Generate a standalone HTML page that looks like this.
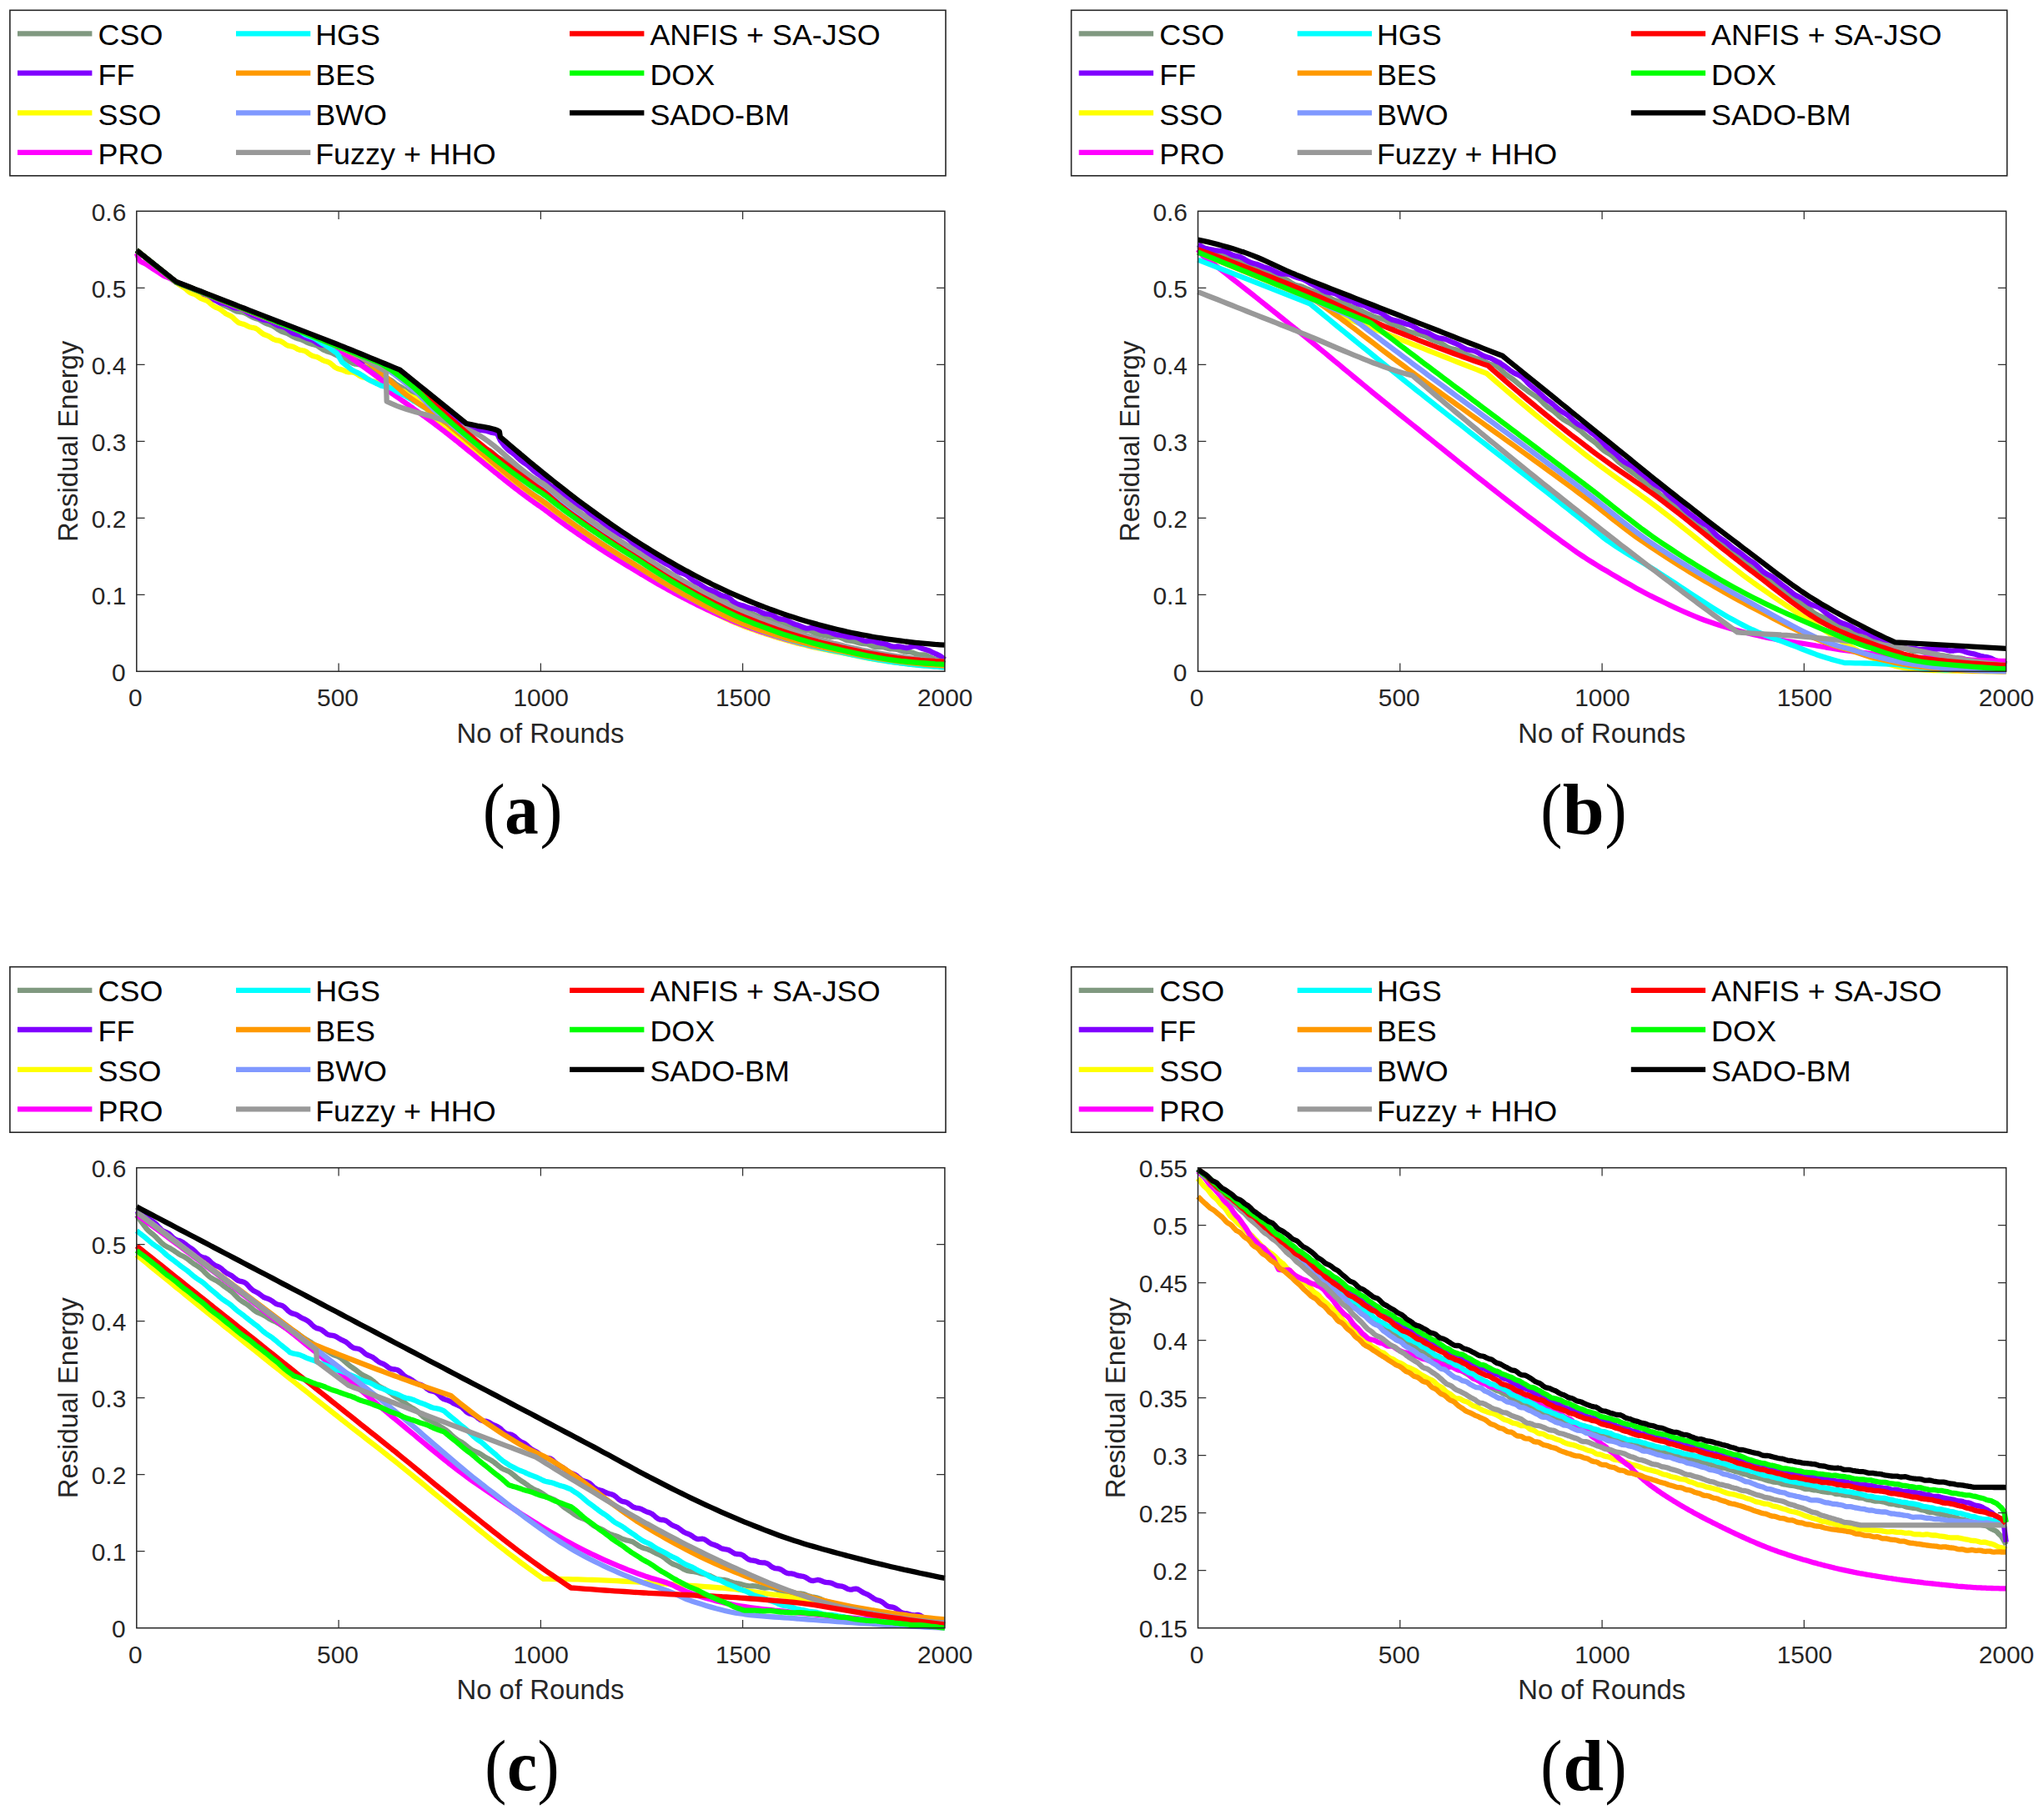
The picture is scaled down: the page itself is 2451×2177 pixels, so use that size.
<!DOCTYPE html><html><head><meta charset="utf-8"><title>Residual Energy</title><style>html,body{margin:0;padding:0;background:#fff;overflow:hidden}svg{display:block}text{font-family:"Liberation Sans",sans-serif}.cap{font-family:"Liberation Serif","DejaVu Serif",serif}</style></head><body>
<svg width="2451" height="2177" viewBox="0 0 2451 2177">
<rect width="2451" height="2177" fill="#fff"/>
<g transform="translate(0,0)">
<rect x="11.9" y="12.3" width="1122.1" height="198.5" fill="#fff" stroke="#262626" stroke-width="1.6"/>
<line x1="21" y1="40.4" x2="110.4" y2="40.4" stroke="#809980" stroke-width="6.3"/>
<text x="117.6" y="53.9" font-size="35.9" fill="#000">CSO</text>
<line x1="21" y1="87.6" x2="110.4" y2="87.6" stroke="#8000ff" stroke-width="6.3"/>
<text x="117.6" y="101.7" font-size="35.9" fill="#000">FF</text>
<line x1="21" y1="135.4" x2="110.4" y2="135.4" stroke="#ffff00" stroke-width="6.3"/>
<text x="117.6" y="149.6" font-size="35.9" fill="#000">SSO</text>
<line x1="21" y1="182.9" x2="110.4" y2="182.9" stroke="#ff00ff" stroke-width="6.3"/>
<text x="117.6" y="197.3" font-size="35.9" fill="#000">PRO</text>
<line x1="283" y1="40.4" x2="372.3" y2="40.4" stroke="#00ffff" stroke-width="6.3"/>
<text x="378.2" y="53.9" font-size="35.9" fill="#000">HGS</text>
<line x1="283" y1="87.6" x2="372.3" y2="87.6" stroke="#ff9900" stroke-width="6.3"/>
<text x="378.2" y="101.7" font-size="35.9" fill="#000">BES</text>
<line x1="283" y1="135.4" x2="372.3" y2="135.4" stroke="#8099ff" stroke-width="6.3"/>
<text x="378.2" y="149.6" font-size="35.9" fill="#000">BWO</text>
<line x1="283" y1="182.9" x2="372.3" y2="182.9" stroke="#999999" stroke-width="6.3"/>
<text x="378.2" y="197.3" font-size="35.9" fill="#000">Fuzzy + HHO</text>
<line x1="683.1" y1="40.4" x2="772.4" y2="40.4" stroke="#ff0000" stroke-width="6.3"/>
<text x="779.4" y="53.9" font-size="35.9" fill="#000">ANFIS + SA-JSO</text>
<line x1="683.1" y1="87.6" x2="772.4" y2="87.6" stroke="#00ff00" stroke-width="6.3"/>
<text x="779.4" y="101.7" font-size="35.9" fill="#000">DOX</text>
<line x1="683.1" y1="135.4" x2="772.4" y2="135.4" stroke="#000000" stroke-width="6.3"/>
<text x="779.4" y="149.6" font-size="35.9" fill="#000">SADO-BM</text>
<clipPath id="clipa"><rect x="159.8" y="253.3" width="977.1" height="556"/></clipPath>
<g clip-path="url(#clipa)" fill="none" stroke-width="6.3" stroke-linejoin="round" stroke-linecap="butt">
<polyline points="163.8,300.2 166.2,302.2 168.6,304.2 171.1,306.1 173.5,308.1 175.9,310.1 178.3,312 180.8,314 183.2,316 185.6,318 188,319.9 190.5,321.9 192.9,323.9 195.3,325.8 197.7,327.8 200.1,329.8 202.6,331.8 205,333.7 207.4,335.7 209.8,337.7 211.3,338.9 212.3,339.3 214.7,340.6 217.1,341.7 217.1,341.8 219.5,342.6 221.9,343.3 223,343.6 224.4,344.1 226.8,345 228.8,346.1 229.2,346.4 231.6,347.7 234.1,348.8 234.6,349.1 236.5,349.8 238.9,350.9 240.5,351.8 241.3,352.4 243.8,354.1 246.2,355.8 246.3,355.9 248.6,357.2 251,358.2 252.1,358.5 253.4,358.8 255.9,359.4 258,360.1 258.3,360.2 260.7,361.5 263.1,363.1 263.8,363.5 265.6,364.6 268,366 269.6,366.8 270.4,367.1 272.8,368.1 275.2,369.2 275.4,369.3 277.7,370.4 280.1,371.8 281.3,372.4 282.5,372.9 284.9,373.7 287.1,374 287.4,374.1 289.8,374.3 292.2,374.9 292.9,375.1 294.6,375.9 297.1,377.2 298.8,378.3 299.5,378.8 301.9,380.1 304.3,381.1 304.6,381.2 306.7,381.9 309.2,382.7 310.4,383.2 311.6,383.8 314,385.2 316.3,386.5 316.4,386.6 318.9,387.8 321.3,388.8 322.1,389 323.7,389.6 326.1,390.5 327.9,391.4 328.5,391.8 331,393.4 333.4,395.2 333.8,395.4 335.8,396.7 338.2,397.8 339.6,398.3 340.7,398.6 343.1,399.4 345.4,400.3 345.5,400.4 347.9,401.7 350.4,403.2 351.3,403.7 352.8,404.5 355.2,405.6 357.1,406.2 357.6,406.3 360,407 362.5,407.8 362.9,408.1 364.9,409 367.3,410.3 368.8,411 369.7,411.4 372.2,412.3 374.6,412.9 374.6,412.9 377,413.5 379.4,414.3 380.4,414.8 381.8,415.6 384.3,417.3 386.3,418.6 386.7,418.9 389.1,420.2 391.5,421.2 392.1,421.4 394,421.9 396.4,422.7 397.9,423.3 398.8,423.7 401.2,424.9 402.2,425.4 403.7,426.2 403.8,426.2 406.1,427.3 408.5,428.2 409.6,428.5 410.9,428.9 413.3,429.9 415.4,431 415.8,431.2 418.2,432.8 420.6,434.4 421.3,434.8 423,435.7 425.5,436.5 427.1,436.7 427.9,436.8 430.3,437.2 432.7,437.7 432.9,437.8 435.1,438.7 437.6,439.9 438.8,440.5 440,441.1 442.4,442.1 444.6,443 444.8,443.1 447.3,444.2 449.7,445.6 450.2,446 450.4,446.1 452.1,447.4 454.5,449.3 456.3,450.5 457,451 459.4,452.2 461.8,453 462.1,453.1 464.2,453.8 466.6,454.9 467.9,455.6 469.1,456.3 471.5,458.1 473.8,459.9 473.9,460 476.3,461.7 478.8,463.2 479.6,463.6 481.2,464.5 483.6,466 485.4,467.2 486,467.7 488.4,469.6 490.9,471.3 491.3,471.6 493.3,472.8 495.7,474 497.1,474.5 498.1,475 499.1,475.4 500.6,476.3 502.9,478.1 503,478.2 505.4,480.7 507.8,483.4 508.8,484.4 510.3,485.9 512.7,488.1 514.6,489.7 515.1,490 517.5,491.8 519.9,493.9 520.4,494.4 522.4,496.1 524.8,498.4 526.3,499.8 527.2,500.6 529.6,502.4 532.1,504 532.1,504.1 534.5,505.7 536.9,507.6 537.9,508.6 539.3,509.9 541.7,512.2 543.8,513.9 544.2,514.3 546.6,515.9 549,517.3 549.6,517.6 551.4,518.6 553.9,520.1 555.4,521.3 556.3,522 558.7,524.1 561.1,526.1 561.3,526.2 563.6,527.8 566,529.2 567.1,529.8 568.4,530.4 570.8,531.7 572.9,533 573.2,533.2 575.7,534.9 578.1,536.5 578.8,536.8 580.5,537.7 582.9,538.7 584.6,539.3 585.4,539.7 587.8,540.9 590.2,542.7 590.4,542.9 592.6,544.8 595,547 596.3,548 597.5,548.9 599.9,550.3 602.1,551.4 602.3,551.5 604.7,552.7 607.2,554.1 607.9,554.6 609.6,555.7 612,557.4 613.8,558.6 614.4,559 616.9,560.3 619.3,561.6 619.6,561.8 621.7,563 624.1,564.9 625.4,566.1 626.5,567.1 629,569.4 631.3,571.3 631.4,571.4 633.8,573 636.2,574.2 637.1,574.5 638.7,575.2 640.1,576 641.1,576.6 642.9,577.8 643.5,578.3 645.9,580.3 648.4,582.3 648.8,582.6 650.3,583.8 650.8,584.1 653.2,585.9 654.6,586.9 655.6,587.6 658,589.7 660.4,592.1 660.5,592.2 662.9,594.8 665.3,597.2 666.3,598 667.7,599.2 670.2,600.7 672.1,601.9 672.6,602.2 675,603.8 677.4,605.8 677.9,606.2 679.8,608.1 682.3,610.4 683.8,611.7 684.7,612.5 687.1,614.3 689.5,615.8 689.6,615.9 692,617.5 694.4,619.4 695.4,620.2 696.8,621.4 699.2,623.4 701.2,624.8 701.3,624.8 701.7,625.1 704.1,626.4 706.5,627.5 707.1,627.8 708.9,628.7 711.3,630.3 712.9,631.6 713.8,632.2 716.2,634.2 718.6,636 718.8,636.1 721,637.4 723.5,638.5 724.6,639 725.9,639.7 728.3,641.1 730.4,642.8 730.7,643 733.1,645 735.6,647 736.3,647.5 738,648.7 740.4,650.2 742.1,651.3 742.8,651.8 745.3,653.5 747.7,655.6 747.9,655.8 750.1,657.7 752.5,659.6 753.8,660.4 755,661.1 757.4,662.2 759.6,663.2 759.8,663.3 762.2,664.6 764.6,666.4 765.4,667 767.1,668.4 769.5,670.5 771.3,671.8 771.9,672.2 774.3,673.6 776.8,674.8 777.1,675 779.2,676 781.6,677.4 782.9,678.2 784,678.9 786.4,680.3 788.8,681.4 788.9,681.5 791.3,682.3 793.7,683.1 794.6,683.4 796.1,684.1 798.6,685.6 800.4,687.1 801,687.6 803.4,689.6 805.8,691.4 806.3,691.7 808.3,692.8 810.7,693.8 812.1,694.4 813.1,694.8 815.5,695.9 817.9,697.3 817.9,697.3 820.4,698.7 822.8,700 823.8,700.4 823.8,700.4 825.2,701 827.6,701.8 829.6,702.6 830.1,702.9 832.5,704.2 834.9,705.9 835.4,706.3 837.3,707.8 839.7,709.4 841.2,710.1 842.2,710.5 844.6,711.2 847,711.7 847.1,711.7 849.4,712.4 851.9,713.5 852.9,714 854.3,714.8 856.7,716 858.7,717 859.1,717.1 861.6,718 864,718.8 864.6,719.1 866.4,719.9 868.8,721.4 870.4,722.5 871.2,723 873.7,724.6 876.1,725.7 876.2,725.8 878.5,726.5 880.9,727.2 882.1,727.6 883.4,728 885.8,729.2 887.9,730.5 888.2,730.7 890.6,732.2 893,733.5 893.7,733.8 895.5,734.3 897.9,734.9 899.6,735.4 900.3,735.6 902.7,736.5 905.2,737.6 905.4,737.7 907.6,738.7 910,739.6 911.2,740 912.4,740.2 914.9,740.6 917.1,741 917.3,741 919.7,741.8 922.1,742.8 922.9,743.2 924.5,743.9 927,744.8 928.7,745.1 929.4,745.2 931.8,745.3 934.2,745.4 934.6,745.5 936.7,745.9 939.1,746.7 940.4,747.3 941.5,747.8 943.9,748.9 946.2,749.8 946.3,749.8 948.8,750.5 951.2,751.2 952.1,751.5 953.6,752 956,753.1 957.9,754.1 958.5,754.3 960.9,755.3 963.3,755.8 963.7,755.9 965.7,756 968.2,756.1 969.6,756.3 970.6,756.5 973,757.3 975.4,758.4 975.4,758.4 977.8,759.6 980.3,760.6 981.2,760.9 982.7,761.2 985.1,761.5 987.1,761.8 987.5,761.9 990,762.4 992.4,763 992.9,763.1 994.8,763.5 997.2,763.8 998.7,763.8 999.6,763.7 1002.1,763.6 1004.5,763.7 1004.6,763.7 1006.9,764.3 1009.3,765.3 1010.4,765.8 1011.8,766.5 1012.2,766.7 1014.2,767.6 1016.2,768.1 1016.6,768.2 1019,768.6 1021.5,768.8 1022.1,768.9 1023.9,769.3 1026.3,770 1027.9,770.5 1028.7,770.8 1031.1,771.4 1033.6,771.8 1033.7,771.8 1036,772 1038.4,772.3 1039.6,772.5 1040.8,772.8 1043.3,773.8 1045.4,774.7 1045.7,774.8 1048.1,775.7 1050.5,776.1 1051.2,776.1 1052.9,776.1 1055.4,776 1057.1,776.1 1057.8,776.1 1060.2,776.5 1062.6,777.2 1062.9,777.3 1065.1,777.9 1067.5,778.3 1068.7,778.4 1069.9,778.4 1072.3,778.5 1074.6,778.8 1074.8,778.8 1075.7,779 1077.2,779.4 1079.6,780.2 1080.4,780.5 1082,781 1084.4,781.6 1086.2,781.7 1086.9,781.8 1089.3,781.8 1091.7,782.1 1092.1,782.2 1094.1,782.7 1096.6,783.7 1097.9,784.2 1099,784.6 1101.4,785.3 1103.7,785.5 1103.8,785.5 1106.2,785.4 1107.7,785.4 1108.7,785.5 1109.6,785.6 1111.1,786.2 1113.5,787.3 1115.4,788.2 1115.9,788.5 1118.4,789.7 1120.3,790.3 1120.8,790.4 1121.2,790.5 1123.2,790.9 1125.6,791.6 1127.1,792.3 1128.1,792.9 1130.5,794.4 1132.9,795.8" stroke="#809980"/>
<polyline points="163.8,300.2 166.2,302.2 168.6,304.2 171.1,306.1 173.5,308.1 175.9,310.1 178.3,312 180.8,314 183.2,316 185.6,318 188,319.9 190.5,321.9 192.9,323.9 195.3,325.8 197.7,327.8 200.1,329.8 202.6,331.8 205,333.7 207.4,335.7 209.8,337.7 211.3,338.9 212.3,339.3 214.7,340.4 217.1,341.2 217.1,341.2 219.5,342.1 221.9,343.2 223,343.8 224.4,344.8 226.8,346.9 228.8,348.4 229.2,348.7 231.6,349.9 234.1,350.7 234.6,350.8 236.5,351.2 238.9,352 240.5,352.7 241.3,353.1 243.8,354.6 246.2,356 246.3,356 248.6,357 251,357.8 252.1,358.1 253.4,358.4 255.9,359.2 258,360.2 258.3,360.3 260.7,361.6 263.1,362.7 263.8,362.9 265.6,363.5 268,363.9 269.6,364.3 270.4,364.4 272.8,365.2 275.2,366.4 275.5,366.5 277.7,367.7 280.1,368.8 281.3,369.2 282.5,369.4 284.9,369.6 287.1,369.7 287.4,369.7 289.8,370.2 292.2,371.3 293,371.8 294.6,373 297.1,374.8 298.8,375.9 299.5,376.3 301.9,377.5 304.3,378.5 304.7,378.6 306.7,379.5 309.2,380.6 310.5,381.3 311.6,381.8 314,382.9 316.3,383.7 316.4,383.7 318.9,384.1 321.3,384.5 322.2,384.7 323.7,385.2 326.1,386.4 328,387.5 328.5,387.9 331,389.3 333.4,390.4 333.8,390.6 335.8,391.1 338.2,391.7 339.7,392.1 340.7,392.5 343.1,393.8 345.5,395.5 347.9,397.4 350.4,399 351.3,399.5 352.8,400 355.2,400.7 357.2,401.2 357.6,401.3 360,402.1 362.5,403.2 363,403.5 364.9,404.4 367.3,405.4 368.8,406 369.7,406.2 372.2,407 374.6,407.9 374.7,408 377,409.2 379.4,410.8 380.5,411.5 381.8,412.3 384.3,413.3 386.4,413.7 386.7,413.8 389.1,413.9 391.5,414 392.2,414.1 394,414.6 394.9,415 396.4,415.7 398,416.6 398.8,417.1 401.2,418.3 403.7,419.1 403.9,419.2 406.1,419.7 408.5,420.3 409.7,420.7 410,420.8 410.9,421.3 413.3,422.6 415.5,424 415.8,424.1 418.2,425.6 420.6,426.7 421.4,427 423,427.6 425.5,428.4 427.2,429.2 427.9,429.5 430.3,430.8 432.7,432 433,432.1 435.1,432.8 437.6,433.1 438.9,433 440,433 442.4,433.1 444.7,433.6 444.8,433.6 447.3,434.8 449.7,436.4 450.5,437 452.1,437.9 454.5,439.1 456.4,439.6 457,439.8 459.4,440.3 461.8,440.9 462.2,441.1 464.2,441.9 466.6,443 468.1,443.7 469.1,444.1 471.5,444.9 473.9,445.4 473.9,445.4 476.3,445.9 478.8,446.7 479.7,447.1 481.2,448.5 483.6,450.9 486,453.1 488.4,454.8 490.9,456.3 493.3,457.7 495.7,459.5 498.1,461.8 500.6,464.3 503,466.8 505.4,468.7 507.8,470.1 510.3,471.3 512.7,472.5 515.1,474.2 517.5,476.3 519.9,478.6 522.4,480.8 524.8,482.8 527.2,484.9 529.6,487.2 532.1,489.8 534.5,492.5 536.9,495.1 539.3,497.1 541.7,498.7 544.2,500 546.6,501.6 549,503.5 551.4,505.9 553.9,508.2 556.3,510.1 558.7,511.6 559.2,511.9 561.1,511.8 563.6,511.8 565,512 566,512.2 568.4,513.2 570.8,514.3 571.3,514.5 573.2,515.2 575.7,515.8 576.6,515.9 578.1,516 580.5,516.3 582.5,516.7 582.9,516.8 585.4,517.6 587.8,518.3 588.3,518.4 590.2,519 592.6,519.4 594.1,519.6 595,519.9 596,520.3 597.5,523 599.9,528.2 602.3,531.3 604.7,534.6 605.8,535.9 607.2,537.5 609.6,539.8 611.6,541.4 612,541.6 614.4,543.3 616.9,545.2 617.5,545.7 619.3,547.4 621.7,549.8 623.3,551.3 624.1,552 626.5,553.9 629,555.5 629.2,555.7 631.4,557.1 633.8,559 635,560.1 636.2,561.3 638.7,563.6 640.1,565 640.9,565.7 641.1,565.8 643.5,567.6 645.9,569.2 646.8,569.8 648.4,571 650.3,572.7 650.8,573.2 652.6,575.1 653.2,575.8 655.6,578.6 658,581 658.5,581.3 660.5,582.8 662.9,584 664.3,584.6 665.3,585 667.7,586.3 670.2,588 670.2,588.1 672.6,590.1 675,592.2 676,593.1 677.4,594.1 679.8,595.7 681.9,597 682.3,597.3 684.7,599 687.1,601 687.8,601.6 689.5,603.1 692,605.1 693.6,606.2 694.4,606.7 696.8,608 699.2,609.3 699.5,609.4 701.2,610.6 701.7,610.9 704.1,613 705.3,614.2 706.5,615.4 708.9,617.6 711.2,619.2 711.3,619.3 713.8,620.6 716.2,621.8 717,622.3 718.6,623.3 721,625.3 722.9,627.1 723.5,627.6 725.9,630.1 728.3,632.1 728.8,632.5 730.7,633.8 733.1,635 734.6,635.8 735.6,636.3 738,637.7 740.4,639.3 740.5,639.3 742.8,640.8 745.3,642.1 746.3,642.6 747.7,643.2 750.1,644.3 752.2,645.6 752.5,645.8 755,647.9 757.4,650.4 758,651 759.8,652.8 762.2,654.8 763.9,655.8 764.6,656.2 767.1,657.4 769.5,658.6 769.8,658.8 771.9,660.3 774.3,662.2 775.6,663.3 776.8,664.3 779.2,666 781.5,667.2 781.6,667.3 784,668.2 786.4,669.1 787.3,669.5 788.9,670.3 791.3,671.8 793.2,673.1 793.7,673.4 796.1,674.9 798.6,676.1 799,676.4 801,677.3 803.4,678.7 804.9,679.7 805.8,680.4 808.3,682.5 810.7,684.4 810.8,684.5 813.1,685.9 815.5,686.9 816.6,687.2 817.9,687.5 820.4,688.3 822.5,689.3 822.8,689.5 823.8,690.2 825.2,691.3 827.6,693.5 828.3,694.1 830.1,695.5 832.5,697.2 834.2,698.2 834.9,698.5 837.3,699.7 839.7,701.1 840,701.3 842.2,702.8 844.6,704.4 845.9,705.2 847,705.9 849.4,706.9 851.8,707.6 851.9,707.7 854.3,708.5 856.7,709.5 857.6,710 859.1,710.9 861.6,712.4 863.5,713.4 864,713.7 866.4,714.5 868.8,715.1 869.3,715.2 871.2,715.8 873.7,717 875.2,718 876.1,718.7 878.5,720.8 880.9,722.8 881,722.8 883.4,724.2 885.8,725.1 886.9,725.4 888.2,725.7 890.6,726.3 892.8,727 893,727.1 895.5,728.1 897.9,729 898.6,729.3 900.3,729.7 902.7,730.2 904.5,730.5 905.2,730.7 907.6,731.5 910,732.7 910.3,732.9 912.4,734.1 914.9,735.3 916.2,735.8 917.3,736.1 919.7,736.4 922,736.6 922.1,736.7 924.5,737.2 927,738.3 927.9,738.8 929.4,739.7 931.8,741.1 933.8,741.9 934.2,742.1 936.7,742.6 939.1,742.9 939.6,743 941.5,743.4 943.9,744.2 945.5,745 946.3,745.5 948.8,746.8 951.2,748 951.3,748 953.6,748.9 956,749.6 957.2,750 958.5,750.4 960.9,751.5 963,752.4 963.3,752.5 965.7,753.3 968.2,753.6 968.9,753.6 970.6,753.4 973,753 974.8,752.9 975.4,752.9 977.8,753.5 980.3,754.5 980.6,754.6 982.7,755.6 985.1,756.5 986.5,756.9 987.5,757 990,757.2 992.3,757.5 992.4,757.5 994.8,758.1 997.2,759.1 998.2,759.5 999.6,760.1 1002.1,761 1004,761.4 1004.5,761.5 1006.9,761.7 1009.3,762 1009.9,762 1011.8,762.4 1012.2,762.6 1014.2,763.1 1015.8,763.6 1016.6,763.8 1019,764.2 1021.5,764.2 1021.6,764.2 1023.9,764.1 1026.3,764.3 1027.5,764.6 1028.7,765.1 1031.1,766.3 1033.3,767.5 1033.6,767.6 1036,768.5 1038.4,768.9 1039.2,769 1040.8,768.9 1043.3,768.7 1045,768.7 1045.7,768.7 1048.1,769.2 1050.5,770 1050.9,770.1 1052.9,770.7 1055.4,771.3 1056.8,771.5 1057.8,771.6 1060.2,772 1062.6,772.7 1062.6,772.7 1065.1,773.7 1067.5,774.7 1068.5,775 1069.9,775.4 1072.3,775.6 1074.3,775.6 1074.8,775.5 1075.7,775.5 1077.2,775.4 1079.6,775.6 1080.2,775.7 1082,776.1 1084.4,776.7 1086,777 1086.9,777 1089.3,776.8 1091.7,776.1 1091.9,776 1094.1,775.4 1096.6,775.1 1097.8,775.1 1099,775.3 1101.4,776.1 1103.6,777 1103.8,777.1 1106.2,778 1108.7,778.7 1109.5,778.9 1111.1,779.4 1113.5,780.2 1115.3,781 1115.9,781.3 1118.4,782.6 1120.3,783.4 1120.8,783.6 1121.2,783.8 1123.2,784.7 1125.6,785.8 1127,786.5 1128.1,787.3 1130.5,789.2 1132.9,791.2" stroke="#8000ff"/>
<polyline points="163.8,300.2 166.2,302.2 168.6,304.2 171.1,306.1 173.5,308.1 175.9,310.1 178.3,312 180.8,314 183.2,316 185.6,318 188,319.9 190.5,321.9 192.9,323.9 195.3,325.8 197.7,327.8 200.1,329.8 202.6,331.8 205,333.7 207.4,335.7 209.8,337.7 211.3,338.9 212.3,339.5 214.7,341.3 217.1,342.7 217.1,342.8 219.5,344.2 221.9,346 223,346.8 224.4,348.1 226.8,350.2 228.8,351.4 229.2,351.6 231.6,352.4 233.6,353.2 234.1,353.4 234.6,353.7 236.5,354.9 238.9,356.6 240.5,357.7 241.3,358.1 243.8,359.1 246.2,359.9 246.3,359.9 248.6,361 251,362.9 252.1,363.9 253.4,365.1 255.9,367.1 258,368.3 258.3,368.5 260.7,369.4 263.1,370.5 263.8,370.9 265.6,372.1 268,374.1 269.6,375.3 270.4,375.9 272.8,377.2 275.2,378.3 275.4,378.4 277.7,379.6 280.1,381.7 281.3,382.9 282.5,384.1 284.9,386.2 287.1,387.5 287.4,387.6 289.8,388.3 292.2,388.9 292.9,389.2 294.6,389.9 297.1,391.2 298.8,392 299.5,392.2 301.9,392.8 304.3,393.2 304.6,393.3 306.7,393.9 309.2,395.4 310.4,396.5 311.6,397.5 314,399.5 316.3,401 316.4,401 318.9,402 321.3,402.9 322.1,403.3 323.7,404.2 326.1,405.8 327.9,406.9 328.5,407.1 331,408 333.4,408.3 333.8,408.4 335.8,408.9 338.2,410.1 339.6,411 340.7,411.8 343.1,413.5 345.4,414.6 345.5,414.6 347.9,415.1 350.4,415.6 351.3,415.9 352.8,416.5 355.2,417.8 357.1,418.9 357.6,419.1 360,419.9 362.5,420.2 362.9,420.3 364.9,420.7 367.3,421.9 368.8,423 369.7,423.7 372.2,425.5 374.6,426.8 374.6,426.8 377,427.5 379.4,428 380.4,428.4 381.8,429 384.3,430.4 386.3,431.7 386.7,431.9 389.1,432.9 391.5,433.6 392.1,433.7 394,434.4 394.9,434.9 396.4,435.9 397.9,437.2 398.8,437.9 401.2,440.1 403.7,441.7 403.8,441.7 406.1,442.5 408.5,443.1 409.6,443.4 410,443.5 410.9,443.8 413.3,444.9 415.4,445.7 415.8,445.9 418.2,446.3 420.6,446.3 421.3,446.3 423,446.4 425.5,447.1 427.1,448 427.9,448.5 430.3,450.2 432.7,451.6 432.9,451.7 435.1,452.4 437.6,453 438.1,453.2 438.8,453.4 440,454 442.4,455.3 444.6,456.6 444.8,456.7 447.3,457.5 449.7,457.8 450.4,457.9 452.1,458 454.5,458.7 456.3,459.6 457,460.1 459.4,461.7 461.8,462.9 462.1,463.1 464.2,463.6 466.6,464 467.9,464.2 469.1,464.6 471.5,465.7 473.8,466.8 473.9,466.9 476.3,467.7 478.8,468.1 479.6,468.1 481.2,468.4 483.6,469.2 485.4,470.4 486,470.8 488.4,472.8 490.9,474.5 491.3,474.8 493.3,475.8 495.7,476.7 497.1,477.2 498.1,477.8 499.1,478.5 500.6,479.8 502.9,482.1 503,482.1 505.4,484.8 507.8,486.9 508.8,487.7 510.3,489.1 512.7,491.9 514.6,494.7 515.1,495.4 517.5,499.1 519.9,502.5 520.4,503 522.4,504.9 524.8,506.9 526.3,508.1 527.2,508.9 529.6,511.2 532.1,513.6 532.1,513.6 534.5,515.4 536.9,516.6 537.9,517 539.3,517.5 541.7,518.8 543.8,520.4 544.2,520.8 546.6,523.3 549,525.7 549.6,526.2 551.4,527.6 553.9,529.2 555.4,530.3 556.3,530.9 558.7,533.2 561.1,535.7 561.3,535.9 563.6,538 566,539.7 567.1,540.3 568.4,541 570.8,542.6 572.9,544.6 573.2,544.9 575.7,547.6 578.1,550.2 578.8,550.8 580.5,552.1 582.9,553.5 584.6,554.5 585.4,555 587.8,556.9 590.2,559.1 590.4,559.3 592.6,561 595,562.3 596.3,562.8 597.5,563.3 599.9,564.6 602.1,566.4 602.3,566.7 604.7,569.2 607.2,571.8 607.9,572.5 609.6,573.8 612,575.2 613.8,576.3 614.4,576.7 616.9,578.6 619.3,580.7 619.6,581 621.7,582.6 624.1,584 625.4,584.5 626.5,585 629,586.2 631.3,588.1 631.4,588.2 633.8,590.9 636.2,593.5 637.1,594.3 638.7,595.6 640.1,596.6 641.1,597.2 642.9,598.5 643.5,598.9 645.9,600.7 648.4,602.3 648.8,602.6 650.3,603.8 650.8,604.2 653.2,606.1 654.6,607.1 655.6,607.9 658,609.8 660.4,611.7 660.5,611.7 662.9,613.6 665.3,615.4 666.3,616.2 667.7,617.3 670.2,619.1 672.1,620.6 672.6,620.9 675,622.7 677.4,624.5 677.9,624.9 679.8,626.3 682.3,628.1 683.8,629.2 684.7,629.9 687.1,631.6 689.5,633.4 689.6,633.4 692,635.1 694.4,636.9 695.4,637.6 696.8,638.6 699.2,640.3 701.2,641.7 701.3,641.7 701.7,642 704.1,643.7 706.5,645.4 707.1,645.8 708.9,647 711.3,648.7 712.9,649.8 713.8,650.4 716.2,652 718.6,653.6 718.8,653.7 721,655.3 723.5,656.9 724.6,657.6 725.9,658.5 728.3,660.1 730.4,661.5 730.7,661.7 733.1,663.3 735.6,664.8 736.3,665.3 738,666.4 740.4,667.9 742.1,669 742.8,669.5 745.3,671 747.7,672.5 747.9,672.7 750.1,674.1 752.5,675.6 753.8,676.4 755,677.1 757.4,678.6 759.6,680 759.8,680.1 762.2,681.7 764.6,683.2 765.4,683.7 767.1,684.7 769.5,686.2 771.3,687.3 771.9,687.7 774.3,689.3 776.8,690.8 777.1,691 779.2,692.3 781.6,693.8 782.9,694.6 784,695.3 786.4,696.8 788.8,698.2 788.9,698.2 791.3,699.7 793.7,701.2 794.6,701.7 796.1,702.6 798.6,704 800.4,705.1 801,705.4 803.4,706.8 805.8,708.2 806.3,708.5 808.3,709.6 810.7,711 812.1,711.8 813.1,712.4 815.5,713.7 817.9,715.1 817.9,715.1 820.4,716.4 822.8,717.7 823.8,718.3 823.8,718.3 825.2,719.1 827.6,720.4 829.6,721.4 830.1,721.7 832.5,722.9 834.9,724.2 835.4,724.5 837.3,725.5 839.7,726.8 841.2,727.5 842.2,728 844.6,729.2 847,730.5 847.1,730.5 849.4,731.7 851.9,732.9 852.9,733.4 854.3,734.1 856.7,735.3 858.7,736.3 859.1,736.5 861.6,737.6 864,738.8 864.6,739.1 866.4,740 868.8,741.1 870.4,741.9 871.2,742.3 873.7,743.4 876.1,744.5 876.2,744.6 878.5,745.5 880.9,746.6 882.1,747.1 883.4,747.6 885.8,748.6 887.9,749.5 888.2,749.6 890.6,750.5 893,751.5 893.7,751.7 895.5,752.4 897.9,753.2 899.6,753.9 900.3,754.1 902.7,755 905.2,755.8 905.4,755.9 907.6,756.7 910,757.5 911.2,757.9 912.4,758.3 914.9,759.1 917.1,759.8 917.3,759.9 919.7,760.7 922.1,761.5 922.9,761.7 924.5,762.2 927,763 928.7,763.6 929.4,763.8 931.8,764.5 934.2,765.3 934.6,765.4 936.7,766 939.1,766.7 940.4,767.1 941.5,767.4 943.9,768.1 946.2,768.7 946.3,768.8 948.8,769.4 951.2,770.1 952.1,770.3 953.6,770.7 956,771.4 957.9,771.9 958.5,772 960.9,772.6 963.3,773.2 963.7,773.3 965.7,773.8 968.2,774.4 969.6,774.8 970.6,775 973,775.6 975.4,776.1 975.4,776.1 977.8,776.7 980.3,777.2 981.2,777.4 982.7,777.7 985.1,778.2 987.1,778.7 987.5,778.8 990,779.2 992.4,779.7 992.9,779.8 994.8,780.2 997.2,780.7 998.7,781 999.6,781.1 1002.1,781.6 1004.5,782.1 1004.6,782.1 1006.9,782.5 1009.3,783 1010.4,783.2 1011.8,783.5 1012.2,783.6 1014.2,784 1016.2,784.4 1016.6,784.5 1019,785 1021.5,785.5 1022.1,785.6 1023.9,786 1026.3,786.5 1027.9,786.9 1028.7,787 1031.1,787.5 1033.6,788 1033.7,788 1036,788.5 1038.4,789 1039.6,789.2 1040.8,789.4 1043.3,789.8 1045.4,790.2 1045.7,790.3 1048.1,790.7 1050.5,791.1 1051.2,791.2 1052.9,791.5 1055.4,791.9 1057.1,792.1 1057.8,792.2 1060.2,792.6 1062.6,793 1062.9,793 1065.1,793.3 1067.5,793.7 1068.7,793.9 1069.9,794 1072.3,794.4 1074.6,794.7 1074.8,794.7 1075.7,794.8 1077.2,795 1079.6,795.3 1080.4,795.4 1082,795.6 1084.4,795.9 1086.2,796.1 1086.9,796.2 1089.3,796.4 1091.7,796.7 1092.1,796.7 1094.1,797 1096.6,797.2 1097.9,797.3 1099,797.5 1101.4,797.7 1103.7,797.9 1103.8,797.9 1106.2,798.1 1108.7,798.3 1109.6,798.4 1111.1,798.5 1113.5,798.7 1115.4,798.9 1115.9,798.9 1118.4,799.1 1120.3,799.2 1120.8,799.3 1121.2,799.3 1123.2,799.4 1125.6,799.6 1127.1,799.7 1128.1,799.7 1130.5,799.9 1132.9,800.1" stroke="#ffff00"/>
<polyline points="163.8,303.9 166.2,309.7 167.7,313.1 168.6,313.6 171.1,314.8 173.5,316 173.7,316.1 175.9,317.4 178.3,319 179.7,320 180.8,320.7 183.2,322.3 185.6,323.8 185.7,323.9 188,325.3 190.5,327 191.8,327.9 192.9,328.6 195.3,330.2 197.7,331.5 197.8,331.5 200.1,332.4 202.6,333.4 203.8,334 205,334.6 207.4,336.1 209.8,337.8 212.3,338.9 214.7,339.9 215.7,340.3 217.1,340.9 219.5,341.9 221.6,342.7 221.9,342.8 224.4,343.8 226.8,344.8 227.5,345.1 229.2,345.8 231.6,346.7 233.4,347.5 234.1,347.7 236.5,348.7 238.9,349.7 239.3,349.8 241.3,350.7 243.8,351.6 245.2,352.2 246.2,352.6 248.6,353.6 251,354.6 251.1,354.6 253.4,355.5 255.9,356.5 257,357 258.3,357.5 260.7,358.5 262.9,359.3 263.1,359.4 265.6,360.4 268,361.4 268.8,361.7 270.4,362.4 272.8,363.3 274.7,364.1 275.2,364.3 277.7,365.3 280.1,366.3 280.6,366.5 282.5,367.2 284.9,368.2 286.4,368.8 287.4,369.2 289.8,370.2 292.2,371.1 292.3,371.2 294.6,372.1 297.1,373.1 298.2,373.6 299.5,374.1 301.9,375 304.1,375.9 304.3,376 306.7,377 309.2,378 310,378.3 311.6,378.9 314,379.9 315.9,380.6 316.4,380.8 318.9,381.7 321.3,382.6 321.8,382.8 323.7,383.5 326.1,384.4 327.7,385 328.5,385.3 331,386.2 333.4,387.1 333.6,387.1 335.8,387.9 338.2,388.8 339.5,389.2 340.7,389.7 343.1,390.5 345.4,391.4 345.5,391.4 347.9,392.3 350.4,393.2 351.3,393.5 352.8,394.1 355.2,395 357.2,395.7 357.6,395.9 360,396.8 362.5,397.7 363.1,397.9 364.9,398.7 367.3,399.6 369,400.3 369.7,400.6 372.2,401.6 374.6,402.6 374.8,402.7 377,403.7 379.4,404.7 380.7,405.3 381.8,405.8 384.3,406.9 386.6,408 386.7,408.1 389.1,409.2 391.5,410.4 392.5,410.9 394,411.7 396.4,412.9 398.4,414.1 398.8,414.3 401.2,415.9 403.7,417.5 404.3,418 406.1,419.2 407.5,420.2 408.5,420.8 410.2,422 410.9,422.5 413.3,424.1 415.8,425.8 416.1,426 418.2,427.5 420.6,429.2 422,430.1 423,430.8 425.5,432.5 427.9,434.2 427.9,434.3 430.3,436 432.7,437.7 433.8,438.4 435.1,439.4 437.6,441.2 439.7,442.7 440,442.9 442.4,444.7 444.8,446.4 445.6,447 447.3,448.2 449.7,450 451.5,451.3 452.1,451.8 454.5,453.6 456.5,455.1 457,455.4 457.4,455.7 459.4,457.3 461.8,459.2 463.3,460.3 464.2,464.4 465.2,468.6 466.6,469.6 469.1,471.2 471,472.6 471.5,472.9 473.9,474.6 476.3,476.3 476.9,476.7 478.8,478 481.2,479.7 482.8,480.8 483.6,481.4 486,483.1 487,483.8 488.4,484.8 488.6,484.9 490.9,486.5 493.3,488.2 494.5,489.1 495.7,490 498.1,491.7 500.3,493.3 500.6,493.4 503,495.2 505.4,496.9 506.2,497.5 507.8,498.7 510.3,500.4 512,501.7 512.7,502.2 515.1,504 517.5,505.8 517.9,506.1 519.9,507.6 522.4,509.4 523.8,510.5 524.8,511.2 527.2,513.1 529.6,514.9 529.6,514.9 532.1,516.8 534.5,518.7 535.5,519.5 536.9,520.6 539.3,522.5 541.3,524.1 541.7,524.4 544.2,526.3 546.6,528.3 547.2,528.7 549,530.2 551.4,532.2 553,533.4 553.9,534.1 556.3,536.1 558.7,538 558.9,538.2 561.1,540 563.6,542 564.8,542.9 566,543.9 568.4,545.9 570.6,547.7 570.8,547.9 573.2,549.9 575.7,551.8 576.5,552.5 578.1,553.8 580.5,555.8 582.3,557.3 582.9,557.8 585.4,559.7 587.8,561.7 588.2,562 590.2,563.7 592.6,565.6 594,566.8 595,567.6 597.5,569.5 599.9,571.5 599.9,571.5 602.3,573.4 604.7,575.4 605.8,576.2 607.2,577.3 609.6,579.2 611.6,580.8 612,581.1 614.4,583 616.9,584.9 617.5,585.4 619.3,586.8 621.7,588.6 623.3,589.9 624.1,590.5 626.5,592.3 629,594.1 629.2,594.3 631.4,595.9 633.8,597.7 635,598.7 636.2,599.5 638.7,601.3 640.1,602.3 640.9,602.9 641.1,603 643.5,604.7 645.9,606.3 646.8,606.9 648.4,608 650.3,609.3 650.8,609.7 652.6,611 653.2,611.4 655.6,613.2 658,615 658.5,615.4 660.5,616.9 662.9,618.7 664.3,619.8 665.3,620.5 667.7,622.4 670.2,624.2 670.2,624.2 672.6,625.9 675,627.7 676,628.4 677.4,629.4 679.8,631.2 681.9,632.6 682.3,632.9 684.7,634.6 687.1,636.3 687.8,636.8 689.5,638 692,639.7 693.6,640.8 694.4,641.4 696.8,643 699.2,644.7 699.5,644.9 701.2,646 701.7,646.3 704.1,648 705.3,648.8 706.5,649.6 708.9,651.2 711.2,652.7 711.3,652.8 713.8,654.4 716.2,656 717,656.6 718.6,657.6 721,659.2 722.9,660.4 723.5,660.7 725.9,662.3 728.3,663.8 728.8,664.1 730.7,665.4 733.1,666.9 734.6,667.8 735.6,668.4 738,669.9 740.4,671.4 740.5,671.4 742.8,672.9 745.3,674.4 746.3,675 747.7,675.8 750.1,677.3 752.2,678.6 752.5,678.8 755,680.2 757.4,681.7 758,682.1 759.8,683.1 762.2,684.6 763.9,685.6 764.6,686 767.1,687.5 769.5,689 769.8,689.1 771.9,690.4 774.3,691.8 775.6,692.6 776.8,693.3 779.2,694.7 781.5,696.1 781.6,696.1 784,697.6 786.4,699 787.3,699.5 788.9,700.4 791.3,701.7 793.2,702.8 793.7,703.1 796.1,704.5 798.6,705.8 799,706.1 801,707.2 803.4,708.5 804.9,709.3 805.8,709.8 808.3,711.1 810.7,712.4 810.8,712.5 813.1,713.7 815.5,715 816.6,715.6 817.9,716.3 820.4,717.5 822.5,718.6 822.8,718.8 823.8,719.3 825.2,720 827.6,721.3 828.3,721.6 830.1,722.5 832.5,723.7 834.2,724.5 834.9,724.9 837.3,726.1 839.7,727.3 840,727.4 842.2,728.5 844.6,729.6 845.9,730.2 847,730.8 849.4,731.9 851.8,733 851.9,733 854.3,734.2 856.7,735.3 857.6,735.7 859.1,736.4 861.6,737.4 863.5,738.3 864,738.5 866.4,739.6 868.8,740.7 869.3,740.9 871.2,741.7 873.7,742.7 875.2,743.4 876.1,743.8 878.5,744.8 880.9,745.8 881,745.8 883.4,746.7 885.8,747.7 886.9,748.1 888.2,748.6 890.6,749.6 892.8,750.4 893,750.5 895.5,751.4 897.9,752.3 898.6,752.5 900.3,753.2 902.7,754 904.5,754.6 905.2,754.9 907.6,755.7 910,756.6 910.3,756.7 912.4,757.4 914.9,758.2 916.2,758.6 917.3,759 919.7,759.8 922,760.5 922.1,760.6 924.5,761.3 927,762.1 927.9,762.4 929.4,762.8 931.8,763.6 933.8,764.2 934.2,764.3 936.7,765.1 939.1,765.8 939.6,765.9 941.5,766.5 943.9,767.2 945.5,767.6 946.3,767.8 948.8,768.5 951.2,769.2 951.3,769.2 953.6,769.8 956,770.4 957.2,770.7 958.5,771.1 960.9,771.7 963,772.2 963.3,772.3 965.7,772.9 968.2,773.5 968.9,773.7 970.6,774.1 973,774.6 974.8,775.1 975.4,775.2 977.8,775.7 980.3,776.3 980.6,776.4 982.7,776.8 985.1,777.3 986.5,777.6 987.5,777.8 990,778.3 992.3,778.8 992.4,778.8 994.8,779.3 997.2,779.8 998.2,779.9 999.6,780.2 1002.1,780.7 1004,781.1 1004.5,781.2 1006.9,781.6 1009.3,782.1 1009.9,782.2 1011.8,782.6 1012.2,782.7 1014.2,783.1 1015.8,783.4 1016.6,783.5 1019,784 1021.5,784.5 1021.6,784.6 1023.9,785 1026.3,785.5 1027.5,785.7 1028.7,786 1031.1,786.5 1033.3,786.9 1033.6,786.9 1036,787.4 1038.4,787.8 1039.2,788 1040.8,788.3 1043.3,788.7 1045,789 1045.7,789.1 1048.1,789.5 1050.5,789.9 1050.9,789.9 1052.9,790.2 1055.4,790.6 1056.8,790.8 1057.8,791 1060.2,791.3 1062.6,791.7 1062.6,791.7 1065.1,792 1067.5,792.4 1068.5,792.5 1069.9,792.7 1072.3,793 1074.3,793.3 1074.8,793.3 1075.7,793.4 1077.2,793.6 1079.6,793.9 1080.2,794 1082,794.2 1084.4,794.5 1086,794.7 1086.9,794.8 1089.3,795 1091.7,795.3 1091.9,795.3 1094.1,795.5 1096.6,795.8 1097.8,795.9 1099,796 1101.4,796.3 1103.6,796.5 1103.8,796.5 1106.2,796.7 1108.7,796.9 1109.5,797 1111.1,797.1 1113.5,797.3 1115.3,797.4 1115.9,797.4 1118.4,797.6 1120.3,797.8 1120.8,797.8 1121.2,797.8 1123.2,798 1125.6,798.1 1127,798.2 1128.1,798.3 1130.5,798.4 1132.9,798.6" stroke="#ff00ff"/>
<polyline points="163.8,300.2 166.2,302.2 168.6,304.1 171.1,306.1 173.5,308 175.9,310 178.3,311.9 180.8,313.9 183.2,315.8 185.6,317.8 188,319.7 190.5,321.6 192.9,323.6 195.3,325.5 197.7,327.5 200.1,329.4 202.6,331.4 205,333.3 207.4,335.3 209.8,337.2 211.3,338.4 212.3,338.8 214.7,339.8 217.1,340.7 217.1,340.7 219.5,341.7 221.9,342.7 223,343.1 224.4,343.6 226.8,344.6 228.8,345.4 229.2,345.5 231.6,346.5 234.1,347.5 234.7,347.7 236.5,348.4 238.9,349.4 240.5,350 241.3,350.4 243.8,351.3 246.2,352.3 246.3,352.3 248.6,353.2 251,354.2 252.2,354.7 253.4,355.1 255.9,356.1 258,357 258.3,357.1 260.7,358 263.1,359 263.9,359.3 265.6,359.9 268,360.9 269.7,361.6 270.4,361.8 272.8,362.8 275.2,363.7 275.6,363.9 277.7,364.7 280.1,365.6 281.4,366.2 282.5,366.6 284.9,367.5 287.3,368.5 287.4,368.5 289.8,369.5 292.2,370.4 293.1,370.8 294.6,371.4 297.1,372.3 298.9,373 299.5,373.2 301.9,374.2 304.3,375.1 304.8,375.3 306.7,376.1 309.2,377 310.6,377.6 311.6,378 314,378.9 316.4,379.8 316.5,379.8 318.9,380.7 321.3,381.6 322.3,382 323.7,382.5 326.1,383.3 328.2,384.1 328.5,384.2 331,385.1 333.4,386 334,386.2 335.8,386.9 338.2,387.8 339.9,388.5 340.7,388.8 343.1,389.8 345.5,390.7 345.7,390.8 347.9,391.8 350.4,392.6 351.5,393 352.8,393.5 354.2,394.1 355.2,394.5 357.4,395.7 357.6,395.8 360,397.4 362.5,399.3 363.2,399.8 364.9,400.9 367.3,402.1 369.1,402.8 369.7,403.1 372.2,403.9 374.6,404.7 374.9,404.9 377,405.9 379.4,407.3 380.8,408.2 381.8,408.9 384.3,410.5 386.6,412 386.7,412 389.1,413.5 391.5,414.9 392.4,415.5 394,416.5 396.4,418.2 398.3,419.6 398.8,420 401.2,421.8 403.7,423.4 404.1,423.7 406.1,427.2 408.5,431.5 410,434.2 410.9,434.8 413.3,436.7 415.8,438.7 415.8,438.7 418.2,440.7 420.6,442.6 421.6,443.3 423,444.2 425.5,445.5 427.4,446.4 427.9,446.6 430.3,447.8 432.7,449.2 433.3,449.5 435.1,450.7 437.6,452.4 439.1,453.5 440,454.1 442.4,455.5 444.8,456.8 444.9,456.8 447.3,457.9 449.7,459.1 450.8,459.7 452.1,460.3 454.5,461.5 456.5,462.4 456.6,462.4 457,462.6 459.4,463.2 461.8,463.8 462.4,463.9 464.2,464.1 466.6,464.7 468.3,465.2 469.1,465.6 471.5,466.8 473.9,468.3 474.1,468.5 476.3,469.9 478.8,471.3 479.9,471.9 481.2,472.5 483.6,473.6 485.7,474.6 486,474.8 488.4,476.2 490.9,477.7 491.6,478.1 493.3,479.2 495.7,480.7 497.4,481.7 498.1,482.1 500.6,483.6 503,485.1 503.2,485.3 505.4,486.6 507.8,488.1 509.1,488.9 510.3,489.6 512.7,491.1 514.9,492.4 515.1,492.6 517.5,494.1 519.9,495.7 520.7,496.3 522.4,497.4 524.8,499.1 526.6,500.4 527.2,500.8 529.6,502.6 532.1,504.4 532.4,504.7 534.5,506.3 536.9,508.1 538.2,509.1 539.3,510 541.7,511.9 544,513.7 544.2,513.8 546.6,515.8 549,517.7 549.9,518.4 551.4,519.7 553.9,521.7 555.7,523.3 556.3,523.8 558.7,525.8 561.1,527.8 561.5,528.2 563.6,529.9 566,532 567.4,533.2 568.4,534.1 570.8,536.2 573.2,538.2 573.2,538.3 575.7,540.4 578.1,542.5 579,543.3 580.5,544.6 582.9,546.7 584.9,548.4 585.4,548.8 587.8,550.9 590.2,553 590.7,553.4 592.6,555.1 595,557.2 596.5,558.5 597.5,559.3 599.9,561.4 602.3,563.5 602.3,563.5 604.7,565.5 607.2,567.6 608.2,568.4 609.6,569.6 612,571.6 614,573.3 614.4,573.6 616.9,575.6 619.3,577.6 619.8,578 621.7,579.5 624.1,581.4 625.7,582.7 626.5,583.3 629,585.2 631.4,587.1 631.5,587.2 633.8,588.9 636.2,590.7 637.3,591.5 638.7,592.5 640.1,593.5 641.1,594.2 643.2,595.6 643.5,595.8 645.9,597.4 648.4,599 649,599.4 650.3,600.3 650.8,600.7 653.2,602.5 654.8,603.6 655.6,604.3 658,606.1 660.5,608 660.7,608.1 662.9,609.9 665.3,611.8 666.5,612.7 667.7,613.7 670.2,615.5 672.3,617.2 672.6,617.4 675,619.2 677.4,621 678.1,621.5 679.8,622.8 682.3,624.5 684,625.8 684.7,626.3 687.1,628 689.5,629.8 689.8,630 692,631.5 694.4,633.3 695.6,634.1 696.8,635 699.2,636.7 701.2,638 701.5,638.2 701.7,638.4 704.1,640.1 706.5,641.7 707.3,642.3 708.9,643.4 711.3,645.1 713.1,646.3 713.8,646.7 716.2,648.3 718.6,650 719,650.2 721,651.6 723.5,653.2 724.8,654.1 725.9,654.8 728.3,656.4 730.6,657.9 730.7,658 733.1,659.6 735.6,661.1 736.4,661.7 738,662.7 740.4,664.2 742.3,665.4 742.8,665.7 745.3,667.3 747.7,668.8 748.1,669.1 750.1,670.3 752.5,671.8 753.9,672.7 755,673.3 757.4,674.8 759.8,676.3 759.8,676.4 762.2,677.9 764.6,679.4 765.6,680 767.1,680.9 769.5,682.5 771.4,683.7 771.9,684 774.3,685.6 776.8,687.1 777.3,687.4 779.2,688.7 781.6,690.2 783.1,691.1 784,691.7 786.4,693.2 788.9,694.7 788.9,694.8 791.3,696.2 793.7,697.7 794.7,698.3 796.1,699.1 798.6,700.6 800.6,701.8 801,702 803.4,703.5 805.8,704.9 806.4,705.2 808.3,706.3 810.7,707.7 812.2,708.6 813.1,709.1 815.5,710.5 817.9,711.8 818.1,711.9 820.4,713.2 822.8,714.6 823.8,715.1 823.9,715.2 825.2,715.9 827.6,717.2 829.7,718.4 830.1,718.5 832.5,719.9 834.9,721.2 835.6,721.5 837.3,722.5 839.7,723.7 841.4,724.6 842.2,725 844.6,726.3 847,727.5 847.2,727.6 849.4,728.8 851.9,730 853,730.6 854.3,731.2 856.7,732.4 858.9,733.5 859.1,733.6 861.6,734.8 864,736 864.7,736.4 866.4,737.2 868.8,738.4 870.5,739.2 871.2,739.5 873.7,740.7 876.1,741.8 876.4,741.9 878.5,742.9 880.9,744 882.2,744.5 883.4,745 885.8,746.1 888,747 888.2,747.1 890.6,748 893,749 893.9,749.3 895.5,749.9 897.9,750.9 899.7,751.6 900.3,751.8 902.7,752.7 905.2,753.6 905.5,753.7 907.6,754.4 910,755.3 911.4,755.8 912.4,756.2 914.9,757 917.2,757.8 917.3,757.9 919.7,758.7 922.1,759.5 923,759.8 924.5,760.3 927,761.1 928.8,761.7 929.4,761.9 931.8,762.7 934.2,763.5 934.7,763.6 936.7,764.2 939.1,765 940.5,765.4 941.5,765.7 943.9,766.5 946.3,767.2 946.3,767.2 948.8,767.9 951.2,768.6 952.2,768.9 953.6,769.3 956,770 958,770.5 958.5,770.6 960.9,771.3 963.3,771.9 963.8,772.1 965.7,772.6 968.2,773.2 969.7,773.6 970.6,773.8 973,774.4 975.4,775 975.5,775.1 977.8,775.6 980.3,776.2 981.3,776.5 982.7,776.8 985.1,777.3 987.1,777.8 987.5,777.9 990,778.4 992.4,778.9 993,779.1 994.8,779.5 997.2,780 998.8,780.3 999.6,780.5 1002.1,781 1004.5,781.5 1004.6,781.5 1006.9,782 1009.3,782.5 1010.5,782.8 1011.8,783 1012.2,783.1 1014.2,783.5 1016.3,784 1016.6,784.1 1019,784.6 1021.5,785.1 1022.1,785.3 1023.9,785.6 1026.3,786.2 1028,786.5 1028.7,786.7 1031.1,787.2 1033.6,787.7 1033.8,787.8 1036,788.2 1038.4,788.7 1039.6,788.9 1040.8,789.2 1043.3,789.6 1045.4,790 1045.7,790 1048.1,790.5 1050.5,790.9 1051.3,791 1052.9,791.3 1055.4,791.7 1057.1,792 1057.8,792.1 1060.2,792.5 1062.6,792.9 1062.9,792.9 1065.1,793.3 1067.5,793.6 1068.8,793.8 1069.9,794 1072.3,794.3 1074.6,794.7 1074.8,794.7 1075.7,794.8 1077.2,795 1079.6,795.3 1080.4,795.4 1082,795.6 1084.4,795.9 1086.3,796.2 1086.9,796.2 1089.3,796.5 1091.7,796.8 1092.1,796.9 1094.1,797.1 1096.6,797.3 1097.9,797.5 1099,797.6 1101.4,797.8 1103.7,798.1 1103.8,798.1 1106.2,798.3 1108.7,798.5 1109.6,798.6 1111.1,798.7 1113.5,798.9 1115.4,799.1 1115.9,799.2 1118.4,799.3 1120.3,799.5 1120.8,799.5 1121.2,799.6 1123.2,799.7 1125.6,799.9 1127.1,800 1128.1,800.1 1130.5,800.3 1132.9,800.4" stroke="#00ffff"/>
<polyline points="163.8,300.2 211.3,338.4 217.2,340.7 223.1,343 229,345.3 234.9,347.6 240.7,349.9 246.6,352.2 252.5,354.5 258.4,356.9 264.3,359.2 270.2,361.5 276.1,363.9 282,366.2 287.9,368.5 293.8,370.9 299.7,373.2 305.5,375.6 309.2,377 311.4,377.9 317.3,380.3 323.2,382.6 329.1,384.9 335,387.3 340.9,389.6 346.8,391.9 352.7,394.2 358.6,396.6 364.5,398.9 370.3,401.3 376.2,403.7 382.1,406.1 388,408.5 393.9,411 399.8,413.5 405.7,416.1 410,418 411.6,418.7 417.5,421.4 423.4,424.2 429.3,427.1 435.1,429.9 441,434.3 446.8,438.7 452.6,443.3 456.5,446.5 458.4,448.1 464.2,453.2 470,458.6 475.9,463.9 481.7,469 487,473.4 487.5,473.7 493.3,478 499.1,482 504.9,485.8 510.7,489.6 516.6,493.6 519.9,496 522.4,497.8 528.2,502.2 534,506.7 539.8,511.3 545.6,516 551.4,520.8 557.3,525.7 563.1,530.6 568.9,535.6 574.7,540.6 580.5,545.6 586.3,550.6 592.1,555.5 598,560.5 603.8,565.4 609.6,570.2 615.4,574.9 621.2,579.5 627,584.1 632.8,588.5 638.7,592.7 640.1,593.8 644.5,596.7 650.3,600.6 656.1,604.9 661.9,609.4 667.7,613.9 672.6,617.6 673.5,618.3 679.4,622.6 685.2,626.8 691,631 696.8,635.1 701.2,638.2 702.6,639.2 708.4,643.2 714.2,647.2 720.1,651.1 725.9,654.9 730.7,658.1 731.7,658.7 737.5,662.4 743.3,666.1 749.1,669.7 755,673.3 760.8,677 762.2,677.9 766.6,680.6 772.4,684.3 778.2,688 784,691.7 789.8,695.3 793.7,697.7 795.7,698.9 801.5,702.3 807.3,705.7 813.1,709.1 818.9,712.4 823.8,715.1 824.7,715.6 830.5,718.8 836.4,721.9 842.2,725 848,728 853.8,731 854.3,731.2 859.6,733.9 865.4,736.7 871.2,739.6 877.1,742.3 882.9,744.8 885.8,746.1 888.7,747.2 894.5,749.5 900.3,751.6 906.1,753.7 911.9,755.7 917.3,757.5 917.8,757.7 923.6,759.6 929.4,761.5 935.2,763.3 941,765 946.8,766.7 948.8,767.2 952.6,768.3 958.5,769.8 964.3,771.3 970.1,772.8 975.9,774.2 980.3,775.2 981.7,775.5 987.5,776.8 993.3,778 999.2,779.1 1005,780.3 1010.8,781.5 1012.2,781.7 1016.6,782.6 1022.4,783.9 1028.2,785.1 1034.1,786.3 1039.9,787.4 1043.3,788 1045.7,788.4 1051.5,789.4 1057.3,790.3 1063.1,791.2 1068.9,792 1074.8,792.8 1075.7,793 1080.6,793.6 1086.4,794.3 1092.2,795 1098,795.7 1101.4,796 1103.8,796.2 1109.6,796.8 1115.5,797.3 1120.3,797.7 1121.3,797.7 1127.1,798.2 1132.9,798.6" stroke="#ff9900"/>
<polyline points="163.8,300.2 211.3,338.4 217.1,340.7 222.9,343 228.7,345.2 234.5,347.5 240.4,349.8 246.2,352.1 252,354.4 257.8,356.7 263.6,359 269.4,361.3 275.2,363.6 281.1,365.9 286.9,368.2 292.7,370.5 298.5,372.8 304.3,375.1 309.2,377 310.1,377.4 315.9,379.7 321.8,382.1 327.6,384.4 333.4,386.7 339.2,389 345,391.3 350.8,393.6 356.7,396 362.5,398.3 368.3,400.6 374.1,403 379.9,405.3 385.7,407.7 391.5,410 397.4,412.4 403.2,414.7 409,417.1 410,417.5 414.8,419.5 420.6,421.9 426.4,424.3 432.2,426.8 438.1,429.2 443.9,431.6 449.7,434.1 455.5,437.5 461.4,441.2 467.2,445.1 473,449.3 478.9,453.8 484.7,458.4 490.6,463.2 496.4,468.1 499.1,470.4 502.2,473.3 508.1,479.2 513.9,485.3 519.8,491 519.9,491.1 525.6,496 531.4,501 537.3,505.9 543.1,510.7 549,515.5 554.8,520.2 560.6,524.8 566.5,529.3 572.3,533.8 578.2,538.1 584,542.4 589.8,546.5 595.7,550.6 601.5,554.6 607.3,558.5 613.2,562.3 619,566 624.9,569.6 630.7,573.1 636.5,576.5 640.1,578.5 642.4,579.7 648.2,582.4 650.3,583.6 654.1,586.1 659.9,590.7 665.7,595.8 671.6,600.7 672.6,601.5 677.4,605.3 683.3,609.8 689.1,614.2 694.9,618.6 700.8,623 701.2,623.3 706.6,627.3 712.5,631.5 718.3,635.7 724.1,639.8 730,643.8 730.7,644.4 735.8,647.9 741.7,651.8 747.5,655.8 753.3,659.6 759.2,663.5 762.2,665.5 765,667.3 770.9,671 776.7,674.8 782.5,678.5 788.4,682.1 793.7,685.3 794.2,685.6 800.1,689.1 805.9,692.6 811.7,696 817.6,699.3 823.4,702.6 823.8,702.8 829.2,705.8 835.1,709 840.9,712.1 846.8,715.2 852.6,718.2 854.3,719 858.4,721.1 864.3,723.9 870.1,726.7 876,729.5 881.8,732.1 885.8,733.9 887.6,734.7 893.5,737.3 899.3,739.8 905.2,742.2 911,744.6 916.8,746.8 917.3,747 922.7,749.1 928.5,751.3 934.4,753.4 940.2,755.5 946,757.5 948.8,758.4 951.9,759.4 957.7,761.3 963.6,763.1 969.4,764.9 975.2,766.6 980.3,768 981.1,768.2 986.9,769.8 992.8,771.4 998.6,772.9 1004.4,774.3 1010.3,775.8 1012.2,776.2 1016.1,777.1 1022,778.5 1027.8,779.8 1033.6,781 1039.5,782.2 1043.3,782.9 1045.3,783.3 1051.1,784.4 1057,785.4 1062.8,786.4 1068.7,787.3 1074.5,788.2 1075.7,788.4 1080.3,789 1086.2,789.7 1092,790.4 1097.9,791 1101.4,791.4 1103.7,791.6 1109.5,792.2 1115.4,792.7 1120.3,793.1 1121.2,793.1 1127.1,793.6 1132.9,794" stroke="#8099ff"/>
<polyline points="163.8,300.2 211.3,338.4 217.1,340.7 223,343 228.8,345.3 234.7,347.6 240.5,349.9 246.4,352.2 252.2,354.5 258.1,356.8 263.9,359.2 269.8,361.5 275.6,363.8 281.5,366.1 287.3,368.4 293.2,370.7 299,373 304.9,375.3 309.2,377 310.7,377.6 316.6,379.9 322.4,382.2 328.3,384.4 334.1,386.6 340,388.8 345.8,391 351.6,393.2 357.5,395.4 363.3,397.6 369.2,399.9 375,402.2 380.9,404.5 386.7,406.9 392.6,409.4 398.4,411.9 404.3,414.5 410,417.1 410.1,417.1 416,419.9 421.8,422.8 427.7,425.9 433.5,429 439.4,432.2 445.2,435.4 451.1,438.8 456.9,442.2 462.8,445.6 463.7,481.5 469.6,484.2 475.4,486.7 475.9,486.9 481.2,488.8 487,490.7 492.8,492.5 498.6,494.2 504.5,495.8 510.3,497.4 516.1,499.1 519.9,500.3 521.9,500.9 527.7,502.8 533.6,504.7 534.5,505 539.4,506.8 545.2,508.9 551,511.1 556.8,513.5 562.7,516.1 568.5,518.8 571.3,520.3 574.3,521.9 580.1,525.6 585.9,529.7 591.8,534.2 597.6,539 603.4,544 609.2,549.1 615,554.2 620.8,559.2 626.7,563.9 632.5,568.4 638.3,572.5 640.1,573.6 644.1,575.9 649.9,579.2 650.3,579.4 655.8,583.4 661.6,588.1 667.4,593 672.6,597.3 673.2,597.7 679,602.2 684.9,606.7 690.7,611.1 696.5,615.4 701.2,618.9 702.3,619.7 708.1,623.9 713.9,628.1 719.8,632.2 725.6,636.3 730.7,639.8 731.4,640.3 737.2,644.2 743,648.1 748.9,652 754.7,655.8 760.5,659.6 762.2,660.8 766.3,663.5 772.1,667.3 778,671.1 783.8,674.9 789.6,678.7 793.7,681.3 795.4,682.3 801.2,685.9 807,689.5 812.9,692.9 818.7,696.4 823.8,699.3 824.5,699.7 830.3,703 836.1,706.3 842,709.5 847.8,712.7 853.6,715.7 854.3,716.1 859.4,718.7 865.2,721.7 871.1,724.6 876.9,727.4 882.7,730.2 885.8,731.6 888.5,732.8 894.3,735.4 900.1,737.9 906,740.4 911.8,742.7 917.3,744.9 917.6,745.1 923.4,747.3 929.2,749.5 935.1,751.7 940.9,753.8 946.7,755.8 948.8,756.5 952.5,757.7 958.3,759.6 964.2,761.5 970,763.3 975.8,765 980.3,766.3 981.6,766.7 987.4,768.3 993.2,769.9 999.1,771.5 1004.9,772.9 1010.7,774.4 1012.2,774.8 1016.5,775.8 1022.3,777.1 1028.2,778.4 1034,779.7 1039.8,780.9 1043.3,781.6 1045.6,782 1051.4,783.1 1057.3,784.2 1063.1,785.2 1068.9,786.1 1074.7,787 1075.7,787.2 1080.5,787.9 1086.3,788.7 1092.2,789.4 1098,790.1 1101.4,790.5 1103.8,790.8 1109.6,791.4 1115.4,792 1120.3,792.4 1121.3,792.5 1127.1,793 1132.9,793.5" stroke="#999999"/>
<polyline points="163.8,300.2 211.3,338.4 217.2,340.7 223.1,343.1 229,345.4 234.9,347.7 240.8,350.1 246.7,352.4 252.6,354.7 258.5,357.1 264.4,359.4 270.4,361.7 276.3,364.1 282.2,366.4 288.1,368.7 294,371.1 299.9,373.4 305.8,375.7 309.2,377 311.7,378 317.6,380.4 323.5,382.7 329.4,385 335.3,387.3 341.2,389.7 347.1,392 353.1,394.3 359,396.6 364.9,398.9 370.8,401.2 376.7,403.6 382.6,405.9 388.5,408.2 394.4,410.5 400.3,412.8 406.2,415.1 410,416.6 412.1,417.4 418,419.8 423.9,422.1 429.8,424.4 435.7,426.7 441.7,429 447.6,431.3 453.5,433.6 459.4,435.9 465.2,438.3 471.1,441.3 476.9,444.8 482.8,448.7 488.7,453 494.5,457.5 499.1,461.2 500.4,462.3 506.2,468.2 512.1,474.9 517.9,481.3 519.9,483.3 523.8,486.9 529.7,492.4 535.5,497.8 541.4,503 547.2,508.2 553.1,513.3 558.9,518.3 564.8,523.2 570.7,528.1 576.5,532.9 582.4,537.6 588.2,542.3 594.1,546.9 599.9,551.4 605.8,555.9 611.7,560.3 617.5,564.7 623.4,569.1 629.2,573.4 635.1,577.6 640.1,581.3 640.9,581.9 646.8,585.8 650.3,588.2 652.6,590 658.5,594.8 664.4,599.9 670.2,604.9 672.6,606.8 676.1,609.5 681.9,613.9 687.8,618.2 693.6,622.4 699.5,626.6 701.2,627.7 705.4,630.7 711.2,634.8 717.1,638.8 722.9,642.8 728.8,646.7 730.7,648 734.6,650.5 740.5,654.3 746.4,658.1 752.2,661.8 758.1,665.5 762.2,668.1 763.9,669.2 769.8,673 775.6,676.8 781.5,680.5 787.4,684.2 793.2,687.8 793.7,688.1 799.1,691.4 804.9,694.9 810.8,698.3 816.6,701.7 822.5,705 823.8,705.8 828.3,708.3 834.2,711.5 840.1,714.7 845.9,717.8 851.8,720.8 854.3,722.1 857.6,723.8 863.5,726.7 869.3,729.5 875.2,732.3 881.1,735 885.8,737.1 886.9,737.6 892.8,740.1 898.6,742.5 904.5,744.8 910.3,747.1 916.2,749.3 917.3,749.7 922.1,751.4 927.9,753.5 933.8,755.6 939.6,757.5 945.5,759.5 948.8,760.5 951.3,761.3 957.2,763.1 963.1,764.8 968.9,766.5 974.8,768.1 980.3,769.6 980.6,769.7 986.5,771.2 992.3,772.6 998.2,774 1004.1,775.4 1009.9,776.7 1012.2,777.2 1015.8,778 1021.6,779.3 1027.5,780.6 1033.3,781.9 1039.2,783 1043.3,783.8 1045,784.1 1050.9,785.2 1056.8,786.2 1062.6,787.2 1068.5,788.1 1074.3,788.9 1075.7,789.1 1080.2,789.6 1086,790.3 1091.9,790.9 1097.8,791.4 1101.4,791.7 1103.6,791.9 1109.5,792.3 1115.3,792.7 1120.3,793 1121.2,793.1 1127,793.4 1132.9,793.7" stroke="#ff0000"/>
<polyline points="163.8,300.2 211.3,338.4 217.2,340.7 223.2,343 229.1,345.4 235,347.7 240.9,350 246.9,352.4 252.8,354.7 258.7,357.1 264.7,359.4 270.6,361.7 276.5,364.1 282.5,366.4 288.4,368.8 294.3,371.1 300.3,373.5 306.2,375.9 309.2,377 312.1,378.2 318.1,380.6 324,383 329.9,385.4 335.9,387.7 341.8,390.1 347.7,392.5 353.7,394.9 359.6,397.3 365.5,399.7 371.5,402.1 377.4,404.5 383.3,406.9 389.3,409.3 395.2,411.6 401.1,414 407.1,416.4 410,417.5 413,418.7 418.9,421.1 424.9,423.4 430.8,425.7 436.7,428.1 442.7,430.4 448.6,432.7 454.5,435 460.4,438.3 466.2,442 472.1,446 477.9,450.2 483.8,454.7 489.6,459.3 495.5,464.2 499.1,467.3 501.3,469.3 507.2,475.1 513,481.2 518.9,487.1 519.9,488.1 524.7,492.4 530.6,497.7 536.4,502.9 542.3,508.1 548.1,513.2 553.9,518.2 559.8,523.2 565.6,528.1 571.5,532.9 577.3,537.7 583.2,542.4 589,547.1 594.9,551.7 600.7,556.3 606.6,560.7 612.4,565.2 618.3,569.5 624.1,573.8 630,578 635.8,582.2 640.1,585.2 641.7,586.3 647.5,590 650.3,591.9 653.4,594.1 659.2,598.5 665.1,603.2 670.9,607.8 672.6,609 676.8,612.1 682.6,616.5 688.5,620.7 694.3,625 700.1,629.1 701.2,629.8 706,633.2 711.8,637.2 717.7,641.2 723.5,645.2 729.4,649.1 730.7,649.9 735.2,652.9 741.1,656.6 746.9,660.3 752.8,664 758.6,667.7 762.2,670 764.5,671.4 770.3,675.2 776.2,679.1 782,682.9 787.9,686.7 793.7,690.3 799.6,693.9 805.4,697.5 811.3,701 817.1,704.4 823,707.8 823.8,708.3 828.8,711.1 834.7,714.4 840.5,717.6 846.3,720.8 852.2,723.9 854.3,724.9 858,726.9 863.9,729.9 869.7,732.8 875.6,735.7 881.4,738.4 885.8,740.3 887.3,741 893.1,743.5 899,745.9 904.8,748.2 910.7,750.4 916.5,752.6 917.3,752.9 922.4,754.8 928.2,756.9 934.1,758.9 939.9,760.9 945.8,762.8 948.8,763.7 951.6,764.6 957.5,766.4 963.3,768.1 969.2,769.8 975,771.4 980.3,772.8 980.9,772.9 986.7,774.4 992.5,775.9 998.4,777.3 1004.2,778.6 1010.1,780 1012.2,780.5 1015.9,781.3 1021.8,782.6 1027.6,783.9 1033.5,785.1 1039.3,786.3 1043.3,787 1045.2,787.4 1051,788.5 1056.9,789.5 1062.7,790.5 1068.6,791.4 1074.4,792.2 1075.7,792.3 1080.3,792.9 1086.1,793.5 1092,794.1 1097.8,794.6 1101.4,794.9 1103.7,795.1 1109.5,795.5 1115.4,795.9 1120.3,796.2 1121.2,796.3 1127.1,796.6 1132.9,796.9" stroke="#00ff00"/>
<polyline points="163.8,300.2 211.3,337.9 217.1,340.2 223,342.5 228.8,344.8 234.6,347.1 240.5,349.3 246.3,351.6 252.1,353.9 258,356.2 263.8,358.5 269.6,360.7 275.5,363 281.3,365.3 287.1,367.6 293,369.8 298.8,372.1 304.7,374.4 309.2,376.1 310.5,376.6 316.3,378.9 322.2,381.2 328,383.4 333.8,385.7 339.7,387.9 345.5,390.1 351.3,392.4 357.2,394.6 363,396.9 368.8,399.1 374.7,401.4 380.5,403.7 386.4,405.9 392.2,408.2 398,410.5 403.9,412.8 409.7,415.1 410,415.2 415.5,417.5 421.4,419.8 427.2,422.1 433,424.5 438.9,426.9 444.7,429.3 450.5,431.7 456.4,434.1 462.2,436.5 468.1,438.9 473.9,441.3 479.7,443.7 559.2,508 565.8,509.4 571.3,510.5 572.4,510.8 579.1,511.9 585.7,513.1 592.3,514.7 596,516 598.9,517.8 599.9,524.2 605.8,529.2 611.6,534.1 617.5,539.1 623.3,544 624.1,544.7 629.2,548.9 635,553.8 640.1,558 640.9,558.7 646.8,563.5 650.3,566.4 652.6,568.3 658.5,573 664.3,577.6 670.2,582.3 672.6,584.1 676,586.8 681.9,591.4 687.8,595.9 693.6,600.4 699.5,604.8 701.2,606 705.3,609.1 711.2,613.4 717,617.6 722.9,621.8 728.8,625.9 730.7,627.3 734.6,630 740.5,634 746.3,638 752.2,641.9 758,645.8 762.2,648.5 763.9,649.6 769.8,653.3 775.6,657 781.5,660.6 787.3,664.2 793.2,667.7 793.7,668 799,671.2 804.9,674.6 810.8,677.9 816.6,681.2 822.5,684.4 823.8,685.1 828.3,687.6 834.2,690.7 840,693.8 845.9,696.8 851.8,699.7 854.3,701 857.6,702.6 863.5,705.4 869.3,708.1 875.2,710.8 881,713.4 885.8,715.5 886.9,716 892.8,718.5 898.6,721 904.5,723.4 910.3,725.7 916.2,728 917.3,728.4 922,730.2 927.9,732.3 933.8,734.4 939.6,736.5 945.5,738.4 948.8,739.5 951.3,740.3 957.2,742.2 963,744 968.9,745.7 974.8,747.4 980.3,748.9 980.6,749 986.5,750.6 992.3,752.1 998.2,753.6 1004,755 1009.9,756.4 1012.2,756.9 1015.8,757.7 1021.6,759 1027.5,760.2 1033.3,761.3 1039.2,762.4 1043.3,763.2 1045,763.5 1050.9,764.5 1056.8,765.4 1062.6,766.3 1068.5,767.1 1074.3,767.9 1075.7,768.1 1080.2,768.7 1086,769.5 1091.9,770.1 1097.8,770.8 1101.4,771.2 1103.6,771.4 1109.5,771.9 1115.3,772.4 1120.3,772.8 1121.2,772.9 1127,773.3 1132.9,773.7" stroke="#000000"/>
</g>
<rect x="163.8" y="253.3" width="969.1" height="552" fill="none" stroke="#262626" stroke-width="1.5"/>
<text x="162.3" y="847.3" font-size="29.9" text-anchor="middle" fill="#262626">0</text>
<text x="405" y="847.3" font-size="29.9" text-anchor="middle" fill="#262626">500</text>
<text x="648.7" y="847.3" font-size="29.9" text-anchor="middle" fill="#262626">1000</text>
<text x="891.2" y="847.3" font-size="29.9" text-anchor="middle" fill="#262626">1500</text>
<text x="1133.2" y="847.3" font-size="29.9" text-anchor="middle" fill="#262626">2000</text>
<text x="150.6" y="816.9" font-size="29.9" text-anchor="end" fill="#262626">0</text>
<text x="151.3" y="724.9" font-size="29.9" text-anchor="end" fill="#262626">0.1</text>
<text x="151.3" y="632.9" font-size="29.9" text-anchor="end" fill="#262626">0.2</text>
<text x="151.3" y="540.9" font-size="29.9" text-anchor="end" fill="#262626">0.3</text>
<text x="151.3" y="448.9" font-size="29.9" text-anchor="end" fill="#262626">0.4</text>
<text x="151.3" y="356.9" font-size="29.9" text-anchor="end" fill="#262626">0.5</text>
<text x="151.3" y="264.9" font-size="29.9" text-anchor="end" fill="#262626">0.6</text>
<path d="M406.1,805.3v-9.8M406.1,253.3v9.8M648.4,805.3v-9.8M648.4,253.3v9.8M890.6,805.3v-9.8M890.6,253.3v9.8M163.8,713.3h9.8M1132.9,713.3h-9.8M163.8,621.3h9.8M1132.9,621.3h-9.8M163.8,529.3h9.8M1132.9,529.3h-9.8M163.8,437.3h9.8M1132.9,437.3h-9.8M163.8,345.3h9.8M1132.9,345.3h-9.8" stroke="#303030" stroke-width="1.25" fill="none"/>
 <text x="648" y="890.5" font-size="32.9" text-anchor="middle" fill="#262626">No of Rounds</text>
<text transform="translate(92.9,529.3) rotate(-90)" font-size="32.9" text-anchor="middle" fill="#262626">Residual Energy</text>
<text class="cap" transform="translate(578.64,999.6) scale(0.9417,1)" font-size="86" fill="#000">(</text>
<text class="cap" transform="translate(605.29,999.6) scale(0.9428,1)" font-size="86" font-weight="bold" fill="#000">a</text>
<text class="cap" transform="translate(647.59,999.6) scale(0.9417,1)" font-size="86" fill="#000">)</text>
</g>
<g transform="translate(1272.7,0)">
<rect x="11.9" y="12.3" width="1122.1" height="198.5" fill="#fff" stroke="#262626" stroke-width="1.6"/>
<line x1="21" y1="40.4" x2="110.4" y2="40.4" stroke="#809980" stroke-width="6.3"/>
<text x="117.6" y="53.9" font-size="35.9" fill="#000">CSO</text>
<line x1="21" y1="87.6" x2="110.4" y2="87.6" stroke="#8000ff" stroke-width="6.3"/>
<text x="117.6" y="101.7" font-size="35.9" fill="#000">FF</text>
<line x1="21" y1="135.4" x2="110.4" y2="135.4" stroke="#ffff00" stroke-width="6.3"/>
<text x="117.6" y="149.6" font-size="35.9" fill="#000">SSO</text>
<line x1="21" y1="182.9" x2="110.4" y2="182.9" stroke="#ff00ff" stroke-width="6.3"/>
<text x="117.6" y="197.3" font-size="35.9" fill="#000">PRO</text>
<line x1="283" y1="40.4" x2="372.3" y2="40.4" stroke="#00ffff" stroke-width="6.3"/>
<text x="378.2" y="53.9" font-size="35.9" fill="#000">HGS</text>
<line x1="283" y1="87.6" x2="372.3" y2="87.6" stroke="#ff9900" stroke-width="6.3"/>
<text x="378.2" y="101.7" font-size="35.9" fill="#000">BES</text>
<line x1="283" y1="135.4" x2="372.3" y2="135.4" stroke="#8099ff" stroke-width="6.3"/>
<text x="378.2" y="149.6" font-size="35.9" fill="#000">BWO</text>
<line x1="283" y1="182.9" x2="372.3" y2="182.9" stroke="#999999" stroke-width="6.3"/>
<text x="378.2" y="197.3" font-size="35.9" fill="#000">Fuzzy + HHO</text>
<line x1="683.1" y1="40.4" x2="772.4" y2="40.4" stroke="#ff0000" stroke-width="6.3"/>
<text x="779.4" y="53.9" font-size="35.9" fill="#000">ANFIS + SA-JSO</text>
<line x1="683.1" y1="87.6" x2="772.4" y2="87.6" stroke="#00ff00" stroke-width="6.3"/>
<text x="779.4" y="101.7" font-size="35.9" fill="#000">DOX</text>
<line x1="683.1" y1="135.4" x2="772.4" y2="135.4" stroke="#000000" stroke-width="6.3"/>
<text x="779.4" y="149.6" font-size="35.9" fill="#000">SADO-BM</text>
<clipPath id="clipb"><rect x="159.8" y="253.3" width="977.1" height="556"/></clipPath>
<g clip-path="url(#clipb)" fill="none" stroke-width="6.3" stroke-linejoin="round" stroke-linecap="butt">
<polyline points="163.8,295.1 166.2,295.9 168.6,296.6 169.6,296.9 171.1,297.4 173.5,298.4 175.5,299.4 175.9,299.6 178.3,300.7 180.8,301.8 181.3,302 183.2,302.9 185.6,304 187.1,304.7 188,305.1 190.5,306.1 192.9,306.8 193,306.9 195.3,307.3 197.7,307.7 198.8,308 200.1,308.3 202.6,309.2 204.6,310.3 205,310.5 207.4,311.8 209.8,313.1 210.5,313.3 212.3,314 214.7,314.6 216.3,315 217.1,315.2 219.5,316 221.9,317.1 222.2,317.2 224.4,318.5 226.8,319.9 228,320.5 229.2,321.1 231.6,322.1 233.8,322.7 234.1,322.8 236.5,323.5 238.9,324.1 239.7,324.3 241.3,324.8 243.8,325.5 245.5,325.9 246.2,326.1 248.6,326.7 251,327.6 251.3,327.7 253.4,328.6 255.9,329.8 257.2,330.5 258.3,331 260.7,332 263,332.8 263.1,332.8 265.6,333.5 268,334.4 268.8,334.8 270.4,335.6 272.8,337.2 274.7,338.5 275.2,338.9 277.7,340.4 280.1,341.5 280.5,341.7 282.5,342.3 284.9,342.8 286.3,343.2 287.4,343.4 289.8,344.3 292.2,345.3 292.2,345.4 294.6,346.5 297.1,347.5 298,347.9 298,347.9 299.5,348.4 301.9,349.3 303.8,350 304.3,350.2 306.7,351.2 309.2,352.1 309.7,352.3 311.6,353 314,353.8 315.5,354.3 316.4,354.6 318.9,355.6 321.3,356.9 321.4,356.9 323.7,358.2 326.1,359.5 327.2,359.9 328.5,360.4 331,361 333,361.4 333.4,361.4 335.8,361.9 338.2,362.7 338.9,363 340.7,363.9 343.1,365.4 344.7,366.3 345.5,366.8 347.9,368 350.4,368.9 350.5,369 352.8,369.7 355.2,370.6 356.4,371.1 357.6,371.7 360,372.9 362.2,374 362.5,374.2 364.9,375.4 367.3,376.5 368,376.8 369.7,377.5 372.2,378.6 373.9,379.3 374.6,379.6 377,380.5 379.4,381.3 379.7,381.3 381.8,381.8 384.3,382.4 385.5,382.8 386.7,383.3 389.1,384.5 391.4,385.9 391.5,386 394,387.5 396.4,388.8 397.2,389.2 397.4,389.2 398.8,389.7 401.2,390.5 403,391 403.7,391.2 406.1,392.2 408.5,393.5 408.9,393.7 410.9,394.9 413.3,396.3 414.7,396.9 415.8,397.4 418.2,398.1 420.6,398.7 420.6,398.7 423,399.3 425.5,399.9 426.4,400.2 427.9,400.6 430.3,401.3 432.2,401.9 432.7,402.1 435.1,402.9 437.6,403.9 438.1,404.1 440,405.1 442.4,406.4 443.9,407.1 444.8,407.6 447.3,408.6 449.7,409.4 449.7,409.4 452.1,410.2 454.5,411.2 455.6,411.7 457,412.5 459.4,414.1 461.4,415.5 461.8,415.7 464.2,417.1 466.6,417.9 467.2,418.1 469.1,418.5 471.5,419 473.1,419.4 473.9,419.7 476.3,420.7 478.8,421.9 478.9,422 481.2,423.2 483.6,424.3 484.7,424.8 486,425.3 488.4,426.3 490.6,427.1 490.9,427.2 493.3,428.2 495.7,429.2 496.4,429.5 498.1,430.1 500.6,430.9 502.2,431.5 503,431.8 505.4,432.8 507.8,434 508.1,434.1 510.3,435.2 512.7,436.3 513.9,436.7 515.1,437 517.5,437.5 519.8,437.8 519.9,437.9 522.4,439.4 524.8,441.2 525.6,442 527.2,443.5 529.6,445.9 531.4,447.6 532.1,448.2 534.5,450.1 536.9,451.8 537.3,452 539.3,453.4 541.7,455.1 543.1,456.2 544.2,457.1 546.6,459.2 548.9,461.2 549,461.2 551.4,463.2 553.9,465 554.8,465.7 556.3,466.8 558.7,468.5 560.6,470 561.1,470.3 563.6,472 566,473.6 566.5,473.9 568.4,475.2 570.8,476.8 572.3,478 573.2,478.8 575.7,481.1 578.1,483.6 578.1,483.7 580.5,486 582.9,488.1 584,488.9 585.4,489.9 587.8,491.5 589.8,492.8 590.2,493.1 592.6,495.1 595,497.3 595.7,497.9 597.5,499.6 599.9,501.6 601.5,502.8 602.3,503.4 604.7,504.8 607.2,506.2 607.3,506.3 609.6,507.6 612,509.1 613.2,509.9 614.4,510.8 616.9,512.6 619,514.2 619.3,514.4 621.7,516.2 624.1,518.2 624.9,518.9 626.5,520.3 629,522.5 630.7,524 631.4,524.5 633.8,526.3 636.2,528 636.5,528.2 638.7,529.7 641.1,531.6 642.4,532.8 643.5,533.9 645.9,536.3 648.2,538.5 648.4,538.6 650.8,540.6 653.2,542.2 654.1,542.7 655.6,543.6 658,545 659.9,546.4 660.5,546.8 662.9,548.9 665.3,551.2 665.7,551.6 667.7,553.5 670.2,555.6 671.6,556.7 672.6,557.5 675,559.3 677.4,561.2 677.4,561.2 679.8,563.1 682.3,564.9 683.3,565.7 684.7,566.7 687.1,568.5 689.1,569.9 689.5,570.3 692,572.2 694.4,574.2 694.9,574.7 696.8,576.3 699.2,578.1 700.8,579.1 701.7,579.7 704.1,581.1 706.5,582.5 706.6,582.6 708.9,584.2 711.3,586.4 712.5,587.5 713.8,588.9 716.2,591.3 717.4,592.5 718.3,593.3 718.6,593.6 721,595.4 723.5,597 724.1,597.5 725.9,598.6 728.3,600.4 730,601.7 730.7,602.4 733.1,604.5 735.6,606.5 735.8,606.7 738,608.4 740.4,610.2 741.7,611.1 742.8,612 745.3,613.8 747.5,615.5 747.7,615.6 750.1,617.4 752.5,619.2 753.3,619.8 755,621.1 757.4,623.1 759.2,624.8 759.8,625.4 762.2,627.9 764.6,630.6 765,631 767.1,633 769.5,635.1 770.8,636.1 771.9,636.8 774.3,638.4 776.7,640.1 776.8,640.2 779.2,642.2 781.6,644.5 782.5,645.4 784,646.8 786.4,648.8 788.4,650.1 788.9,650.4 791.3,651.8 793.7,653.2 794.2,653.5 796.1,654.7 798.6,656.4 800,657.6 801,658.4 803.4,660.3 805.8,662.2 805.9,662.3 808.3,664.2 810.7,666.2 811.7,667.1 813.1,668.3 815.5,670.3 817.6,671.9 817.9,672.2 820.4,673.8 822.8,675.4 823.4,675.8 825.2,677 827.6,678.9 829.2,680.3 830.1,681 832.5,683.3 834.9,685.4 835.1,685.6 837.3,687.2 839.7,688.6 840.9,689.3 842.2,690 844.6,691.6 846.8,693.3 847,693.5 849.4,695.8 851.9,698.2 852.6,698.9 854.3,700.5 856.7,702.5 858.4,703.8 859.1,704.3 861.6,705.9 864,707.7 864.3,707.9 866.4,709.5 868.8,711.2 870.1,712.1 871.2,712.9 873.7,714.6 876,716.1 876.1,716.2 878.5,718 880.9,719.9 881.8,720.6 883.4,721.7 885.8,723.3 887.6,724.4 888.2,724.7 890.6,726 893,727.3 893.5,727.6 895.5,729 897.9,731.1 899.3,732.4 900.3,733.3 902.7,735.3 905.2,736.9 905.2,736.9 907.6,738.1 910,739.1 911,739.5 912.4,740.1 914.9,741.2 916.8,742.3 917.3,742.6 919.7,744 922.1,745.3 922.7,745.6 924.5,746.4 927,747.4 928.5,748 929.4,748.4 931.8,749.4 934.2,750.6 934.4,750.7 936.7,751.7 939.1,752.9 940.2,753.4 941.5,754 943.9,755.3 946,756.7 946.3,756.9 948.8,758.6 951.2,760.2 951.9,760.6 953.6,761.5 956,762.4 957.7,762.9 958.5,763 960.9,763.6 963.3,764.4 963.6,764.5 965.7,765.5 967.7,766.5 968.2,766.7 969.4,767.3 970.6,767.9 973,768.7 975.2,769.2 975.4,769.2 977.8,769.5 980.3,769.9 981.1,770.1 982.7,770.5 985.1,771.4 986.9,772.1 987.5,772.3 990,773.3 992.4,774.1 992.8,774.2 994.8,774.8 997.2,775.6 998.6,776 999.6,776.3 1002.1,776.9 1004.4,777.3 1004.5,777.3 1006.9,777.5 1009.3,777.7 1010.3,777.8 1011.8,778 1014.2,778.6 1016.1,779.3 1016.6,779.4 1019,780.3 1021.5,780.9 1021.9,780.9 1023.9,781.1 1026.3,781.1 1027.8,781.1 1028.7,781.1 1031.1,781.5 1033.6,782.2 1033.6,782.2 1036,783.1 1038.4,784 1039.5,784.4 1040.8,784.7 1043.3,785.1 1045.3,785.2 1045.7,785.3 1048.1,785.4 1050.5,785.6 1051.1,785.6 1052.9,785.9 1055.4,786.2 1057,786.4 1057.8,786.5 1060.2,786.8 1062.6,787.2 1062.8,787.2 1065.1,787.6 1067.5,788.2 1068.7,788.5 1069.9,788.7 1072.3,789.1 1074.5,789.2 1074.8,789.2 1077.2,789.4 1079.6,789.7 1080.3,789.8 1082,790.3 1084.4,791.2 1086.2,791.9 1086.9,792.2 1089.3,792.9 1091.7,793.1 1092,793.1 1094.1,793 1096.6,792.7 1097.9,792.6 1099,792.6 1101.4,792.8 1103.7,793.1 1103.8,793.2 1106.2,793.6 1108.7,794 1109.5,794.1 1111.1,794.2 1113.5,794.3 1115.4,794.4 1115.9,794.4 1118.4,794.7 1120.8,795.2 1121.2,795.3 1123.2,795.6 1125.6,796.1 1127.1,796.4 1128.1,796.6 1130.5,797.3 1132.9,798.1" stroke="#809980"/>
<polyline points="163.8,293.2 166.2,294.4 168.6,295.9 169.6,296.5 171.1,297.4 173.5,298.1 175.5,298.4 175.9,298.5 178.3,299 180.8,299.5 181.3,299.6 183.2,300 185.6,300.4 187.2,300.6 188,300.7 190.5,300.8 192.9,300.9 193,301 195.3,301.4 197.7,302.2 198.8,302.7 200.1,303.3 202.6,304.6 204.7,305.6 205,305.7 207.4,306.5 209.8,307.1 210.5,307.2 212.3,307.6 214.7,308.3 216.3,309.1 217.1,309.4 219.5,310.8 221.9,312.4 222.2,312.5 224.4,313.7 226.8,314.8 228,315.2 229.2,315.6 231.6,316.2 233.9,316.8 234.1,316.8 236.5,317.7 238.9,318.7 239.7,319 241.3,319.7 243.8,320.6 245.5,321.1 246.2,321.3 248.6,322 251,322.9 251.4,323.1 253.4,324 255.9,325.4 257.2,326.1 258.3,326.7 260.7,327.7 263,328.3 263.1,328.3 265.6,328.5 268,328.5 268.9,328.5 270.4,328.6 272.8,329.1 274.7,329.7 275.2,329.9 277.7,331 279.6,331.8 280.1,332 280.6,332.2 282.5,332.9 284.9,333.6 286.4,334 287.4,334.3 289.8,335.1 292.2,336.2 292.2,336.3 294.6,337.6 297.1,339.1 298.1,339.7 299.5,340.5 301.9,341.7 303.9,342.7 304.3,342.9 306.7,344.1 309.2,345.4 309.8,345.8 311.6,347 314,348.5 315.6,349.3 316.4,349.7 318.9,350.5 321.3,351 321.4,351 323.7,351.2 326.1,351.6 327.3,351.9 328.5,352.4 331,353.5 333.1,354.8 333.4,355 335.8,356.4 338.2,357.7 338.9,358 340.7,358.6 343.1,359.4 344.8,359.9 345.5,360.2 347.9,361.1 350.4,362.1 350.6,362.3 352.8,363.3 355.2,364.2 356.5,364.7 357.6,365 360,365.7 362.3,366.4 362.5,366.4 364.9,367.4 367.3,368.6 368.1,369.1 369.7,370 372.2,371.3 374,372.1 374.6,372.4 377,373.2 379.4,373.8 379.8,373.9 381.8,374.6 384.3,375.8 385.6,376.7 386.7,377.4 389.1,379.2 391.5,380.9 391.5,380.9 394,382.3 396.4,383.4 397.3,383.7 397.4,383.7 398.8,384 401.2,384.6 403.2,385.1 403.7,385.2 406.1,386 408.5,386.9 409,387.1 410.9,387.7 413.3,388.5 414.8,388.9 415.8,389.1 418.2,389.8 420.6,390.8 420.7,390.9 423,392.1 425.5,393.6 426.5,394.3 427.9,395.1 430.3,396.3 432.4,397 432.7,397.2 435.1,397.8 437.6,398.5 438.2,398.7 440,399.4 442.4,400.6 444,401.6 444.8,402 447.3,403.4 449.7,404.6 449.9,404.6 452.1,405.3 454.5,405.7 455.7,405.9 457,406.1 459.4,406.6 461.5,407.3 461.8,407.4 464.2,408.5 466.6,409.5 467.4,409.9 469.1,410.6 471.5,411.5 473.2,412.2 473.9,412.5 476.3,413.6 478.8,415 479.1,415.2 481.2,416.5 483.6,417.8 484.9,418.5 486,418.9 488.4,419.6 490.7,420 490.9,420.1 493.3,420.5 495.7,421.1 496.6,421.4 498.1,422.2 500.6,423.6 502.4,424.7 503,425.1 505.4,426.4 507.8,427.4 508.2,427.6 510.3,428.2 512.7,428.9 514.1,429.4 515.1,429.8 517.5,431 519.9,432.3 519.9,432.3 522.4,433.6 524.8,434.7 525.8,435.1 527.2,436.2 529.6,437.9 531.6,439.3 532.1,439.6 534.5,441.4 536.9,443.3 537.4,443.7 539.3,445.1 541.7,446.7 543.3,447.6 544.2,448 546.6,449.1 549,450.2 549.1,450.3 551.4,451.7 553.9,453.6 554.9,454.7 556.3,456 558.7,458.7 560.8,460.8 561.1,461.2 563.6,463.4 566,465.4 566.6,465.9 568.4,467.2 570.8,469.1 572.5,470.5 573.2,471.2 575.7,473.5 578.1,475.8 578.3,476 580.5,478 582.9,479.9 584.1,480.8 585.4,481.7 587.8,483.5 590,485.3 590.2,485.5 592.6,487.6 595,489.8 595.8,490.4 597.5,491.8 599.9,493.5 601.7,494.6 602.3,495 604.7,496.4 607.2,498 607.5,498.3 609.6,500.1 612,502.4 613.3,503.7 614.4,504.8 616.9,507 619.2,508.7 619.3,508.7 621.7,510.1 624.1,511.3 625,511.7 626.5,512.4 629,513.9 630.8,515.2 631.4,515.6 633.8,517.5 636.2,519.5 636.7,519.8 638.7,521.4 641.1,523.3 642.5,524.4 643.5,525.3 645.9,527.6 648.4,530.1 648.4,530.1 650.8,532.7 653.2,535.2 654.2,536.2 655.6,537.4 658,539.3 660,540.8 660.5,541.1 662.9,543 665.3,545.1 665.9,545.6 667.7,547.5 670.2,549.9 671.7,551.4 672.6,552.1 675,554 677.4,555.4 677.5,555.4 679.8,556.6 682.3,557.8 683.4,558.4 684.7,559.3 687.1,561.1 689.2,562.9 689.5,563.2 692,565.3 694.4,567.2 695.1,567.8 696.8,569.1 699.2,570.9 700.9,572.3 701.7,572.9 704.1,575 706.5,577.1 706.7,577.3 708.9,579.2 711.3,580.9 712.6,581.7 713.8,582.4 716.2,583.7 717.4,584.4 718.4,585 718.6,585.2 721,587 723.5,589.3 724.2,590.1 725.9,591.8 728.3,594.3 730.1,596 730.7,596.6 733.1,598.6 735.6,600.3 735.9,600.6 738,602.1 740.4,604.2 741.8,605.4 742.8,606.5 745.3,609 747.6,611.3 747.7,611.4 750.1,613.6 752.5,615.6 753.4,616.3 755,617.4 757.4,619.1 759.3,620.6 759.8,621 762.2,622.9 764.6,624.8 765.1,625.1 767.1,626.4 769.5,627.8 771,628.6 771.9,629.2 774.3,630.7 776.8,632.6 776.8,632.7 779.2,635 781.6,637.7 782.6,638.8 784,640.3 786.4,642.7 788.5,644.4 788.9,644.7 791.3,646.3 793.7,647.9 794.3,648.3 796.1,649.6 798.6,651.6 800.1,652.9 801,653.7 803.4,655.8 805.8,657.7 806,657.8 808.3,659.4 810.7,660.9 811.8,661.7 813.1,662.5 815.5,664.3 817.7,666 817.9,666.3 820.4,668.2 822.8,670.1 823.5,670.6 825.2,671.8 827.6,673.3 829.3,674.4 830.1,674.9 832.5,676.9 834.9,679.1 835.2,679.4 837.3,681.6 839.7,684 841,685.2 842.2,686.1 844.6,687.8 846.8,689 847,689.1 849.4,690.2 851.9,691.6 852.7,692.1 854.3,693.3 856.7,695.2 858.5,696.8 859.1,697.3 861.6,699.3 864,701.2 864.4,701.5 866.4,703 868.8,704.7 870.2,705.8 871.2,706.7 873.7,708.7 876,710.7 876.1,710.7 878.5,712.6 880.9,714.1 881.9,714.6 883.4,715.3 885.8,716.5 887.7,717.6 888.2,717.9 890.6,719.4 893,721.2 893.5,721.6 895.5,723 897.9,724.5 899.4,725.2 900.3,725.6 902.7,726.4 905.2,727.2 905.2,727.3 907.6,728.2 910,729.7 911.1,730.5 912.4,731.5 914.9,733.6 916.9,735.3 917.3,735.6 919.7,737.3 922.1,738.9 922.7,739.3 924.5,740.4 927,742 928.6,743 929.4,743.6 931.8,745.1 934.2,746.5 934.4,746.6 936.7,747.5 939.1,748.3 940.2,748.7 941.5,749.1 943.9,750 946.1,751 946.3,751.1 948.8,752.6 951.2,754.1 951.9,754.6 953.6,755.4 956,756.4 957.8,756.9 958.5,757 960.9,757.5 963.3,758.1 963.6,758.2 965.7,759 967.7,759.9 968.2,760.2 969.4,760.9 970.6,761.5 973,762.8 975.3,763.7 975.4,763.7 977.8,764.5 980.3,765.1 981.1,765.3 982.7,765.8 985.1,766.6 987,767.3 987.5,767.6 990,768.5 992.4,769.3 992.8,769.4 994.8,769.9 997.2,770.5 998.6,771 999.6,771.3 1002.1,772.4 1004.5,773.8 1004.5,773.8 1006.9,775.2 1009.3,776.5 1010.3,776.9 1011.8,777.3 1014.2,777.6 1016.1,777.7 1016.6,777.6 1019,777.6 1021.5,777.8 1022,777.9 1023.9,778.2 1026.3,778.7 1027.8,779 1028.7,779.1 1030.2,779.2 1031.1,779.2 1033.6,779 1033.7,779 1036,778.6 1038.4,778.4 1039.5,778.3 1040.8,778.3 1043.3,778.4 1045.3,778.5 1045.7,778.5 1048.1,778.6 1050.5,778.5 1051.2,778.4 1052.9,778.4 1055.4,778.4 1057,778.6 1057.8,778.7 1060.2,779.3 1062.6,780 1062.8,780 1065.1,780.5 1067.5,780.7 1068.7,780.6 1069.9,780.5 1072.3,780.1 1074.5,779.8 1074.8,779.8 1075.1,779.7 1077.2,779.8 1079.6,780.3 1080.4,780.5 1082,781.1 1084.4,782 1086.2,782.6 1086.9,782.8 1089.3,783.4 1091.7,783.8 1092,783.9 1094.1,784.3 1096.6,785 1097.9,785.4 1099,785.8 1101.4,786.6 1103.3,787.1 1103.7,787.2 1103.8,787.2 1106.2,787.7 1108.7,788 1109.5,788.1 1111.1,788.4 1113.5,789.1 1115.4,789.8 1115.9,790.1 1118.4,791.3 1120.8,792.4 1121.2,792.5 1123.2,793.3 1125.6,793.9 1127.1,794.2 1128.1,794.5 1130.5,795.2 1132.9,796.3" stroke="#8000ff"/>
<polyline points="163.8,302.4 304.8,360.9 310.7,364.7 316.5,368.4 322.4,371.9 328.3,375.1 328.5,375.2 334.1,377.9 340,380.6 345.9,383.2 351.7,385.6 357.6,388 363.5,390.3 369.3,392.5 375.2,394.7 381.1,396.9 386.9,399.2 392.8,401.4 397.4,403.3 398.7,403.8 404.5,406.1 410.4,408.5 416.3,410.9 422.1,413.2 428,415.5 433.9,417.9 439.7,420.2 445.6,422.6 451.4,424.9 457.3,427.2 463.2,429.5 469,431.9 474.9,434.2 480.8,436.5 486.6,438.8 492.5,441.1 498.4,443.4 504.2,445.7 510.1,448 515.9,453 521.7,458.1 527.6,463.1 533.4,468.1 539.2,473 545,477.9 550.9,482.8 556.7,487.7 562.5,492.5 568.3,497.4 574.1,502.1 580,506.9 585.8,511.6 591.6,516.3 597.4,521 603.2,525.6 609.1,530.2 614.9,534.8 620.7,539.4 626.5,543.9 627.5,544.7 632.3,548.4 638.2,552.8 644,557.2 649.8,561.5 655.6,565.7 661.4,570 667.3,574.2 673.1,578.4 678.9,582.5 684.7,586.7 690.5,590.9 696.4,595.2 702.2,599.4 708,603.7 713.8,608.1 717.4,610.8 719.6,612.5 725.5,617 731.3,621.5 737.1,626.1 742.9,630.7 748.7,635.4 754.6,640 760.4,644.7 766.2,649.4 772,654.1 777.9,658.8 783.7,663.5 789.5,668.2 795.3,672.8 801.1,677.3 807,681.8 812.8,686.3 818.6,690.7 824.4,695 827.6,697.3 830.2,699.2 836.1,703.3 841.9,707.4 847.7,711.5 853.5,715.5 859.3,719.5 865.2,723.4 871,727.3 876.8,731.2 882.6,735 888.4,738.8 894.3,742.6 900.1,746.4 905.9,750.2 911.7,753.9 917.3,757.5 917.5,757.6 923.4,761.4 929.2,765.1 935,768.7 940.8,772.2 943.9,774 946.6,775.6 952.5,779 958.3,782.3 964.1,785.4 969.9,788.2 972,789 975.7,790.5 981.6,792.7 987.4,794.9 993.2,796.9 999,798.6 1004.8,800 1010.7,801.1 1012.7,801.3 1016.5,801.8 1022.3,802.4 1028.1,802.9 1034,803.3 1039.8,803.7 1045.6,804 1051.4,804.2 1052.5,804.2 1057.2,804.3 1063.1,804.4 1068.9,804.6 1074.7,804.7 1080.5,804.8 1086.3,804.9 1092.2,805 1098,805.1 1103.8,805.1 1109.6,805.2 1115.4,805.2 1121.3,805.3 1127.1,805.3 1132.9,805.3" stroke="#ffff00"/>
<polyline points="163.8,299.3 169.6,306.7 175.5,311.2 181.3,315.7 187.1,320.3 193,324.8 198.8,329.4 204.6,333.9 210.5,338.5 216.3,343.1 222.2,347.7 228,352.3 233.8,356.9 239.7,361.6 245.5,366.2 251.3,370.9 257.2,375.5 263,380.2 268.9,384.9 274.7,389.6 279.6,393.5 280.5,394.3 286.4,399 292.2,403.7 298.1,408.5 303.9,413.3 309.7,418.1 315.6,422.9 321.4,427.7 327.2,432.6 333.1,437.4 338.9,442.3 344.8,447.1 350.6,452 356.4,456.8 362.3,461.6 368.1,466.4 373.9,471.2 379.8,476 385.6,480.8 391.5,485.5 397.3,490.2 397.4,490.3 403.1,495 409,499.7 414.8,504.4 420.7,509.1 426.5,513.8 432.3,518.5 438.2,523.2 444,527.9 449.8,532.6 455.7,537.3 461.5,542 467.4,546.7 473.2,551.4 479,556.1 484.9,560.8 490.7,565.4 496.5,570.1 502.4,574.7 508.2,579.3 514.1,583.9 519.9,588.5 525.7,593.1 531.6,597.7 537.4,602.2 543.3,606.7 549.1,611.2 554.9,615.7 560.8,620.2 566.6,624.6 572.4,629 578.3,633.4 584.1,637.7 590,642.1 595.8,646.3 599.4,649 601.6,650.6 607.5,654.8 613.3,659 619.1,663.1 625,667 627.5,668.7 630.8,670.8 636.7,674.5 642.5,678.1 648.3,681.7 654.2,685.1 660,688.6 665.9,692 667.7,693.1 671.7,695.4 677.5,698.8 683.4,702.1 689.2,705.4 695,708.6 700.9,711.7 705.8,714.2 706.7,714.7 712.6,717.6 718.4,720.4 724.2,723.3 730.1,726.1 735.9,728.8 741.7,731.5 747.6,734.1 753.4,736.7 759.3,739.1 765.1,741.5 770.9,743.7 776.8,745.8 782.6,747.8 784,748.3 788.5,749.7 794.3,751.5 800.1,753.2 806,754.9 811.8,756.5 817.6,758 823.5,759.5 829.3,760.9 835.2,762.3 841,763.6 846.8,764.8 852.7,766 854.8,766.4 858.5,767.1 864.3,768.1 870.2,769 876,769.9 881.9,770.8 887.7,771.7 893.5,772.5 899.4,773.5 902.7,774 905.2,774.5 911.1,775.5 916.9,776.5 917.3,776.6 922.7,777.5 928.6,778.4 934.4,779.3 940.2,780.1 946.1,780.9 947.6,781.1 951.9,781.7 957.8,782.5 963.6,783.2 969.4,783.9 975.3,784.6 981.1,785.3 986.9,785.9 987.5,786 992.8,786.5 998.6,787.2 1004.5,787.8 1010.3,788.4 1016.1,788.7 1018.5,788.7 1022,788.8 1027.8,788.8 1033.7,788.9 1039.5,788.9 1045.3,788.9 1051.2,789 1052.5,789 1057,789.1 1062.8,789.4 1068.7,789.8 1074.5,790.2 1080.4,790.7 1086.2,791.2 1092,791.6 1097.5,791.9 1097.9,791.9 1103.7,792.1 1109.5,792.3 1115.4,792.5 1121.2,792.7 1127.1,792.9 1132.9,793" stroke="#ff00ff"/>
<polyline points="163.8,311.6 298,364.2 303.9,369 309.7,373.8 315.5,378.6 321.4,383.4 327.2,388.2 333,393 338.9,397.7 344.7,402.5 350.5,407.3 356.4,412.1 362.2,416.8 368.1,421.5 373.9,426.3 379.7,431 385.6,435.7 391.4,440.4 397.2,445.1 401.2,448.3 403.1,449.8 408.9,454.5 414.8,459.2 420.6,463.8 426.4,468.5 432.3,473.1 438.1,477.7 443.9,482.3 449.8,486.9 455.6,491.5 461.4,496.1 467.3,500.7 473.1,505.3 479,509.8 484.8,514.4 490.6,518.9 496.5,523.5 502.3,528.1 508.1,532.6 514,537.2 519.8,541.7 525.6,546.3 531.5,550.8 537.3,555.4 543.2,559.9 549,564.5 554.8,569 560.7,573.6 566.5,578.2 572.3,582.8 578.2,587.3 584,591.9 589.9,596.5 595.7,601.1 601.5,605.7 607.4,610.3 613.2,615 619,619.6 624.9,624.3 627.5,626.4 630.7,628.9 636.5,633.8 642.4,638.7 648.2,643.4 654.1,647.9 655.6,649 659.9,652 665.7,655.9 671.6,659.6 677.4,663.2 683.2,666.7 689.1,670.2 694.9,673.6 700.7,677.1 705.8,680.2 706.6,680.7 712.4,684.3 718.3,688.1 724.1,691.8 729.9,695.6 735.8,699.5 741.6,703.3 747.4,707.2 753.3,711.1 759.1,714.9 765,718.7 770.8,722.5 776.6,726.2 782.5,729.9 788.3,733.5 794.1,737 800,740.4 805.8,743.6 811.6,746.8 817.5,749.9 823.3,752.8 827.6,754.8 829.2,755.5 835,758.1 840.8,760.5 846.7,762.8 852.5,765 858.3,767.2 864.2,769.3 870,771.5 875.8,773.7 876.8,774 881.7,775.9 887.5,778.2 893.4,780.5 899.2,782.7 905,784.9 910.9,786.9 916.7,788.8 917.3,789 922.5,790.6 928.4,792.2 934.2,793.8 940,795.2 945.9,795.2 951.7,795.3 957.6,795.3 963.4,795.5 969.3,795.6 975.1,795.8 981,796 986.8,796.3 992.6,796.6 998.5,796.9 999.6,796.9 1004.3,797.4 1010.2,798.4 1016,799.4 1019,799.8 1021.9,800.1 1027.7,800.8 1033.6,801.4 1039.4,802.1 1045.2,802.6 1051.1,803 1056.9,803.4 1060.2,803.5 1062.8,803.5 1068.6,803.7 1074.5,803.8 1080.3,803.9 1086.1,804 1092,804.1 1097.8,804.2 1103.7,804.2 1109.5,804.3 1115.4,804.3 1121.2,804.4 1127.1,804.4 1132.9,804.4" stroke="#00ffff"/>
<polyline points="163.8,302.8 304.8,360.4 310.6,364.5 316.5,368.7 322.3,372.9 328.1,377.1 334,381.3 339.8,385.6 340.7,386.2 345.6,389.9 351.5,394.3 357.3,398.7 363.1,403.2 369,407.6 374.8,412.1 380.6,416.6 386.4,421 392.3,425.4 397.4,429.2 398.1,429.8 403.9,434.1 409.8,438.4 415.6,442.7 421.4,447 427.3,451.3 433.1,455.6 438.9,459.8 444.8,464 450.6,468.3 456.4,472.5 462.3,476.7 468.1,480.9 473.9,485.1 479.8,489.3 485.6,493.5 491.4,497.7 497.2,501.9 503.1,506 508.9,510.2 514.7,514.4 520.6,518.6 526.4,522.8 532.2,527 538.1,531.1 543.9,535.3 549.7,539.5 555.6,543.7 561.4,547.9 567.2,552.2 573.1,556.4 578.9,560.6 584.7,564.9 590.6,569.1 596.4,573.4 602.2,577.7 608.1,582 613.9,586.3 619.7,590.6 625.5,595 627.5,596.5 631.4,599.4 637.2,603.8 643,608.4 648.9,613 654.7,617.6 660.5,622.2 666.4,626.8 672.2,631.3 678,635.8 683.9,640.1 689.7,644.4 695.5,648.4 696.3,649 701.4,652.4 707.2,656.3 713,660.2 718.9,664 724.7,667.8 730.5,671.6 736.3,675.3 742.2,679 748,682.6 753.8,686.2 759.7,689.7 765.5,693.3 771.3,696.7 777.2,700.1 783,703.5 788.8,706.9 794.7,710.2 800.5,713.4 806.3,716.7 812.2,719.9 818,723 823.8,726.1 827.6,728.1 829.7,729.2 835.5,732.2 841.3,735.3 847.1,738.3 853,741.4 858.8,744.4 864.6,747.4 870.5,750.3 876.3,753.2 882.1,756 888,758.7 893.8,761.4 899.6,763.9 905.5,766.4 911.3,768.8 917.1,771 923,773.1 925.5,774 928.8,775.1 934.6,776.8 940.5,778.4 946.3,780.1 947.6,780.5 952.1,781.9 958,783.9 963.8,785.9 969.6,787.7 973.5,788.7 975.4,789.2 981.3,790.6 987.1,792 992.9,793.3 998.8,794.6 1004.6,795.8 1010.4,796.8 1016.3,797.8 1022.1,798.7 1027.9,799.5 1030.2,799.8 1033.8,800.2 1039.6,800.8 1045.4,801.5 1051.3,802 1057.1,802.6 1062.9,803.1 1068.8,803.5 1074.6,803.9 1080.4,804.2 1086.2,804.4 1086.4,804.4 1092.1,804.6 1097.9,804.7 1103.7,804.9 1109.6,805 1115.4,805.1 1121.2,805.2 1127.1,805.3 1132.9,805.3" stroke="#ff9900"/>
<polyline points="163.8,302.8 169.7,305.1 175.5,307.3 181.4,309.6 187.3,311.9 193.2,314.2 199,316.6 204.9,318.9 210.8,321.3 216.6,323.7 222.5,326.1 228.4,328.5 234.3,330.9 240.1,333.3 246,335.7 251.9,338.2 257.7,340.7 263.6,343.1 269.5,345.6 275.3,348.1 281.2,350.6 287.1,353.1 293,355.6 298,357.8 298.8,358.2 304.7,360.7 310.6,363.3 316.4,365.9 322.3,368.5 328.2,371.2 334.1,373.8 339.9,376.5 345.8,379.2 351.6,383.6 357.5,388 363.3,392.5 369.1,396.9 374.9,401.3 380.8,405.7 386.6,410.2 392.4,414.6 397.4,418.3 398.3,418.9 404.1,423.3 409.9,427.7 415.8,432 421.6,436.4 427.4,440.7 433.3,445 439.1,449.4 444.9,453.7 450.7,458 456.6,462.3 462.4,466.6 468.2,470.9 474.1,475.2 479.9,479.4 485.7,483.7 491.6,488 497.4,492.3 503.2,496.6 509,500.9 514.9,505.1 520.7,509.4 526.5,513.7 532.4,518 538.2,522.3 544,526.6 549.9,530.9 555.7,535.2 561.5,539.5 567.4,543.9 573.2,548.2 579,552.5 584.8,556.9 590.7,561.2 596.5,565.6 602.3,570 608.2,574.4 614,578.8 619.8,583.2 625.7,587.7 627.5,589.1 631.5,592.2 637.3,596.7 643.1,601.4 649,606.1 654.8,610.8 660.6,615.5 666.5,620.2 672.3,624.9 678.1,629.5 684,634.1 689.8,638.5 695.6,642.8 701.5,647 704.3,649 707.3,651 713.1,655 718.9,658.9 724.8,662.7 730.6,666.5 736.4,670.2 742.3,673.9 748.1,677.5 753.9,681.1 759.8,684.6 765.6,688.1 771.4,691.6 777.2,695 783.1,698.4 788.9,701.8 794.7,705.1 800.6,708.4 806.4,711.7 812.2,715 818.1,718.3 823.9,721.5 827.6,723.6 829.7,724.8 835.5,728 841.4,731.3 847.2,734.6 853,737.8 858.9,741 864.7,744.3 870.5,747.4 876.4,750.5 882.2,753.6 888,756.5 893.9,759.4 899.7,762.2 905.5,764.9 911.3,767.4 917.2,769.8 917.3,769.9 923,772.1 928.8,774 928.9,774 934.7,775.7 940.5,777.2 946.3,778.7 947.6,779.1 952.2,780.4 958,782.2 963.8,784 969.6,785.7 973.8,786.8 975.5,787.2 981.3,788.6 987.1,790 993,791.3 998.8,792.5 1004.6,793.7 1010.5,794.9 1016.3,795.9 1022.1,796.9 1028,797.7 1030.2,798 1033.8,798.5 1039.6,799.3 1045.4,800 1051.3,800.6 1057.1,801.3 1062.9,801.9 1068.8,802.4 1074.6,802.9 1080.4,803.3 1086.3,803.6 1086.4,803.6 1092.1,803.9 1097.9,804.2 1103.7,804.5 1109.6,804.7 1115.4,804.9 1121.2,805.1 1127.1,805.2 1132.9,805.3" stroke="#8099ff"/>
<polyline points="163.8,350.1 169.6,352.4 175.5,354.7 181.3,357 187.2,359.3 193,361.7 198.9,364 204.7,366.3 210.5,368.6 216.4,370.9 222.2,373.2 228.1,375.6 233.9,377.9 239.7,380.2 245.6,382.5 251.4,384.8 257.3,387.1 263.1,389.5 269,391.8 274.8,394.1 279.6,396 280.6,396.4 286.5,398.8 292.3,401.1 298.2,403.6 304,406 309.9,408.5 315.7,411 321.5,413.5 327.4,416 333.2,418.5 339.1,421 344.9,423.4 350.7,425.8 356.6,428.2 362.4,430.6 368.3,432.9 374.1,435.2 380,437.4 385.8,439.5 391.6,441.6 397.5,443.6 403.3,445.5 407.5,446.8 409.2,447.3 415,448.9 420.9,450.4 426.7,455.3 432.5,460.2 438.3,465.2 444.1,470.1 449.9,475 455.8,479.9 461.6,484.8 467.4,489.6 473.2,494.5 479,499.3 484.9,504.2 490.7,509 496.5,513.8 502.3,518.6 508.1,523.4 513.9,528.2 519.8,532.9 525.6,537.7 531.4,542.5 537.2,547.2 543,551.9 548.9,556.6 554.7,561.4 560.5,566.1 566.3,570.7 572.1,575.4 577.9,580.1 583.8,584.8 589.6,589.4 595.4,594 601.2,598.7 607,603.3 612.9,607.9 618.7,612.5 624.5,617.1 630.3,621.7 636.1,626.3 641.9,630.8 647.8,635.4 653.6,640 659.4,644.5 665.2,649 665.2,649 671,653.6 676.9,658.1 682.7,662.6 688.5,667 694.3,671.5 700.1,676 705.9,680.4 711.8,684.8 717.6,689.3 723.4,693.7 729.2,698 735,702.4 740.9,706.8 746.7,711.2 752.5,715.5 758.3,719.8 764.1,724.2 769.9,728.5 775.8,732.8 781.6,737.1 787.4,741.3 793.2,745.6 799,749.9 804.9,754.1 810.7,758.4 816.5,758.8 822.4,759.2 827.6,759.6 828.3,759.6 834.1,760 840,760.3 845.8,760.6 851.7,760.9 857.5,761.2 862.3,761.5 863.4,761.6 869.3,762 875.1,762.4 881,762.9 886.8,763.4 892.7,763.9 898.6,764.4 904.4,765 909.5,765.5 910.3,765.5 916.1,766.1 922,766.7 927.8,767.3 933.7,767.9 939.6,768.6 945.4,769.2 947.6,769.4 951.3,769.8 957.1,770.4 963,771 968.9,771.6 973.8,772.2 974.7,772.3 980.6,773 986.4,773.7 992.3,774.4 998.2,775.3 999.6,775.5 1004,776.2 1009.9,777.2 1015.7,778.3 1021.6,779.4 1027.4,780.6 1030.2,781.1 1033.3,781.7 1039.2,782.9 1045,784.1 1050.9,785.4 1056.7,786.6 1062.6,787.8 1068.5,788.9 1074.3,790 1075.1,790.1 1080.2,791 1086,791.9 1091.9,792.7 1097.5,793.5 1097.7,793.6 1103.6,794.4 1109.5,795.1 1115.3,795.9 1121.2,796.6 1127,797.3 1132.9,797.9" stroke="#999999"/>
<polyline points="163.8,299.3 169.7,301.4 175.6,303.5 181.5,305.7 187.4,307.8 193.3,310 199.2,312.2 205.1,314.4 211,316.7 216.9,318.9 222.8,321.2 228.7,323.5 234.6,325.7 240.5,328.1 246.4,330.4 252.3,332.7 258.1,335.1 264,337.5 269.9,339.8 275.8,342.2 281.7,344.6 287.6,347.1 293.5,349.5 298,351.4 299.4,352 305.3,354.5 311.2,357 317.1,359.6 323,362.2 328.9,364.9 334.8,367.6 340.7,370.3 346.6,373 352.5,375.8 358.4,378.5 364.3,381.2 370.2,383.8 376.1,386.4 382,389 387.9,391.6 393.8,394.1 397.4,395.5 399.7,396.5 405.6,398.9 411.5,401.2 417.4,403.6 423.3,405.9 429.2,408.3 435,410.6 440.9,412.9 446.8,415.1 452.7,417.4 458.6,419.6 464.5,421.8 470.4,424 476.3,426.1 482.2,428.3 488.1,430.4 494,432.5 499.9,434.5 505.8,436.6 511.7,438.6 517.6,443.8 523.4,448.9 529.3,454 535.1,459.1 541,464.1 546.9,469.1 552.7,474 558.6,479 564.4,483.8 570.3,488.7 576.2,493.5 582,498.2 587.9,503 593.8,507.7 599.6,512.3 605.5,517 611.3,521.6 617.2,526.1 623.1,530.6 628.9,535.1 634.8,539.6 635.3,540 640.6,544 646.5,548.3 652.4,552.5 658.2,556.7 664.1,560.8 669.9,564.8 675.8,568.9 681.7,572.9 687.5,577 693.4,581 699.2,585.1 705.1,589.3 711,593.5 716.8,597.8 717.4,598.3 722.7,602.2 728.5,606.7 734.4,611.2 740.3,615.8 746.1,620.4 752,625 757.8,629.7 763.7,634.4 769.6,639.1 775.4,643.8 781.3,648.6 787.1,653.3 793,658 798.9,662.6 804.7,667.3 810.6,671.8 816.4,676.4 822.3,680.9 827.6,684.9 828.2,685.3 834,689.7 839.9,694.2 845.7,698.8 851.6,703.4 857.5,708 863.3,712.5 869.2,717 875,721.5 880.9,725.8 886.8,730 892.6,734.1 898.5,738 904.3,741.7 910.2,745.2 916.1,748.5 917.3,749.1 921.9,751.5 927.8,754.3 933.6,757 939.5,759.6 945.4,762.1 951.2,764.4 957.1,766.7 963,768.8 967.7,770.5 968.8,770.9 974.7,773 980.5,775.1 986.4,777.1 992.3,779.1 998.1,781 1004,782.8 1009.8,784.5 1015.7,786 1021.6,787.4 1027.4,788.6 1030.2,789 1033.3,789.5 1039.1,790.3 1045,791.1 1050.9,791.8 1056.7,792.5 1062.6,793.1 1068.4,793.7 1074.3,794.2 1080.2,794.7 1086,795.2 1086.4,795.2 1091.9,795.6 1097.7,796 1103.6,796.4 1109.5,796.8 1115.3,797.2 1121.2,797.5 1127,797.8 1132.9,798" stroke="#ff0000"/>
<polyline points="163.8,302.4 169.7,304.9 175.7,307.3 181.6,309.7 187.5,312.1 193.4,314.6 199.4,317 205.3,319.4 211.2,321.9 217.1,324.3 223.1,326.7 229,329.1 234.9,331.6 240.8,334 246.8,336.4 252.7,338.9 258.6,341.3 264.5,343.7 270.5,346.1 276.4,348.6 282.3,351 288.2,353.4 294.2,355.9 298,357.4 300.1,358.3 306,360.7 311.9,363.1 317.9,365.6 323.8,368 329.7,370.4 335.6,372.9 341.6,375.3 347.5,377.7 353.4,380.1 359.3,382.6 365.3,385 371.2,387.4 377,391.9 382.8,396.3 388.6,400.7 394.4,405.1 397.4,407.3 400.3,409.5 406.1,413.9 411.9,418.3 417.7,422.7 423.5,427.1 429.3,431.5 435.1,435.9 441,440.3 446.8,444.7 452.6,449 458.4,453.4 464.2,457.8 470,462.2 475.9,466.6 481.7,470.9 487.5,475.3 493.3,479.7 499.1,484.1 504.9,488.5 510.7,492.8 516.6,497.2 522.4,501.6 528.2,506 534,510.3 539.8,514.7 545.6,519.1 551.4,523.5 557.3,527.9 563.1,532.3 568.9,536.6 574.7,541 580.5,545.4 586.3,549.8 592.1,554.2 598,558.6 603.8,563 609.6,567.4 615.4,571.8 621.2,576.2 627,580.6 627.5,581 632.8,585.1 638.7,589.6 644.5,594.1 650.3,598.7 656.1,603.3 661.9,607.9 667.7,612.5 673.5,617.1 679.4,621.6 685.2,626.1 691,630.5 696.8,634.9 702.6,639.1 708.4,643.3 714.2,647.3 716.7,649 720.1,651.3 725.9,655.2 731.7,659 737.5,662.8 743.3,666.6 749.1,670.3 755,674 760.8,677.6 766.6,681.2 772.4,684.8 778.2,688.2 784,691.7 789.8,695.1 795.7,698.4 801.5,701.7 807.3,704.9 813.1,708.1 818.9,711.2 824.7,714.3 827.6,715.8 830.5,717.3 836.4,720.2 842.2,723.1 848,725.9 853.8,728.6 859.6,731.4 865.4,734 871.2,736.7 877.1,739.2 882.9,741.8 888.7,744.3 894.5,746.8 900.3,749.3 906.1,751.8 911.9,754.3 917.3,756.5 917.8,756.7 923.6,759.2 929.4,761.7 935.2,764.1 941,766.6 946.8,768.9 952.6,771.1 958.5,773.2 960.9,774 964.3,775.2 970.1,777.1 975.9,779.1 981.7,781 987.5,782.9 993.3,784.8 999.2,786.5 1005,788.1 1010.8,789.7 1016.6,791 1022.4,792.2 1028.2,793.2 1030.2,793.5 1034.1,794.1 1039.9,794.8 1045.7,795.5 1051.5,796.1 1057.3,796.7 1063.1,797.2 1068.9,797.7 1074.8,798.2 1080.6,798.7 1086.4,799.1 1092.2,799.6 1098,800.1 1103.8,800.5 1109.6,801 1115.5,801.4 1121.3,801.8 1127.1,802.2 1132.9,802.5" stroke="#00ff00"/>
<polyline points="163.8,287.7 169.7,288.9 175.6,290.2 181.5,291.6 187.4,293.1 193.2,294.7 199.1,296.4 205,298.1 210.9,300 216.8,301.9 218.6,302.4 222.7,303.9 228.6,306.1 234.5,308.5 240.4,311 246.2,313.6 252.1,316.4 258,319.1 263.9,321.8 269.8,324.5 275.7,327.1 279.6,328.7 281.6,329.6 287.5,332 293.4,334.4 299.2,336.8 305.1,339.1 311,341.5 316.9,343.8 322.8,346.1 328.7,348.4 334.6,350.7 340.5,353 346.4,355.3 352.2,357.6 358.1,359.9 364,362.2 369.9,364.5 375.8,366.8 381.7,369.1 387.6,371.4 393.5,373.7 397.4,375.2 399.4,376 405.2,378.3 411.1,380.6 417,382.9 422.9,385.2 428.8,387.6 434.7,389.9 440.6,392.2 446.5,394.5 452.4,396.8 458.2,399.1 464.1,401.4 470,403.7 475.9,406.1 481.8,408.4 487.7,410.7 493.6,413 499.5,415.3 505.4,417.6 511.2,419.9 517.1,422.2 523,424.5 528.9,426.8 534.8,431.6 540.7,436.4 546.6,441.1 552.4,445.9 558.3,450.7 564.2,455.4 570.1,460.2 576,465 581.9,469.8 587.8,474.5 593.6,479.3 599.5,484.1 605.4,488.8 611.3,493.6 617.2,498.4 623.1,503.1 628.9,507.9 634.8,512.7 640.7,517.4 646.6,522.2 652.5,527 658.4,531.7 664.2,536.5 668.2,539.7 670.1,541.2 676,546 681.9,550.8 687.8,555.6 693.7,560.4 699.6,565.2 705.4,569.9 711.3,574.7 717.2,579.3 717.4,579.5 723.1,584 729,588.7 734.9,593.3 740.7,597.9 746.6,602.5 752.5,607.1 758.4,611.7 764.3,616.3 770.2,620.9 776,625.4 781.9,630 787.8,634.5 793.7,639 799.6,643.5 805.5,648 811.4,652.4 817.2,656.9 823.1,661.3 827.6,664.7 829,665.8 834.9,670.2 840.8,674.7 846.7,679.2 852.5,683.7 858.4,688.2 864.3,692.6 870.2,697 876.1,701.3 882,705.4 887.8,709.5 893.7,713.4 897.4,715.8 899.6,717.2 905.5,720.8 911.4,724.4 917.3,727.8 923.2,731.2 929,734.6 934.9,737.8 940.8,741 946.7,744.2 952.6,747.3 958.5,750.3 964.3,753.4 967.7,755.1 970.2,756.4 976.1,759.3 982,762.2 987.9,765 993.8,767.7 999.6,770.4 1132.9,777.8" stroke="#000000"/>
</g>
<rect x="163.8" y="253.3" width="969.1" height="552" fill="none" stroke="#262626" stroke-width="1.5"/>
<text x="162.3" y="847.3" font-size="29.9" text-anchor="middle" fill="#262626">0</text>
<text x="405" y="847.3" font-size="29.9" text-anchor="middle" fill="#262626">500</text>
<text x="648.7" y="847.3" font-size="29.9" text-anchor="middle" fill="#262626">1000</text>
<text x="891.2" y="847.3" font-size="29.9" text-anchor="middle" fill="#262626">1500</text>
<text x="1133.2" y="847.3" font-size="29.9" text-anchor="middle" fill="#262626">2000</text>
<text x="150.6" y="816.9" font-size="29.9" text-anchor="end" fill="#262626">0</text>
<text x="151.3" y="724.9" font-size="29.9" text-anchor="end" fill="#262626">0.1</text>
<text x="151.3" y="632.9" font-size="29.9" text-anchor="end" fill="#262626">0.2</text>
<text x="151.3" y="540.9" font-size="29.9" text-anchor="end" fill="#262626">0.3</text>
<text x="151.3" y="448.9" font-size="29.9" text-anchor="end" fill="#262626">0.4</text>
<text x="151.3" y="356.9" font-size="29.9" text-anchor="end" fill="#262626">0.5</text>
<text x="151.3" y="264.9" font-size="29.9" text-anchor="end" fill="#262626">0.6</text>
<path d="M406.1,805.3v-9.8M406.1,253.3v9.8M648.4,805.3v-9.8M648.4,253.3v9.8M890.6,805.3v-9.8M890.6,253.3v9.8M163.8,713.3h9.8M1132.9,713.3h-9.8M163.8,621.3h9.8M1132.9,621.3h-9.8M163.8,529.3h9.8M1132.9,529.3h-9.8M163.8,437.3h9.8M1132.9,437.3h-9.8M163.8,345.3h9.8M1132.9,345.3h-9.8" stroke="#303030" stroke-width="1.25" fill="none"/>
 <text x="648" y="890.5" font-size="32.9" text-anchor="middle" fill="#262626">No of Rounds</text>
<text transform="translate(92.9,529.3) rotate(-90)" font-size="32.9" text-anchor="middle" fill="#262626">Residual Energy</text>
<text class="cap" transform="translate(574.54,999.6) scale(0.9145,1)" font-size="86" fill="#000">(</text>
<text class="cap" transform="translate(601.06,999.6) scale(1.0474,1)" font-size="86" font-weight="bold" fill="#000">b</text>
<text class="cap" transform="translate(651.78,999.6) scale(0.9100,1)" font-size="86" fill="#000">)</text>
</g>
<g transform="translate(0,1147.4)">
<rect x="11.9" y="12.3" width="1122.1" height="198.5" fill="#fff" stroke="#262626" stroke-width="1.6"/>
<line x1="21" y1="40.4" x2="110.4" y2="40.4" stroke="#809980" stroke-width="6.3"/>
<text x="117.6" y="53.9" font-size="35.9" fill="#000">CSO</text>
<line x1="21" y1="87.6" x2="110.4" y2="87.6" stroke="#8000ff" stroke-width="6.3"/>
<text x="117.6" y="101.7" font-size="35.9" fill="#000">FF</text>
<line x1="21" y1="135.4" x2="110.4" y2="135.4" stroke="#ffff00" stroke-width="6.3"/>
<text x="117.6" y="149.6" font-size="35.9" fill="#000">SSO</text>
<line x1="21" y1="182.9" x2="110.4" y2="182.9" stroke="#ff00ff" stroke-width="6.3"/>
<text x="117.6" y="197.3" font-size="35.9" fill="#000">PRO</text>
<line x1="283" y1="40.4" x2="372.3" y2="40.4" stroke="#00ffff" stroke-width="6.3"/>
<text x="378.2" y="53.9" font-size="35.9" fill="#000">HGS</text>
<line x1="283" y1="87.6" x2="372.3" y2="87.6" stroke="#ff9900" stroke-width="6.3"/>
<text x="378.2" y="101.7" font-size="35.9" fill="#000">BES</text>
<line x1="283" y1="135.4" x2="372.3" y2="135.4" stroke="#8099ff" stroke-width="6.3"/>
<text x="378.2" y="149.6" font-size="35.9" fill="#000">BWO</text>
<line x1="283" y1="182.9" x2="372.3" y2="182.9" stroke="#999999" stroke-width="6.3"/>
<text x="378.2" y="197.3" font-size="35.9" fill="#000">Fuzzy + HHO</text>
<line x1="683.1" y1="40.4" x2="772.4" y2="40.4" stroke="#ff0000" stroke-width="6.3"/>
<text x="779.4" y="53.9" font-size="35.9" fill="#000">ANFIS + SA-JSO</text>
<line x1="683.1" y1="87.6" x2="772.4" y2="87.6" stroke="#00ff00" stroke-width="6.3"/>
<text x="779.4" y="101.7" font-size="35.9" fill="#000">DOX</text>
<line x1="683.1" y1="135.4" x2="772.4" y2="135.4" stroke="#000000" stroke-width="6.3"/>
<text x="779.4" y="149.6" font-size="35.9" fill="#000">SADO-BM</text>
<clipPath id="clipc"><rect x="159.8" y="253.3" width="977.1" height="556"/></clipPath>
<g clip-path="url(#clipc)" fill="none" stroke-width="6.3" stroke-linejoin="round" stroke-linecap="butt">
<polyline points="163.8,310.2 166.2,313.4 168.6,316.8 169.6,318.2 171.1,320.2 173.5,323.5 175.5,326.1 175.9,326.6 178.3,329 180.3,330.8 180.8,331.1 181.3,331.6 183.2,333 185.6,335.1 187.2,336.6 188,337.5 190.5,340 192.9,342.6 193,342.7 195.3,344.7 197.7,346.5 198.8,347.2 200.1,347.9 202.6,349.1 204.7,350.2 205,350.4 207.4,351.9 209.8,353.7 210.5,354.1 212.3,355.3 214.7,356.9 216.3,357.8 217.1,358.2 219.5,359.4 221.9,360.7 222.2,360.9 224.4,362.3 226.8,364.1 228,365.1 229.2,366.1 231.6,367.9 233.9,369.4 234.1,369.5 236.5,371.1 238.3,372.3 238.9,372.7 239.7,373.2 241.3,374.6 243.8,376.8 245.5,378.6 246.2,379.3 248.6,381.7 251,383.8 251.4,384.1 253.4,385.5 255.9,386.8 257.2,387.5 258.3,388.1 260.7,389.4 263,391 263.1,391.1 265.6,392.9 268,394.8 268.9,395.5 270.4,396.6 272.8,398.3 274.7,399.6 275.2,400 277.7,401.9 280.1,404.2 280.6,404.7 282.5,406.7 284.9,409.1 286.4,410.5 287.4,411.3 289.8,413.1 292.2,414.6 292.2,414.6 294.6,416.1 297.1,417.8 298.1,418.5 299.5,419.7 301.9,421.8 303.9,423.5 304.3,423.8 306.7,425.6 309.2,427 309.7,427.2 311.6,428 314,429.1 315.6,429.9 316.4,430.3 318.9,431.7 321.3,433.3 321.4,433.4 323.7,434.8 326.1,436.1 327.3,436.6 328.5,437.2 331,438.3 333.1,439.5 333.4,439.7 335.8,441.2 338.2,442.9 338.9,443.4 340.7,444.5 343.1,445.8 344.8,446.5 345.5,446.7 347.9,447.4 350.4,448.2 350.6,448.3 352.8,449.3 355.2,450.8 356.5,451.7 357.6,452.6 360,454.5 362.3,456.2 362.5,456.3 364.9,457.9 367.3,459.3 368.1,459.7 369.7,460.7 372.2,462.2 374,463.5 374.6,463.9 377,465.6 379.2,466.9 379.4,467 379.8,467.2 381.8,468.2 384.3,469.1 385.6,469.6 386.7,470 389.1,471.2 391.5,472.5 391.5,472.5 394,474.2 396.4,475.7 397.3,476.3 398.8,477.1 401.2,478.1 403.2,478.8 403.7,479 406.1,480.1 408.5,481.5 409,481.8 410.9,483.3 413.3,485.5 414.8,486.8 415.8,487.7 418.2,489.7 420.6,491.6 420.7,491.6 423,493.2 425.5,494.9 426.5,495.7 427.9,496.7 430.3,498.6 432.3,500.1 432.7,500.4 435.1,502 437.6,503.2 438.2,503.5 440,504.4 442.4,505.6 444,506.5 444.8,507.1 447.3,509 449.7,511.2 449.9,511.3 452.1,513.3 454.5,515.2 455.7,515.9 457,516.6 459.4,517.9 461.5,519 461.8,519.2 464.2,520.6 466.6,522.4 467.4,522.9 469.1,524.2 471.5,526.1 473.2,527.2 473.9,527.7 476.3,529.1 478.8,530.4 479,530.6 481.2,532 483.6,533.7 484.9,534.7 486,535.7 488.4,537.6 490.7,539.2 490.9,539.3 493.3,540.8 495.7,542.1 496.6,542.6 498.1,543.6 500.6,545.4 502.4,547 503,547.5 505.4,549.8 507.8,552 508.2,552.3 510.3,553.8 512.7,555.2 514.1,555.8 515.1,556.3 517.5,557.3 519.9,558.5 519.9,558.6 522.4,560 524.8,561.6 525.8,562.3 527.2,563.2 529.6,564.7 531.6,565.8 532.1,566.1 534.5,567.7 536.9,569.5 537.4,570 539.3,571.7 541.7,574 543.3,575.5 544.2,576.3 546.6,578.3 549,579.9 549.1,580 551.4,581.3 553.9,582.7 554.9,583.4 556.3,584.4 558.7,586.3 560.8,588.1 561.1,588.3 563.6,590.2 566,591.8 566.6,592.1 568.4,593 570.8,594 572.5,594.7 573.2,595 575.7,596.3 578.1,597.8 578.3,597.9 580.5,599.4 582.9,600.9 584.1,601.6 585.4,602.2 587.8,603.5 590,604.8 590.2,605 592.6,606.6 595,608.6 595.4,608.9 595.8,609.2 597.5,610.6 599.9,612.5 601.6,613.7 602.3,614.1 604.7,615.3 607.2,616.3 607.5,616.4 609.6,617.3 612,618.8 613.3,619.7 614.4,620.6 616.9,622.6 619.2,624.6 619.3,624.7 621.7,626.5 624.1,628.1 625,628.7 626.5,629.7 629,631.3 630.8,632.6 631.4,633 633.8,634.9 636.2,636.6 636.7,636.9 638.7,638.1 641.1,639.3 642.5,639.9 643.5,640.3 645.9,641.3 648.4,642.6 650.8,644.2 653.2,645.9 654.2,646.6 655.6,647.5 658,648.8 660,649.6 660.5,649.8 662.9,650.7 665.3,651.8 665.9,652.1 667.7,653.2 670.2,655.1 671.7,656.4 672.6,657.2 675,659.3 677.4,661.2 677.5,661.3 679.8,662.8 682.3,664.4 683.4,665.1 684.7,666 686.1,667 687.1,667.7 689.2,669.2 689.5,669.4 692,671 694.4,672.3 695.1,672.6 696.8,673.3 699.2,674.2 700.9,674.9 701.7,675.2 704.1,676.6 706.5,678.4 706.7,678.5 708.9,680.3 711.3,682.1 712.6,682.9 713.8,683.6 716.2,684.8 718.4,685.7 718.6,685.8 721,686.8 723.5,688 724.2,688.5 724.4,688.6 725.9,689.4 728.3,690.9 730.1,691.9 730.7,692.2 733.1,693.2 735.6,694 735.9,694.1 738,694.7 740.4,695.6 741.8,696.2 742.8,696.7 745.3,697.9 747.6,698.9 747.7,698.9 750.1,699.7 752.5,700.3 753.4,700.4 755,700.8 757.4,701.5 759.3,702.3 759.8,702.6 762.2,704.2 764.6,705.8 765.1,706.1 767.1,707.4 769.5,708.6 770.9,709.1 771.9,709.5 774.3,710.2 776.8,710.9 776.8,710.9 779.2,711.9 781.6,713.1 782.6,713.6 784,714.4 786.4,715.6 788.5,716.5 788.9,716.7 791.3,717.8 793.7,719.1 794.3,719.5 796.1,720.7 798.6,722.6 800.1,723.9 801,724.6 803.4,726.5 805.8,728 806,728.1 808.3,729.1 810.7,730 811.8,730.5 813.1,731 815.5,732.2 817.7,733.4 817.9,733.6 820.4,735 822.8,736.1 823.5,736.3 825.2,736.8 827.6,737.2 829.3,737.4 830.1,737.4 832.5,737.7 834.9,738.3 835.2,738.3 837.3,738.9 839.7,739.7 841,740 842.2,740.3 844.6,740.8 846.8,741.3 847,741.3 849.4,742 851.9,742.9 852.7,743.3 854.3,744.1 856.7,745.4 858.5,746.2 859.1,746.5 861.6,747.1 864,747.3 864.4,747.3 865.9,747.4 866.4,747.4 868.8,747.6 870.2,747.9 871.2,748.1 873.7,748.9 876,749.9 876.1,749.9 878.5,750.7 880.9,751.4 881.9,751.5 883.4,751.8 885.8,752.1 887.7,752.5 888.2,752.6 890.6,753.3 893,754 893.5,754.1 895.5,754.6 897.9,754.9 899.4,754.9 900.3,754.9 902.7,754.8 905.2,754.9 905.2,754.9 907.6,755.2 910,755.8 911.1,756.1 912.4,756.4 914.9,756.9 916.9,757.1 917.3,757.1 919.7,757 922.1,756.8 922.7,756.8 924.5,756.9 927,757.4 928.6,757.9 929.4,758.2 931.8,759.2 934.2,760.1 934.4,760.2 936.7,760.8 939.1,761.4 940.2,761.6 941.5,761.9 943.9,762.5 946.1,763.1 946.3,763.2 948.8,763.8 951.2,764.3 951.9,764.4 953.6,764.4 956,764.2 957.8,764.1 958.5,764 960.9,764.1 963.3,764.5 963.6,764.6 965.7,765.4 968.2,766.4 969.4,766.8 970.6,767.2 973,767.9 975.3,768.3 975.4,768.3 977.8,768.7 980.3,769.2 981.1,769.5 982.7,770.1 985.1,771.1 987,772 987.5,772.3 990,773.2 992.4,773.9 992.8,774 994.8,774.5 997.2,775 998.6,775.4 999.6,775.8 1002.1,776.7 1004.5,777.5 1004.5,777.5 1006.9,778.2 1009.3,778.6 1010.3,778.6 1011.8,778.7 1014.2,778.7 1016.1,779 1016.6,779.1 1019,779.8 1021.5,780.8 1022,781.1 1023.9,781.9 1026.3,782.8 1027.8,783.2 1028.7,783.4 1031.1,783.6 1033.6,783.7 1033.7,783.7 1036,783.8 1038.4,784.2 1039.5,784.4 1040.8,784.7 1043.3,785.2 1045.3,785.6 1045.7,785.6 1046.7,785.7 1048.1,785.9 1050.5,786.2 1051.2,786.3 1052.9,786.7 1055.4,787.6 1057,788.3 1057.8,788.7 1060.2,789.9 1062.6,790.9 1062.8,791 1065.1,791.6 1067.5,791.9 1068.7,792.1 1069.9,792.2 1072.3,792.6 1074.5,793.2 1074.8,793.3 1077.2,794.1 1079.6,794.9 1080.4,795.1 1082,795.5 1084.4,795.6 1086.2,795.6 1086.9,795.5 1089.3,795.3 1091.7,795.2 1092,795.2 1094.1,795.3 1096.6,795.6 1097.9,795.7 1099,795.8 1101.4,796 1103.7,796.1 1103.8,796.1 1106.2,796.2 1108.7,796.7 1109.5,796.9 1111.1,797.4 1113.5,798.5 1115.4,799.3 1115.9,799.5 1118.4,800.2 1120.8,800.5 1121.2,800.6 1123.2,800.5 1125.6,800.4 1127.1,800.4 1128.1,800.5 1130.5,800.8 1132.9,801.4" stroke="#809980"/>
<polyline points="163.8,304.7 166.2,306.7 168.6,308.3 169.6,308.7 171.1,309.3 173.5,310.8 175.5,312.3 175.9,312.7 178.3,314.6 180.8,316.3 181.3,316.6 183.2,317.7 185.6,319.4 187.2,320.8 188,321.7 190.5,324.4 192.9,326.9 193,327.1 195.3,328.8 197.7,330 198.8,330.4 200.1,331 202.6,332.4 204.7,334.3 205,334.6 207.4,337 209.8,338.9 210.5,339.3 212.3,340.1 214.7,340.7 216.3,341.2 217.1,341.5 219.5,342.8 221.9,344.7 222.2,344.9 224.4,346.7 226.8,348.4 228,349.2 229.2,350 231.6,351.7 233.9,353.7 234.1,354 236.5,356.5 238.9,358.7 239.7,359.2 241.3,360.1 243.8,360.8 245.5,361.2 246.2,361.4 248.6,362.6 251,364.6 251.4,364.9 253.4,367 255.9,369 257.2,369.9 258.3,370.4 260.7,371.4 263,372.6 263.1,372.6 265.6,374.4 268,376.6 268.9,377.4 270.4,378.6 272.8,380.2 274.7,381.1 275.2,381.4 277.7,382.7 280.1,384.5 280.6,384.9 282.5,386.5 284.9,388.2 286.4,388.9 287.4,389.2 289.8,389.7 292.2,390.3 292.2,390.3 294.6,391.7 297.1,394.1 298.1,395.2 299.5,396.8 301.9,399.2 303.9,400.7 304.3,400.9 306.7,402.1 309.2,403.4 309.7,403.8 311.6,405.1 314,407 315.6,408.1 316.4,408.6 318.9,409.6 321.3,410.4 321.4,410.4 323.7,411.4 326.1,412.9 327.3,413.8 328.5,414.8 331,416.4 333.1,417.3 333.4,417.3 335.8,417.9 338.2,418.6 338.9,418.9 340.7,420.1 343.1,422.4 344.8,424.1 345.5,424.8 347.9,426.7 350.4,427.9 350.6,428 352.8,428.6 355.2,429.4 356.5,430 357.6,430.7 360,432.3 362.3,433.6 362.5,433.7 364.9,434.8 367.3,435.9 368.1,436.4 369.7,437.5 372.2,439.6 374,441.5 374.6,442.1 377,444.2 379.4,445.5 379.8,445.7 381.8,446.2 384.3,447 385.6,447.7 386.7,448.4 389.1,450.3 391.5,452.3 391.5,452.3 394,453.6 396.4,454.2 397.3,454.3 398.8,454.5 401.2,455 403.2,455.9 403.7,456.2 406.1,457.7 408.5,459.1 409,459.4 410.9,460.3 413.3,461.4 414.8,462.2 415.8,462.9 418.2,465 420.6,467.2 420.7,467.2 423,468.9 425.5,469.8 426.5,469.9 427.9,470.1 430.3,470.6 432.3,471.6 432.7,471.8 435.1,473.8 437.6,475.9 438.2,476.4 440,477.6 442.4,478.6 444,479.2 444.8,479.6 447.3,480.8 449.7,482.6 449.9,482.8 452.1,484.6 454.5,486.3 455.7,486.9 457,487.5 459.4,488.5 461.5,489.6 461.8,489.8 464.2,491.5 466.6,493.3 467.4,493.7 469.1,494.5 471.5,495 473.2,495.1 473.9,495.1 476.3,495.6 478.8,497.1 479,497.3 481.2,499.3 483.6,501.7 484.9,502.9 486,503.7 488.4,505 490.7,506 490.9,506.1 493.3,507.5 495.7,509.2 496.6,509.8 498.1,511 500.6,512.3 502.4,513 503,513.1 505.4,513.9 507.8,515.1 508.2,515.4 510.3,516.9 512.7,518.8 514.1,519.7 515.1,520.3 517.5,521.1 519.9,521.6 519.9,521.6 522.4,522.5 524.8,524.3 525.8,525.2 527.2,526.6 529.6,529 531.6,530.4 532.1,530.6 534.5,531.5 536.9,532.2 537.4,532.4 539.3,533.2 540.6,533.8 541.7,534.5 543.3,535.5 544.2,536 546.6,537.1 549,538 549.1,538.1 551.4,539.1 553.9,540.7 554.9,541.7 556.3,543 558.7,545.5 560.8,547.1 561.1,547.3 563.6,548.4 566,549 566.6,549.2 568.4,549.9 570.8,551.5 572.5,552.9 573.2,553.6 575.7,555.4 578.1,556.5 578.3,556.6 580.5,557 582.9,557.3 584.1,557.7 585.4,558.1 587.8,559.4 590,560.8 590.2,560.9 592.6,562.1 595,563.1 595.8,563.4 597.5,564.3 599.9,566 601.6,567.6 602.3,568.3 604.7,570.5 607.2,572 607.5,572.2 609.6,572.7 611,573 612,573.1 613.3,573.4 614.4,573.9 616.9,575.5 619.2,577.6 619.3,577.7 621.7,579.9 624.1,581.5 625,582 626.5,582.8 629,584 630.8,585.3 631.4,585.8 633.8,587.9 636.2,590.1 636.7,590.4 638.7,591.7 641.1,593 642.5,593.7 643.5,594.2 645.9,595.9 648.4,598 650.8,599.8 653.2,600.9 654.2,601.1 655.6,601.3 658,601.5 660,602.1 660.5,602.3 662.9,604 665.3,606.4 665.9,606.9 667.7,608.6 670.2,610.4 671.7,611.2 672.6,611.7 675,612.9 677.4,614.6 677.5,614.7 679.8,616.5 681.5,617.8 682.3,618.3 683.4,618.9 684.7,619.5 687.1,620.4 689.2,621.3 689.5,621.5 692,623.1 694.4,625.2 695.1,625.8 696.8,627.2 699.2,628.7 700.9,629.2 701.7,629.4 704.1,630.1 706.5,631.3 706.7,631.4 707,631.6 708.9,633.3 711.3,635.7 712.6,636.8 713.8,637.7 716.2,639 718.4,639.7 718.6,639.8 721,640.4 723.5,641.3 724.2,641.7 725.9,642.6 728.3,643.6 730.1,644.2 730.7,644.3 733.1,644.9 735.6,645.8 735.9,646 738,647.4 740.4,649.6 741.8,650.9 742.8,651.7 745.3,653.1 747.6,653.8 747.7,653.8 750.1,654.3 752.5,655.3 753.4,655.9 755,657 757.4,658.9 759.3,660.1 759.8,660.4 762.2,661.2 764.6,661.5 765.1,661.6 767.1,662 769.5,662.9 770.9,663.6 771.9,664.2 774.3,665.4 775.3,665.8 776.8,666.3 776.8,666.3 779.2,667.1 781.6,668.3 782.6,669 784,670.1 786.4,672.3 788.5,673.9 788.9,674.2 791.3,675.3 793.7,675.6 794.3,675.6 796.1,675.8 798.6,676.6 800.1,677.6 801,678.2 803.4,680.1 805.8,681.8 806,681.9 808.3,683 810.7,683.9 811.8,684.4 813.1,685.1 815.5,686.8 817.7,688.5 817.9,688.7 820.4,690.4 822.8,691.6 823.5,691.8 825.2,692.4 827.6,693.5 829.3,694.6 830.1,695.1 832.5,696.9 834.9,698.2 835.2,698.3 837.3,698.7 839.7,698.5 841,698.4 842.2,698.3 844.6,698.9 846.8,700.3 847,700.4 849.4,702.2 851.9,703.8 852.7,704.2 854.3,704.8 856.7,705.6 858.5,706.3 859.1,706.5 861.6,707.8 864,709.3 864.4,709.5 865.7,710.1 866.4,710.3 868.8,710.8 870.2,710.9 871.2,711.1 873.7,711.7 876,713 876.1,713 878.5,714.6 880.9,716 881.9,716.3 883.4,716.6 885.8,716.7 887.7,716.9 888.2,717 890.6,718 891.6,718.6 893,719.8 893.5,720.2 895.5,721.7 897.9,723.2 899.4,723.7 900.3,723.9 902.7,724.2 905.2,724.7 905.2,724.7 907.6,725.4 910,726.3 911.1,726.6 912.4,726.8 914.9,726.9 916.9,727 917.3,727.1 919.7,727.8 922.1,729.3 922.7,729.8 924.5,731.3 927,732.8 928.6,733.5 929.4,733.7 931.8,733.9 934.2,734.3 934.4,734.4 936.7,735.3 939.1,736.8 940.2,737.7 941.5,738.4 943.9,739.5 946.1,739.9 946.3,739.9 948.8,740 951.2,740.4 951.9,740.6 953.6,741.2 956,742.2 956.3,742.2 957.8,742.7 958.5,742.8 960.9,743.1 963.3,743.5 963.6,743.6 965.7,744.3 968.2,745.8 969.4,746.7 970.6,747.4 973,748.5 975.3,748.6 975.4,748.6 977.8,748.1 980.3,747.6 981.1,747.6 982.7,747.9 985.1,748.8 987,749.6 987.5,749.8 990,750.5 992.4,750.7 992.8,750.7 994.8,750.9 997.2,751.5 998.6,752.1 999.6,752.6 1002.1,753.8 1004.5,754.6 1004.5,754.6 1006.9,754.9 1009.3,755.2 1010.3,755.4 1011.8,756 1014.2,757.2 1016.1,758.3 1016.6,758.5 1019,759.2 1021.5,759.1 1022,758.9 1023.9,758.5 1026.3,758.2 1027.8,758.4 1028.7,758.8 1031.1,760.2 1033.6,761.9 1033.7,761.9 1036,763.3 1038.4,764.3 1039.5,764.7 1040.8,765.4 1043.3,766.8 1045.3,768.3 1045.7,768.5 1048.1,770.2 1050.5,771.4 1051.2,771.7 1052.9,772.1 1055.4,772.9 1057,773.7 1057.8,774.1 1060.2,776 1062.6,778 1062.8,778.1 1064.9,779.3 1065.1,779.4 1067.5,780 1068.7,780.1 1069.9,780.2 1072.3,780.8 1074.5,782 1074.8,782.2 1077.2,784.1 1079.6,785.9 1080.4,786.4 1082,787.1 1084.4,787.7 1086.2,787.9 1086.9,788 1089.3,788.5 1091.7,789.2 1092,789.3 1094.1,789.8 1096.6,789.9 1097.9,789.8 1099,789.6 1101.2,789.6 1101.4,789.6 1103.7,790.3 1103.8,790.4 1106.2,791.9 1108.7,793.5 1109.5,794 1111.1,794.6 1113.5,795 1115.4,795 1115.9,795 1118.4,795.4 1120.8,796.4 1121.2,796.7 1123.2,797.9 1125.6,799.2 1127.1,799.7 1128.1,799.9 1130.5,800.1 1132.9,800.3" stroke="#8000ff"/>
<polyline points="163.8,357.9 169.7,362.7 175.6,367.5 181.4,372.3 187.3,377.1 193.2,381.9 199.1,386.7 205,391.5 210.8,396.3 216.7,401 222.6,405.8 228.5,410.6 234.3,415.3 240.2,420.1 246.1,424.8 252,429.6 257.9,434.3 263.7,439 269.6,443.8 275.5,448.5 281.4,453.2 287.3,457.9 293.1,462.6 299,467.3 304.9,472 310.8,476.7 316.6,481.4 322.5,486.1 328.4,490.8 334.3,495.5 340.2,500.2 346,504.8 351.9,509.5 357.8,514.2 363.7,518.8 369.6,523.5 375.4,528.2 381.3,532.8 387.2,537.5 393.1,542.1 399,546.8 404.8,551.4 410.7,556.1 411.4,556.6 416.6,560.7 422.5,565.3 428.3,569.9 434.2,574.4 440.1,579 446,583.6 451.9,588.1 457.7,592.7 463.6,597.4 469.5,602 470,602.4 475.4,606.7 481.3,611.5 487.1,616.2 493,621 498.9,625.8 504.8,630.6 510.7,635.5 516.5,640.3 522.4,645.2 528.3,650 534.2,654.8 540,659.7 545.9,664.5 551.8,669.3 557.7,674 560.2,676 563.6,678.8 569.4,683.5 575.3,688.3 581.2,693 587.1,697.8 593,702.5 598.8,707.1 604.7,711.7 610.6,716.3 611,716.6 616.5,720.7 622.3,725.2 628.2,729.5 634.1,733.8 640,738.1 645.9,742.3 651.7,746.5 657.6,746.5 663.5,746.6 669.3,746.6 675.2,746.7 681.1,746.8 686.9,746.9 692.8,747 698.7,747.2 704.6,747.4 710.4,747.6 716.3,747.8 722.2,748 728,748.3 733.9,748.5 739.8,748.8 745.6,749.1 751.5,749.4 757.4,749.7 763.2,750 769.1,750.4 775,750.7 780.8,751.1 786.7,751.5 792.6,751.9 798.4,752.3 804.3,752.7 810.2,753.1 816,753.5 821.9,753.9 827.8,754.4 833.6,754.8 839.5,755.2 845.4,755.7 851.2,756.1 857.1,756.6 863,757.1 865.7,757.3 868.8,757.5 874.7,758.1 880.6,758.8 886.5,759.5 892.3,760.2 898.2,761.1 904.1,761.9 909.9,762.7 915.8,763.6 920.1,764.2 921.7,764.4 927.5,765.2 933.4,766 939.3,766.9 945.1,767.8 951,768.7 956.3,769.6 956.9,769.7 962.7,770.8 968.6,771.9 974.5,773.1 980.3,774.3 986.2,775.5 992.1,776.7 997.9,778 1003.8,779.2 1009.7,780.3 1010.3,780.5 1015.5,781.5 1021.4,782.6 1027.3,783.7 1033.1,784.8 1039,785.9 1044.9,787 1050.8,788.1 1056.6,789.2 1062.5,790.2 1068.4,791.3 1074.2,792.4 1080.1,793.4 1086,794.5 1091.8,795.5 1097.7,796.5 1103.6,797.6 1109.4,798.6 1115.3,799.6 1121.2,800.6 1127,801.6 1132.9,802.5" stroke="#ffff00"/>
<polyline points="163.8,309.4 169.6,313.6 175.5,317.8 181.3,322.1 187.2,326.3 193,330.6 198.8,334.9 204.7,339.2 210.5,343.5 216.3,347.8 222.2,352.2 228,356.6 233.9,361 239.7,365.4 245.5,369.8 251.4,374.3 257.2,378.7 263,383.2 268.9,387.7 274.7,392.2 280.6,396.7 286.4,401.3 292.2,405.8 298.1,410.4 303.9,414.9 309.7,419.5 315.6,424.1 321.4,428.7 327.3,433.4 333.1,438 338.9,442.6 344.8,447.3 350.6,452 356.5,456.7 362.3,461.4 368.1,466.1 374,470.8 379.2,475 379.8,475.5 385.6,480.2 391.5,485.1 397.3,489.9 403.2,494.9 409,499.8 414.8,504.8 420.7,509.8 426.5,514.8 432.3,519.8 438.2,524.8 444,529.8 449.9,534.7 455.7,539.7 461.5,544.5 467.4,549.4 470,551.6 473.2,554.2 479,559 484.9,563.8 490.7,568.7 496.6,573.5 502.4,578.4 508.2,583.2 514.1,588.1 519.9,592.9 525.8,597.6 531.6,602.3 537.4,607 543.3,611.5 549.1,616 554.9,620.4 560.8,624.8 566.6,629 571.8,632.6 572.5,633.1 578.3,637.1 584.1,641.1 590,645.1 595.8,649.1 601.6,653 607.5,656.9 613.3,660.8 619.2,664.6 625,668.4 630.8,672.1 636.7,675.8 642.5,679.4 648.4,683 654.2,686.5 660,690 665.9,693.4 671.7,696.7 677.5,700 683.4,703.2 689.2,706.3 695.1,709.3 700.9,712.3 706.7,715.2 709.6,716.6 712.6,718 718.4,720.7 724.2,723.4 730.1,726 735.9,728.5 741.8,731 747.6,733.3 753.4,735.7 759.3,737.9 765.1,740.1 770.9,742.1 775.3,743.7 776.8,744.2 782.6,746 788.5,747.6 794.3,749.3 800,751.2 800.1,751.2 806,753.6 811.8,756.4 817.7,759.2 823.5,761.9 829.3,764.1 829.6,764.2 835.2,766 841,767.8 846.8,769.5 852.7,771.1 858.5,772.7 864.4,774.1 870.2,775.5 876,776.7 881.9,777.9 887.7,778.9 891.6,779.5 893.5,779.8 899.4,780.7 905.2,781.5 911.1,782.2 916.9,782.9 922.7,783.5 928.6,784.2 934.4,784.7 940.2,785.3 946.1,785.9 951.9,786.5 956,786.9 957.8,787.1 963.6,787.7 969.4,788.3 975.3,788.8 981.1,789.4 987,790 992.8,790.5 998.6,791.1 1004.5,791.6 1010.3,792.2 1016.1,792.7 1022,793.2 1027.8,793.7 1033.7,794.2 1039.5,794.6 1045.3,795.1 1046.7,795.2 1051.2,795.5 1057,795.9 1062.8,796.4 1068.7,796.8 1074.5,797.2 1080.4,797.6 1086.2,798 1092,798.3 1097.9,798.7 1103.7,799.1 1109.5,799.4 1115.4,799.8 1121.2,800.1 1127.1,800.4 1132.9,800.7" stroke="#ff00ff"/>
<polyline points="163.8,328.9 166.2,330.7 168.6,332.6 171.1,334.5 173.5,336.4 175.9,338.5 178.3,340.6 180.8,342.7 183.2,344.7 185.6,346.4 188,348 190.5,349.6 192.9,351.6 195.3,353.7 197.7,356 200.1,358.2 202.6,360.2 205,362 207.4,363.7 209.8,365.6 212.3,367.5 214.7,369.5 217.1,371.4 219.5,373.1 221.9,374.8 224.4,376.6 226.8,378.6 229.2,380.7 231.6,382.8 234.1,384.7 236.5,386.4 238.9,387.9 241.3,389.5 243.8,391.3 246.2,393.4 248.6,395.6 251,397.7 253.4,399.7 255.9,401.7 258.3,403.7 260.7,405.8 263.1,408 265.6,410 268,411.8 270.4,413.4 272.8,415 275.2,416.6 277.7,418.6 280.1,420.8 282.5,423 284.9,425.1 287.4,426.9 289.8,428.7 292.2,430.4 294.6,432.4 297.1,434.4 299.5,436.4 301.9,438.2 304.3,440 306.7,441.8 309.2,443.7 311.6,445.9 314,448.1 316.4,450.2 318.9,452.1 321.3,453.7 323.7,455.2 326.1,456.9 328.5,458.8 331,460.8 333.4,462.9 335.8,465 338.2,466.9 340.7,468.8 343.1,470.7 345.5,472.8 347.9,474.9 350.4,475.7 352.8,476.3 353.9,476.5 355.2,476.7 357.6,477.2 359.9,477.8 360,477.9 362.5,478.9 364.9,480 365.8,480.5 367.3,481.2 369.7,482.2 371.8,482.9 372.2,483 374.6,483.8 377,484.7 377.7,485 379.2,485.6 379.4,485.7 381.8,486.8 383.7,487.6 384.3,487.8 386.7,488.7 389.1,489.5 389.7,489.7 391.5,490.4 394,491.4 395.6,492.2 396.4,492.6 398.8,493.9 401.2,494.9 401.6,495.1 403.7,495.7 406.1,496.3 407.5,496.6 408.5,496.9 410.9,497.6 413.3,498.6 413.5,498.7 415.8,499.8 418.2,500.9 419.5,501.5 420.6,501.9 423,502.9 425.4,504 425.5,504 427.9,505.1 430.3,506.4 431.4,506.9 432.7,507.6 435.1,508.6 437.4,509.3 437.6,509.4 440,510 442.4,510.8 443.3,511.1 444.8,511.8 447.3,513.1 449.3,514.2 449.7,514.5 452.1,515.7 454.5,516.8 455.2,517 457,517.6 459.4,518.5 461.2,519.3 461.8,519.5 464.2,520.6 466.6,521.6 467.2,521.8 469.1,522.5 470,522.9 471.5,523.3 473.1,523.8 473.9,524 476.3,524.9 478.8,526 479.1,526.1 481.2,527.1 483.6,528.3 485,528.8 486,529.2 488.4,529.8 490.9,530.3 491,530.3 493.3,530.8 495.7,531.6 497,532.1 498.1,532.6 500.6,533.7 502.9,534.7 503,534.7 505.4,535.6 507.8,536.5 508.9,536.9 510.3,537.4 512.7,538.5 514.9,539.5 515.1,539.6 517.5,540.6 519.9,541.3 520.8,541.5 522.4,541.8 524.8,542.2 526.8,542.7 527.2,542.9 529.6,543.7 532.1,544.8 532.7,545.1 534.5,546.7 536.9,548.9 539.3,550.8 541.7,552.7 544.2,554.7 546.6,556.7 549,558.9 551.4,561 553.9,563 556.3,564.9 558.7,566.8 561.1,569 563.6,571.3 566,573.7 568.4,576 570.8,578 573.2,579.7 575.7,581.4 578.1,583.2 580.5,585.3 582.9,587.4 585.4,589.6 587.8,591.7 590.2,593.7 592.6,595.7 595,597.8 597.5,600.1 599.9,602.3 602.3,604.3 604.7,606 607.2,607.6 609.6,609.2 611,610.3 612,610.7 614.4,611.9 616.9,613.2 617.2,613.4 619.3,614.5 621.7,615.6 623.3,616.3 624.1,616.6 626.5,617.5 629,618.5 629.5,618.7 631.4,619.7 633.8,620.8 635.6,621.6 636.2,621.9 638.7,622.7 641.1,623.6 641.7,623.8 643.5,624.5 645.9,625.6 647.9,626.6 648.4,626.8 650.8,628.1 653.2,629.1 654,629.4 655.6,629.8 658,630.3 660.1,630.7 660.5,630.7 662.9,631.4 665.3,632.2 665.8,632.4 666.3,632.6 667.7,633.1 670.2,634 672.4,634.7 672.6,634.8 675,635.4 677.4,636.2 678.6,636.6 679.8,637.1 682.3,638.1 684.7,639 687.1,640.8 689.5,642.4 690.5,643 692,643.9 694.4,645.6 696.3,647.1 696.8,647.5 699.2,649.5 701.7,651.7 702.2,652.2 704.1,653.8 706.5,655.6 708,656.7 708.9,657.3 711.3,659.1 713.8,661 713.8,661 716.2,662.9 718.6,664.8 719.6,665.5 721,666.5 723.5,668.1 725.4,669.3 725.9,669.6 728.3,671.4 730.7,673.3 731.3,673.8 733.1,675.3 735.6,677.3 737.1,678.4 738,679 740.4,680.4 742.8,681.7 742.9,681.7 745.3,683 747.7,684.6 748.7,685.3 750.1,686.3 752.5,688.1 754.5,689.5 755,689.8 757.4,691.4 759.8,693 760.4,693.4 762.2,694.7 764.6,696.5 766.2,697.7 767.1,698.3 769.5,699.9 771.9,701.3 772,701.3 774.3,702.4 775.3,702.8 776.8,703.4 777.8,703.9 779.2,704.6 781.6,706.1 783.6,707.4 784,707.7 786.4,709.2 788.9,710.7 789.5,711 791.3,711.9 793.7,713.1 795.3,713.9 796.1,714.3 798.6,715.7 801,717.1 801.1,717.2 803.4,718.5 805.8,719.7 806.9,720.2 808.3,720.8 810.7,722 812.8,723.1 813.1,723.4 815.5,725 817.9,726.6 818.6,727 820.4,728.1 822.8,729.4 824.4,730 825.2,730.4 827.6,731.3 830.1,732.3 830.2,732.4 832.5,733.6 834.9,735 836,735.6 837.3,736.3 839.7,737.5 841.9,738.6 842.2,738.7 844.6,739.9 847,741.2 847.7,741.6 849.4,742.7 851.9,744 853.5,744.8 854.3,745.2 856.7,746 859.1,746.7 859.3,746.7 861.6,747.4 864,748.3 865.1,748.9 865.7,749.2 866.4,749.5 868.8,750.8 871,751.9 871.2,752 873.7,753.1 876.1,754 876.8,754.3 878.5,754.9 880.9,755.9 882.6,756.7 883.4,757.1 885.8,758.2 888.2,759.2 888.4,759.2 890.6,760 891.6,760.3 893,760.7 894.2,761.2 895.5,761.7 897.9,762.8 900.1,764 900.3,764.1 902.7,765.4 905.2,766.5 905.9,766.7 907.6,767.2 910,767.8 911.7,768.2 912.4,768.4 914.9,769.2 917.3,770.1 917.5,770.2 919.7,771.1 922.1,772 923.3,772.4 924.5,772.8 927,773.6 929.2,774.4 929.4,774.5 931.8,775.5 934.2,776.7 935,777 936.7,777.6 939.1,778.3 940.8,778.6 941.5,778.7 943.9,779 946.3,779.5 946.6,779.5 948.8,780.1 951.2,780.9 952.5,781.4 953.6,781.8 956,782.5 956.3,782.5 958.3,782.9 958.5,783 960.9,783.4 963.3,783.8 964.1,784 965.7,784.4 968.2,785 969.9,785.4 970.6,785.5 973,785.8 975.4,786.1 975.7,786.1 977.8,786.3 980.3,786.8 981.6,787.1 982.7,787.4 985.1,788.2 987.4,788.8 987.5,788.8 990,789.2 992.4,789.4 993.2,789.4 994.8,789.4 997.2,789.5 999,789.8 999.6,789.9 1002.1,790.3 1004.5,790.8 1004.8,790.9 1006.9,791.2 1009.3,791.6 1010.7,791.8 1011.8,792 1014.2,792.6 1016.5,793.3 1016.6,793.3 1019,794 1021.5,794.5 1022.3,794.7 1023.9,794.8 1026.3,794.8 1028.1,794.7 1028.7,794.7 1031.1,794.9 1033.6,795.2 1033.9,795.3 1036,795.7 1038.4,796.2 1039.8,796.4 1040.8,796.5 1043.3,796.6 1045.6,796.7 1045.7,796.7 1046.7,796.7 1048.1,796.9 1050.5,797.2 1051.4,797.3 1052.9,797.5 1055.4,797.7 1057.2,797.7 1057.8,797.7 1060.2,797.7 1062.6,797.8 1063,797.8 1065.1,798.1 1067.5,798.7 1068.9,799 1069.9,799.3 1072.3,799.7 1074.7,799.9 1074.8,799.9 1077.2,799.9 1079.6,799.8 1080.5,799.8 1082,799.9 1084.4,800.1 1086.3,800.4 1086.9,800.5 1089.3,800.8 1091.7,801 1092.2,801.1 1094.1,801.2 1096.6,801.5 1098,801.8 1099,802 1101.4,802.5 1103.8,803 1103.8,803 1106.2,803.2 1108.7,803.2 1109.6,803.1 1111.1,802.9 1113.5,802.8 1115.4,802.8 1115.9,802.8 1118.4,803.1 1120.8,803.4 1121.3,803.5 1123.2,803.6 1125.6,803.7 1127.1,803.7 1128.1,803.7 1130.5,803.7 1132.9,803.9" stroke="#00ffff"/>
<polyline points="163.8,306.3 371.2,463.1 377,465.5 382.9,467.8 388.7,470.2 394.6,472.6 400.4,474.9 406.2,477.2 412.1,479.5 417.9,481.8 423.8,484.1 429.6,486.4 435.4,488.6 441.3,490.9 447.1,493.1 453,495.3 458.8,497.5 464.6,499.7 470.5,501.8 473.9,503.1 476.3,504 482.2,506.1 488,508.2 493.9,510.3 499.7,512.4 505.5,514.5 511.4,516.5 517.2,518.6 523.1,520.6 528.9,522.6 534.7,524.6 540.6,526.5 546.5,531.4 552.3,536.2 558.2,540.9 564,545.4 569.9,549.8 575.8,554.1 581.6,558.3 587.5,562.3 593.4,566.3 599.2,570.1 605.1,573.9 611,577.5 616.8,581.1 622.7,584.5 626.7,586.8 628.6,587.8 634.4,590.9 640.3,593.7 646.1,596.4 652,599.2 657.9,602.3 658,602.4 663.7,605.8 669.6,609.4 675.5,613.2 681.3,617.1 687.2,621.2 693.1,625.4 698.9,629.7 704.8,634.1 710.7,638.5 716.5,642.9 722.4,647.4 728.2,651.8 734.1,656.2 740,660.6 745.8,664.9 751.7,669.1 757.6,673.1 763.4,677.1 769.3,680.8 775.2,684.4 775.3,684.5 781,687.9 786.9,691.3 792.8,694.7 798.6,698 804.5,701.3 810.4,704.5 816.2,707.7 822.1,710.8 827.9,713.8 833.8,716.8 839.7,719.7 845.5,722.5 851.4,725.3 857.3,727.9 863.1,730.5 865.7,731.6 869,733 874.9,735.5 880.7,737.9 886.6,740.2 892.5,742.6 898.3,744.9 904.2,747.1 910,749.3 915.9,751.4 921.8,753.5 927.6,755.4 933.5,757.4 939.4,759.2 945.2,761 951.1,762.7 956.3,764.2 957,764.4 962.8,765.9 968.7,767.5 974.6,769 980.4,770.5 986.3,771.9 992.2,773.3 998,774.6 1003.9,775.9 1009.7,777.2 1015.6,778.4 1021.5,779.6 1027.3,780.7 1033.2,781.8 1039.1,782.8 1044.9,783.8 1046.7,784 1050.8,784.7 1056.7,785.6 1062.5,786.5 1068.4,787.4 1074.3,788.2 1080.1,789.1 1086,789.8 1091.8,790.6 1097.7,791.3 1103.6,792 1109.4,792.7 1115.3,793.3 1121.2,793.9 1127,794.4 1132.9,794.9" stroke="#ff9900"/>
<polyline points="163.8,306.3 169.6,310.7 175.5,315.1 181.3,319.6 187.2,324 193,328.5 198.8,332.9 204.7,337.3 210.5,341.8 216.3,346.2 222.2,350.7 228,355.1 233.9,359.6 239.7,364.1 245.5,368.5 251.4,373 257.2,377.5 263,381.9 268.9,386.4 274.7,390.9 280.6,395.4 286.4,399.9 292.2,404.3 298.1,408.8 303.9,413.3 309.7,417.8 315.6,422.3 321.4,426.8 327.3,431.3 333.1,435.8 338.9,440.3 344.8,444.8 350.6,449.3 356.5,453.8 362.3,458.3 368.1,462.8 374,467.4 379.2,471.4 379.8,471.9 385.6,476.4 391.5,480.9 397.3,485.4 403.2,489.9 409,494.4 414.8,498.9 420.7,503.4 426.5,507.9 432.3,512.4 438.2,516.9 444,521.5 449.9,526.1 455.7,530.7 461.5,535.4 467.4,540 470,542.2 473.2,544.8 479,549.6 484.9,554.4 490.7,559.4 496.6,564.3 502.4,569.3 508.2,574.4 514.1,579.5 519.9,584.5 525.8,589.6 531.6,594.6 537.4,599.6 543.3,604.6 549.1,609.6 554.9,614.4 560.8,619.2 566.6,624 572.5,628.6 577.6,632.6 578.3,633.1 584.1,637.7 590,642.2 595.8,646.7 601.6,651.2 607.5,655.8 613.3,660.3 619.2,664.7 625,669.2 630.8,673.5 636.7,677.9 642.5,682.1 648.4,686.3 654.2,690.4 660,694.4 665.9,698.3 671.7,702.1 677.5,705.8 683.4,709.4 689.2,712.8 695.1,716.1 696,716.6 700.9,719.2 706.7,722.3 712.6,725.3 718.4,728.1 724.2,730.9 730.1,733.7 735.9,736.3 741.8,738.9 747.6,741.4 753.4,743.8 759.3,746.2 765.1,748.5 770.9,750.8 775.3,752.4 776.8,752.9 782.6,754.9 788.5,756.7 794.3,758.6 800,760.6 800.1,760.6 806,763 811.8,765.6 817.7,768.3 823.5,770.9 829.3,773 829.6,773.1 835.2,774.9 841,776.7 846.8,778.5 852.7,780.2 858.5,781.9 864.4,783.4 870.2,784.8 876,786.1 881.9,787.2 887.7,788.1 891.6,788.6 893.5,788.9 899.4,789.6 905.2,790.2 911.1,790.7 916.9,791.2 922.7,791.7 928.6,792.1 934.4,792.5 940.2,792.9 946.1,793.3 951.9,793.7 956.3,794.1 957.8,794.2 963.6,794.6 969.4,795.1 975.3,795.5 981.1,795.9 987,796.4 992.8,796.8 998.6,797.2 1004.5,797.6 1010.3,798 1016.1,798.4 1022,798.8 1027.8,799.2 1033.7,799.6 1039.5,800 1045.3,800.3 1046.7,800.4 1051.2,800.7 1057,801.1 1062.8,801.4 1068.7,801.8 1074.5,802.1 1080.4,802.5 1086.2,802.8 1092,803.1 1097.9,803.5 1103.7,803.8 1109.5,804.1 1115.4,804.4 1121.2,804.7 1127.1,805 1132.9,805.3" stroke="#8099ff"/>
<polyline points="163.8,306.3 379.2,471.4 379.9,485.5 418.4,514.5 424.3,516.8 430.2,519 436.1,521.3 442,523.6 447.9,525.8 453.7,528.1 459.6,530.4 465.5,532.6 470,534.4 471.4,534.9 477.3,537.2 483.2,539.4 489.1,541.7 495,543.9 500.9,546.2 506.8,548.4 512.7,550.7 518.6,553 524.5,555.2 530.4,557.5 536.3,559.7 542.1,562 548,564.2 553.9,566.5 559.8,568.7 565.7,571 571.6,573.2 577.5,575.5 583.4,577.7 589.3,580 595.2,582.2 601.1,584.5 607,586.7 612.9,588.9 618.8,591.2 624.7,593.4 630.6,595.7 636.4,597.9 642.3,600.1 648.2,603.8 654,607.4 659.9,611 665.7,614.6 671.5,618.2 677.4,621.8 683.2,625.4 689.1,628.9 694.9,632.4 695.2,632.6 700.7,636 706.6,639.5 712.4,643 718.3,646.6 724.1,650.1 729.9,653.7 735.8,657.2 741.6,660.7 747.5,664.1 753.3,667.5 759.1,670.9 765,674.2 770.8,677.5 775.3,680 776.7,680.7 782.5,683.9 788.3,687.1 794.2,690.2 800,693.4 805.9,696.5 811.7,699.5 817.5,702.6 823.4,705.6 829.2,708.5 835.1,711.5 840.9,714.3 846.7,717.2 852.6,720 858.4,722.8 864.3,725.5 865.7,726.2 870.1,728.2 875.9,730.9 881.8,733.5 887.6,736.2 893.5,738.8 899.3,741.4 905.1,744 911,746.5 916.8,749 922.7,751.4 928.5,753.8 934.3,756.1 940.2,758.3 946,760.5 951.9,762.6 956.3,764.2 957.7,764.7 963.5,766.7 969.4,768.7 975.2,770.6 981.1,772.5 986.9,774.3 992.7,776 998.6,777.6 1004.4,779.1 1010.3,780.4 1010.6,780.5 1016.1,781.6 1021.9,782.8 1027.8,784 1033.6,785.2 1039.5,786.3 1045.3,787.5 1051.1,788.6 1057,789.6 1062.8,790.6 1068.7,791.6 1074.5,792.6 1080.3,793.5 1086.2,794.3 1092,795.1 1097.9,795.9 1103.7,796.5 1109.5,797.1 1115.4,797.7 1121.2,798.2 1127.1,798.5 1132.9,798.9" stroke="#999999"/>
<polyline points="163.8,347 169.7,351.6 175.5,356.3 181.4,360.9 187.2,365.6 193.1,370.2 198.9,374.9 204.8,379.5 210.6,384.2 216.5,388.9 222.3,393.5 228.2,398.2 234,402.8 239.9,407.5 245.7,412.1 251.6,416.8 257.4,421.5 263.3,426.1 269.1,430.8 275,435.4 280.9,440.1 286.7,444.7 292.6,449.4 298.4,454.1 304.3,458.7 310.1,463.4 316,468 321.8,472.7 327.7,477.4 333.5,482 339.4,486.7 345.2,491.3 351.1,496 356.9,500.7 362.8,505.3 368.6,510 374.5,514.6 380.4,519.3 386.2,524 392.1,528.6 397.9,533.3 403.8,538 409.6,542.6 415.5,547.3 421.3,551.9 427.2,556.6 427.2,556.6 433,561.3 438.9,565.9 444.7,570.6 450.6,575.2 456.4,579.9 462.3,584.5 468.1,589.2 470,590.8 474,593.9 479.8,598.7 485.7,603.5 491.6,608.2 497.4,613 503.3,617.8 509.1,622.6 515,627.5 520.8,632.3 526.7,637.1 532.5,641.9 538.4,646.6 544.2,651.4 550.1,656.2 555.9,660.9 560.2,664.3 561.8,665.6 567.6,670.3 573.5,675 579.3,679.7 585.2,684.4 591,689.1 596.9,693.7 602.8,698.3 608.6,702.9 614.5,707.4 620.3,711.9 626.2,716.2 626.7,716.6 632,720.5 637.9,724.8 643.7,729 649.6,733.2 655.4,737.3 661.3,741.3 667.1,745.3 673,749.3 678.8,753.2 684.7,757.1 690.5,757.5 696.3,758 702.2,758.4 708,758.8 713.8,759.3 719.6,759.7 725.4,760.1 731.3,760.5 737.1,760.9 742.9,761.3 748.7,761.6 754.5,762 760.4,762.4 766.2,762.7 772,763.1 775.3,763.3 777.8,763.4 783.6,763.7 789.5,764 795.3,764.3 801.1,764.6 806.9,764.9 812.8,765.1 818.6,765.4 824.4,765.6 830.2,765.9 836,766.2 841.9,766.5 847.7,766.8 853.5,767.1 859.3,767.4 865.1,767.7 865.7,767.8 871,768.1 876.8,768.5 882.6,768.8 888.4,769.2 894.2,769.6 900.1,770.1 905.9,770.5 911.7,770.9 917.5,771.4 923.3,771.9 929.2,772.4 935,772.9 940.8,773.5 946.6,774 952.5,774.6 956.3,775 958.3,775.2 964.1,775.9 969.9,776.7 975.7,777.5 981.6,778.4 987.4,779.4 993.2,780.4 999,781.4 1004.8,782.4 1010.7,783.4 1016.5,784.5 1022.3,785.5 1028.1,786.5 1033.9,787.5 1039.8,788.4 1045.6,789.3 1046.7,789.5 1051.4,790.2 1057.2,791 1063,791.9 1068.9,792.7 1074.7,793.5 1080.5,794.3 1086.3,795.1 1092.2,795.9 1098,796.7 1103.8,797.5 1109.6,798.3 1115.4,799 1121.3,799.8 1127.1,800.5 1132.9,801.3" stroke="#ff0000"/>
<polyline points="163.8,352.5 166.2,354.5 168.6,356.4 171.1,358.1 173.5,359.8 175.9,361.7 178.3,363.7 180.8,365.6 183.2,367.6 185.6,369.5 188,371.4 190.5,373.4 192.9,375.5 195.3,377.7 197.7,379.7 200.1,381.7 202.6,383.4 205,385.2 207.4,387 209.8,388.9 212.3,390.9 214.7,393 217.1,395.1 219.5,397 221.9,398.8 224.4,400.6 226.8,402.5 229.2,404.4 231.6,406.4 234.1,408.4 236.5,410.3 238.9,412.1 241.3,413.9 243.8,415.9 246.2,418 248.6,420.2 251,422.4 253.4,424.4 255.9,426.3 258.3,428.1 260.7,429.8 263.1,431.6 265.6,433.6 268,435.6 270.4,437.6 272.8,439.6 275.2,441.5 277.7,443.4 280.1,445.4 282.5,447.4 284.9,449.5 287.4,451.5 289.8,453.4 292.2,455.1 294.6,456.7 297.1,458.4 299.5,460.3 301.9,462.3 304.3,464.3 306.7,466.3 309.2,468.1 311.6,469.9 314,471.7 316.4,473.6 318.9,475.5 321.3,477.5 323.7,479.5 326.1,481.5 328.5,483.3 331,485.3 333.4,487.3 335.8,489.5 338.2,491.7 340.7,493.9 343.1,496 345.5,497.9 347.9,499.6 350.4,501.4 352.3,502.8 352.8,503 355.2,503.8 357.6,504.7 358.1,504.9 360,505.6 362.5,506.4 363.9,506.9 364.9,507.2 367.3,508 369.7,508.9 369.8,508.9 372.2,509.9 374.6,511 375.6,511.4 377,511.9 379.4,512.8 381.4,513.4 381.8,513.5 384.3,514.2 386.7,514.9 387.2,515.1 389.1,515.8 391.5,516.9 393,517.5 394,517.9 396.4,519 398.8,519.9 398.9,519.9 401.2,520.6 403.7,521.4 404.7,521.7 406.1,522.2 408.5,523.1 410.5,523.9 410.9,524 413.3,524.9 415.8,525.7 416.3,525.9 418.2,526.5 420.6,527.2 422.1,527.8 423,528.1 425.5,529.1 427.9,530.3 428,530.3 430.3,531.4 432.7,532.3 433.8,532.7 435.1,533.1 437.6,533.8 439.6,534.4 440,534.5 442.4,535.3 444.8,536.2 445.4,536.4 447.3,537.1 449.7,538.1 451.2,538.7 452.1,539 454.5,539.9 457,540.8 457.1,540.9 459.4,541.8 461.8,543 462.9,543.5 464.2,544.1 466.6,545.2 468.7,546.1 469.1,546.2 470,546.6 471.5,547 473.9,547.8 474.5,548 476.3,548.7 478.8,549.7 480.3,550.4 481.2,550.8 483.6,551.9 486,552.9 486.2,553 488.4,553.8 490.9,554.6 492,555 493.3,555.4 495.7,556.2 497.8,556.9 498.1,557 500.6,557.9 503,558.8 503.6,559 505.4,559.6 507.8,560.3 509.5,560.8 510.3,561.1 512.7,562 515.1,563.1 515.3,563.2 517.5,564.3 519.9,565.4 521.1,566 522.4,566.5 524.8,567.4 526.9,568.1 527.2,568.2 529.6,569 532.1,569.9 532.7,570.2 534.5,571.6 536.9,573.6 539.3,575.7 541.7,577.6 544.2,579.5 546.6,581.4 549,583.4 551.4,585.5 553.9,587.7 556.3,589.7 558.7,591.7 561.1,593.5 563.6,595.2 566,597.1 568.4,599.1 570.8,601.2 573.2,603.4 575.7,605.5 578.1,607.5 580.5,609.4 582.9,611.2 585.4,613.2 587.8,615.2 590.2,617.2 592.6,619.2 595,621 597.5,622.9 599.9,624.8 602.3,626.8 604.7,628.9 607.2,631.2 609.6,633.4 612,634.4 614.4,635.2 616.9,635.9 619.3,636.5 621.7,637.3 624.1,638.1 626.5,639 629,639.8 631.4,640.5 633.8,641.2 636.2,641.9 638.7,642.7 641.1,643.6 643.5,644.6 645.9,645.5 648.4,646.3 650.8,647 653.2,647.7 655.6,648.5 658,649.4 660.5,650.5 662.9,651.7 665.3,652.8 667.7,653.7 670.2,654.6 672.6,655.4 675,656.3 677.4,657.2 679.8,658.2 682.3,659 684.7,659.8 687.1,661.6 689.5,663.5 690.6,664.3 692,665.5 694.4,667.6 696.5,669.5 696.8,669.8 699.2,672 701.7,674 702.4,674.6 704.1,675.8 706.5,677.6 708.3,678.9 708.9,679.3 711.3,681.1 713.8,683 714.2,683.4 716.2,684.9 718.6,686.8 720.2,688 721,688.6 723.5,690.3 725.9,692 726.1,692.2 728.3,693.8 730.7,695.7 732,696.8 733.1,697.7 735.6,699.5 737.9,701.1 738,701.2 740.4,702.7 742.8,704.2 743.8,704.9 745.3,705.8 747.7,707.5 749.7,709.1 750.1,709.4 752.5,711.3 755,713 755.6,713.5 757.4,714.7 759.8,716.2 761.5,717.3 762.2,717.7 764.6,719.2 767.1,720.8 767.5,721.1 769.5,722.4 771.9,723.9 773.4,724.7 774.3,725.2 775.3,725.8 776.8,726.5 779.2,727.9 779.3,727.9 781.6,729.4 784,731 785.2,731.9 786.4,732.8 788.9,734.5 791.1,736 791.3,736.1 793.7,737.6 796.1,738.9 797,739.4 798.6,740.3 801,741.7 802.9,742.9 803.4,743.2 805.8,744.7 808.3,746.2 808.8,746.5 810.7,747.5 813.1,748.8 814.7,749.6 815.5,750 817.9,751.3 820.4,752.7 820.7,752.9 822.8,754 825.2,755.3 826.6,755.9 827.6,756.4 829.6,757.1 830.1,757.3 832.5,758.2 834.9,759.2 837.3,760.3 838.4,760.9 839.7,761.6 842.2,762.9 844.3,764 844.6,764.2 847,765.3 849.4,766.4 850.2,766.7 851.9,767.4 854.3,768.5 856.1,769.3 856.7,769.6 859.1,770.7 861.6,771.8 862,772 864,772.7 866.4,773.5 867.9,774.1 868.8,774.4 871.2,775.4 873.7,776.6 873.9,776.7 876.1,777.9 878.5,779.1 879.8,779.7 880.9,780.2 883.4,781.1 885.7,781.9 885.8,781.9 888.2,782.7 890.6,783.6 891.6,784 893,784.1 895.5,784.2 897.5,784.3 897.9,784.3 900.3,784.3 902.7,784.3 903.4,784.3 905.2,784.3 907.6,784.4 909.3,784.5 910,784.6 912.4,784.8 914.9,784.9 915.1,784.9 917.3,784.9 919.7,784.8 921,784.8 922.1,784.7 924.5,784.7 926.9,784.9 927,784.9 929.4,785.2 931.8,785.6 932.8,785.7 934.2,785.9 936.7,786.1 938.7,786.2 939.1,786.2 941.5,786.4 943.9,786.5 944.6,786.6 946.3,786.7 948.8,786.9 950.4,787 951.2,787 953.6,787 956,786.8 956.3,786.8 956.3,786.8 958.5,786.8 960.9,786.8 962.2,786.9 963.3,787 965.7,787.3 968.1,787.6 968.2,787.6 970.6,787.9 973,788 974,788 975.4,788 977.8,788.1 979.9,788.2 980.3,788.3 982.7,788.6 985.1,789 985.8,789 987.5,789.3 990,789.6 991.6,789.8 992.4,789.8 994.8,790.2 997.2,790.6 997.5,790.6 999.6,791.1 1002.1,791.6 1003.4,791.8 1004.5,792 1006.9,792.2 1009.3,792.4 1009.3,792.4 1011.8,792.5 1014.2,792.7 1015.2,792.8 1016.6,793 1019,793.5 1021.1,794 1021.5,794.1 1023.9,794.5 1026.3,794.9 1027,794.9 1028.7,795.1 1031.1,795.4 1032.8,795.6 1033.6,795.7 1036,796 1038.4,796.3 1038.7,796.4 1040.8,796.5 1043.3,796.6 1044.6,796.6 1045.7,796.6 1046.7,796.6 1048.1,796.6 1050.5,796.8 1050.5,796.8 1052.9,797.1 1055.4,797.5 1056.4,797.7 1057.8,797.9 1060.2,798.2 1062.3,798.4 1062.6,798.4 1065.1,798.5 1067.5,798.6 1068.2,798.7 1069.9,798.8 1072.3,799.2 1074,799.4 1074.8,799.5 1077.2,799.8 1079.6,800.1 1079.9,800.1 1082,800.2 1084.4,800.5 1085.8,800.6 1086.9,800.7 1089.3,801.1 1091.7,801.5 1091.7,801.5 1094.1,801.7 1096.6,801.8 1097.6,801.8 1099,801.7 1101.4,801.7 1103.5,801.7 1103.8,801.7 1106.2,801.9 1108.7,802.2 1109.4,802.3 1111.1,802.6 1113.5,802.9 1115.2,803.1 1115.9,803.2 1118.4,803.4 1120.8,803.7 1121.1,803.7 1123.2,804 1125.6,804.4 1127,804.6 1128.1,804.7 1130.5,805 1132.9,805.2" stroke="#00ff00"/>
<polyline points="163.8,300 169.6,303.1 175.5,306.2 181.3,309.2 187.2,312.3 193,315.4 198.8,318.5 204.7,321.5 210.5,324.6 216.3,327.7 222.2,330.7 228,333.8 233.9,336.9 239.7,340 245.5,343 251.4,346.1 257.2,349.2 263,352.2 268.9,355.3 274.7,358.4 280.6,361.5 286.4,364.5 292.2,367.6 298.1,370.7 303.9,373.7 309.7,376.8 315.6,379.9 321.4,382.9 327.3,386 333.1,389.1 338.9,392.2 344.8,395.2 350.6,398.3 356.5,401.4 362.3,404.4 368.1,407.5 374,410.6 379.8,413.6 385.6,416.7 391.5,419.8 397.3,422.9 403.2,425.9 409,429 414.8,432.1 420.7,435.1 426.5,438.2 432.3,441.3 438.2,444.3 444,447.4 449.9,450.5 455.7,453.6 461.5,456.6 467.4,459.7 473.2,462.8 479,465.8 484.9,468.9 490.7,472 496.6,475 502.4,478.1 503,478.4 508.2,481.2 514.1,484.3 519.9,487.3 525.8,490.4 531.6,493.4 537.4,496.5 543.3,499.6 549.1,502.6 554.9,505.7 560.8,508.7 566.6,511.8 572.5,514.8 578.3,517.9 584.1,520.9 590,524 595.8,527 601.6,530.1 607.5,533.1 613.3,536.2 619.2,539.3 625,542.3 630.8,545.4 636.7,548.4 642.5,551.5 648.4,554.6 654.2,557.7 660,560.7 665.9,563.8 671.7,566.9 677.5,570 683.4,573 689.2,576.1 695.1,579.2 700.9,582.3 706.7,585.4 712.6,588.5 718.4,591.7 721,593.1 724.2,594.8 730.1,597.9 735.9,601.1 741.8,604.3 747.6,607.5 753.4,610.7 759.3,613.8 765.1,617 770.9,620.1 776.8,623.2 777.6,623.6 782.6,626.2 788.5,629.2 794.3,632.2 800.1,635.2 806,638.2 811.8,641.1 817.7,644 823.5,646.9 829.3,649.7 835.2,652.5 837.3,653.5 841,655.2 846.8,657.9 852.7,660.6 858.5,663.3 864.4,665.9 870.2,668.5 876,671 881.9,673.5 887.7,676 893.5,678.4 895,679 899.4,680.8 905.2,683.1 911.1,685.4 916.9,687.7 922.7,689.9 928.6,692.1 934.4,694.3 940.2,696.4 946.1,698.4 951.9,700.3 953.6,700.9 957.8,702.2 963.6,704 969.4,705.8 975.3,707.5 981.1,709.2 987,710.8 992.8,712.4 998.6,714 1004.5,715.6 1010.3,717.1 1012.6,717.7 1016.1,718.7 1022,720.2 1027.8,721.7 1033.7,723.2 1039.5,724.7 1045.3,726.2 1051.2,727.6 1057,729 1062.8,730.4 1068.7,731.8 1072.3,732.6 1074.5,733.1 1080.4,734.4 1086.2,735.8 1092,737 1097.9,738.3 1103.7,739.6 1109.5,740.8 1115.4,742 1121.2,743.2 1127.1,744.4 1132.9,745.5" stroke="#000000"/>
</g>
<rect x="163.8" y="253.3" width="969.1" height="552" fill="none" stroke="#262626" stroke-width="1.5"/>
<text x="162.3" y="847.3" font-size="29.9" text-anchor="middle" fill="#262626">0</text>
<text x="405" y="847.3" font-size="29.9" text-anchor="middle" fill="#262626">500</text>
<text x="648.7" y="847.3" font-size="29.9" text-anchor="middle" fill="#262626">1000</text>
<text x="891.2" y="847.3" font-size="29.9" text-anchor="middle" fill="#262626">1500</text>
<text x="1133.2" y="847.3" font-size="29.9" text-anchor="middle" fill="#262626">2000</text>
<text x="150.6" y="816.9" font-size="29.9" text-anchor="end" fill="#262626">0</text>
<text x="151.3" y="724.9" font-size="29.9" text-anchor="end" fill="#262626">0.1</text>
<text x="151.3" y="632.9" font-size="29.9" text-anchor="end" fill="#262626">0.2</text>
<text x="151.3" y="540.9" font-size="29.9" text-anchor="end" fill="#262626">0.3</text>
<text x="151.3" y="448.9" font-size="29.9" text-anchor="end" fill="#262626">0.4</text>
<text x="151.3" y="356.9" font-size="29.9" text-anchor="end" fill="#262626">0.5</text>
<text x="151.3" y="264.9" font-size="29.9" text-anchor="end" fill="#262626">0.6</text>
<path d="M406.1,805.3v-9.8M406.1,253.3v9.8M648.4,805.3v-9.8M648.4,253.3v9.8M890.6,805.3v-9.8M890.6,253.3v9.8M163.8,713.3h9.8M1132.9,713.3h-9.8M163.8,621.3h9.8M1132.9,621.3h-9.8M163.8,529.3h9.8M1132.9,529.3h-9.8M163.8,437.3h9.8M1132.9,437.3h-9.8M163.8,345.3h9.8M1132.9,345.3h-9.8" stroke="#303030" stroke-width="1.25" fill="none"/>
 <text x="648" y="890.5" font-size="32.9" text-anchor="middle" fill="#262626">No of Rounds</text>
<text transform="translate(92.9,529.3) rotate(-90)" font-size="32.9" text-anchor="middle" fill="#262626">Residual Energy</text>
<text class="cap" transform="translate(581.36,999.6) scale(0.9100,1)" font-size="86" fill="#000">(</text>
<text class="cap" transform="translate(607.92,999.6) scale(0.9459,1)" font-size="86" font-weight="bold" fill="#000">c</text>
<text class="cap" transform="translate(644.38,999.6) scale(0.9100,1)" font-size="86" fill="#000">)</text>
</g>
<g transform="translate(1272.7,1147.4)">
<rect x="11.9" y="12.3" width="1122.1" height="198.5" fill="#fff" stroke="#262626" stroke-width="1.6"/>
<line x1="21" y1="40.4" x2="110.4" y2="40.4" stroke="#809980" stroke-width="6.3"/>
<text x="117.6" y="53.9" font-size="35.9" fill="#000">CSO</text>
<line x1="21" y1="87.6" x2="110.4" y2="87.6" stroke="#8000ff" stroke-width="6.3"/>
<text x="117.6" y="101.7" font-size="35.9" fill="#000">FF</text>
<line x1="21" y1="135.4" x2="110.4" y2="135.4" stroke="#ffff00" stroke-width="6.3"/>
<text x="117.6" y="149.6" font-size="35.9" fill="#000">SSO</text>
<line x1="21" y1="182.9" x2="110.4" y2="182.9" stroke="#ff00ff" stroke-width="6.3"/>
<text x="117.6" y="197.3" font-size="35.9" fill="#000">PRO</text>
<line x1="283" y1="40.4" x2="372.3" y2="40.4" stroke="#00ffff" stroke-width="6.3"/>
<text x="378.2" y="53.9" font-size="35.9" fill="#000">HGS</text>
<line x1="283" y1="87.6" x2="372.3" y2="87.6" stroke="#ff9900" stroke-width="6.3"/>
<text x="378.2" y="101.7" font-size="35.9" fill="#000">BES</text>
<line x1="283" y1="135.4" x2="372.3" y2="135.4" stroke="#8099ff" stroke-width="6.3"/>
<text x="378.2" y="149.6" font-size="35.9" fill="#000">BWO</text>
<line x1="283" y1="182.9" x2="372.3" y2="182.9" stroke="#999999" stroke-width="6.3"/>
<text x="378.2" y="197.3" font-size="35.9" fill="#000">Fuzzy + HHO</text>
<line x1="683.1" y1="40.4" x2="772.4" y2="40.4" stroke="#ff0000" stroke-width="6.3"/>
<text x="779.4" y="53.9" font-size="35.9" fill="#000">ANFIS + SA-JSO</text>
<line x1="683.1" y1="87.6" x2="772.4" y2="87.6" stroke="#00ff00" stroke-width="6.3"/>
<text x="779.4" y="101.7" font-size="35.9" fill="#000">DOX</text>
<line x1="683.1" y1="135.4" x2="772.4" y2="135.4" stroke="#000000" stroke-width="6.3"/>
<text x="779.4" y="149.6" font-size="35.9" fill="#000">SADO-BM</text>
<clipPath id="clipd"><rect x="159.8" y="253.3" width="977.1" height="556"/></clipPath>
<g clip-path="url(#clipd)" fill="none" stroke-width="6.3" stroke-linejoin="round" stroke-linecap="butt">
<polyline points="163.8,255.1 166.2,257.5 168.6,259.8 169.6,260.6 171.1,261.5 173.5,263.3 175.5,265.4 175.9,265.9 178.3,268.5 180.8,270.3 181.3,270.7 183.2,272.5 185.6,275.8 187.2,277.8 188,278.7 190.5,280.3 192.9,281.9 193,282 195.3,284.6 197.7,287.4 198.8,288.4 200.1,289.5 202.6,291.6 204.7,293.7 205,294 207.3,295.7 207.4,295.8 209.8,297.3 210.5,297.8 212.3,299.5 214.7,302.1 216.3,303.4 217.1,303.9 219.5,305.5 221.9,308.3 222.2,308.6 224.4,311.5 226.8,313.4 228,313.9 229.2,314.5 231.6,316.4 233.9,318.6 234.1,318.8 236.5,320.7 238.9,322.7 239.7,323.6 241.3,325.4 243.8,327.7 245.5,329 246.2,329.4 248.6,331.5 251,333.9 251.4,334.3 253.4,335.6 255.9,336.6 257.2,337.5 258.3,338.6 260.7,342 263,344.8 263.1,344.9 265.6,346.8 268,348.9 268.9,349.9 270.4,351.4 272.8,353.2 274.7,354.2 275.2,354.5 277.7,356.4 280.1,358.4 280.6,358.8 282.5,360.1 284.9,362.1 286.4,363.9 287.4,365.1 289.8,367.6 292.2,368.8 292.2,368.8 294.6,370 297.1,372.5 298.1,373.6 299.5,374.9 301.9,376.6 303.9,378 304.3,378.3 306.7,380.9 309.2,383.2 309.7,383.6 311.6,384.9 314,386.9 315.6,388.3 316.4,389 318.9,390.4 321.3,391.8 321.4,391.9 323.7,394.3 326.1,397.3 327.3,398.3 328.5,399.1 331,400.3 333.1,402.2 333.4,402.5 335.8,405.2 338.2,407 338.9,407.5 340.7,408.6 343.1,411 344.8,412.8 345.5,413.4 347.9,415.3 350.4,417.3 350.6,417.5 352.8,419.4 355.2,420.8 356.5,421.1 357.6,421.5 360,423.2 362.3,425.9 362.5,426.1 364.9,428.2 367.3,429.6 368.1,430.1 369.7,431.5 372.2,434.1 374,435.5 374.6,435.8 377,436.8 379.4,438.1 379.8,438.4 381.8,439.9 384.3,441.4 385.6,442.4 386.7,443.3 389.1,445.9 391.5,448 391.5,448.1 394,449 396.4,450 397.3,450.8 398.8,452.1 401.2,453.9 403.2,454.7 403.7,454.9 406.1,456.1 408.5,458.6 409,459.2 410.9,461.1 413.3,462.8 414.8,463.6 415.8,464.2 418.2,465.8 420.6,466.8 420.7,466.9 423,467.6 425.5,469.3 426.5,470.2 427.9,471.2 430.3,472.2 432.3,472.8 432.7,472.9 435.1,474.7 437.6,476.8 438.2,477.2 440,477.7 442.4,478.2 444,479 444.8,479.6 445.6,480.3 447.3,481.5 449.7,482.8 449.9,482.9 452.1,483.9 454.5,485.3 455.7,485.9 457,486.2 459.4,486.5 461.5,487.3 461.8,487.5 464.2,489.2 466.6,490.3 467.4,490.5 467.4,490.5 469.1,490.9 471.5,492.3 473.2,494 473.9,494.6 476.3,496.1 478.8,496.5 479,496.6 481.2,497.4 483.6,499 484.9,499.8 486,500.4 488.4,501.9 490.7,503.7 490.9,503.9 493.3,505.7 495.7,506.6 496.6,506.8 498.1,507.5 500.6,509.1 502.4,510 503,510.2 505.4,510.3 507.8,511 508.2,511.3 510.3,513.2 512.7,515.5 514.1,516.3 515.1,516.8 517.5,517.9 519.9,519.5 519.9,519.5 522.4,520.6 524.8,521.3 525.8,521.7 527.2,522.5 527.4,522.6 529.6,524 531.6,524.8 532.1,524.9 534.5,525.8 536.9,527.8 537.4,528.3 539.3,529.7 541.7,530.3 543.3,530.3 544.2,530.4 546.6,531.6 549,533.4 549.1,533.5 551.4,534.5 553.9,535.5 554.9,536.1 556.3,537.1 558.7,538.6 560.8,539.4 561.1,539.5 563.6,540.6 566,541.9 566.6,542.2 568.4,542.7 570.8,543 572.5,543.7 573.2,544.2 575.7,546.1 578.1,547.2 578.3,547.2 580.5,547.3 582.9,547.9 584.1,548.7 585.4,549.4 587.8,550.5 590,551.2 590.2,551.3 592.6,552.6 595,554.2 595.8,554.6 597.5,555.3 599.9,556.3 601.6,557.2 602.3,557.6 604.7,558.4 607.2,558.4 607.5,558.4 609.6,558.8 612,560.5 613.3,561.5 614.4,562.1 616.9,562.7 619.2,563.4 619.3,563.5 621.7,564.8 624.1,565.8 625,565.9 626.5,566.1 629,566.6 630.8,567.3 631.4,567.5 633.8,568.3 636.2,569.2 636.7,569.4 638.7,570.7 641.1,572 642.5,572.3 643.5,572.3 645.9,572.2 648.4,573 650.8,573.9 653.2,574.3 654.2,574.3 655.6,574.5 658,575.6 660,576.8 660.5,577 662.9,577.9 665.3,578.6 665.9,578.8 667.7,579.5 670.2,580 671.7,580.2 672.6,580.3 675,581.2 677.4,582.5 677.5,582.6 679.8,583.2 682.3,583.4 683.4,583.6 684.7,584 687.1,585.2 689.2,585.8 689.5,585.8 692,585.9 694.4,586.5 695.1,586.8 696.8,587.6 699.2,588.4 700.9,588.9 701.7,589.1 704.1,590 706.5,590.6 706.7,590.7 708.9,590.8 711.3,591.2 712.6,591.7 713.8,592.2 716.2,593.1 718.4,593.3 718.6,593.4 721,593.8 723.5,594.9 724.2,595.2 725.9,595.7 728.3,595.8 730.1,595.9 730.7,596 733.1,596.7 735.6,597.4 735.9,597.5 738,598.2 740.4,599.3 741.8,599.9 742.8,600.4 745.3,600.9 747.6,601.2 747.7,601.2 750.1,602 752.5,602.7 753.4,602.9 755,602.9 757.4,603.1 759.3,603.7 759.8,604 762.2,605.2 764.6,605.9 765.1,606 767.1,606.4 769.5,607.1 770.9,607.5 771.9,607.7 774.3,608 776.8,608.6 776.8,608.6 779.2,609.5 781.6,610.2 782.6,610.3 784,610.6 786.4,611.5 787.4,612 788.5,612.5 788.9,612.6 791.3,613.2 793.7,613.1 794.3,613.2 796.1,613.6 798.6,614.5 800.1,615 801,615.2 803.4,615.8 805.8,616.6 806,616.7 808.3,617.5 810.7,618.1 811.8,618.3 813.1,618.7 815.5,619.7 817.7,620.5 817.9,620.5 820.4,620.9 822.8,621.5 823.5,621.8 825.2,622.7 827.6,623.7 829.3,623.8 830.1,623.9 832.5,624.1 834.9,624.8 835.2,624.9 837.3,625.5 839.7,626 841,626.4 842.2,626.8 844.6,627.7 846.8,628.3 847,628.4 849.4,628.9 851.9,629.6 852.7,629.9 854.3,630.3 856.7,630.4 858.5,630.4 859.1,630.5 861.6,631.3 864,632.4 864.4,632.6 866.4,633 867.9,633.1 868.8,633.2 870.2,633.5 871.2,633.8 873.7,634.3 876,634.5 876.1,634.5 878.5,634.7 880.9,635.3 881.9,635.6 883.4,635.9 885.8,636.3 887.7,637 888.2,637.3 890.6,638.3 893,638.8 893.5,638.7 895.5,638.6 897.9,638.8 899.4,639.3 900.3,639.5 902.7,639.9 905.2,639.9 905.2,639.9 907.6,640.4 910,641.1 911.1,641.4 912.4,641.6 914.9,641.9 916.9,642.3 917.3,642.3 919.7,642.7 922.1,642.7 922.7,642.7 924.5,643 927,644 928.6,644.5 929.4,644.6 931.8,644.7 934.2,644.8 934.4,644.8 936.7,645.5 939.1,646 940.2,646.1 941.5,646 943.9,646.3 946.1,646.8 946.3,646.9 948.8,647.5 951.2,647.9 951.9,648 953.6,648.5 956,649.1 957.8,649.2 958.5,649.2 960.9,649.4 963.3,650.2 963.6,650.4 965.7,651.2 968.2,651.6 969.4,651.7 970.6,651.8 973,652.5 975.3,653.2 975.4,653.2 977.8,653.3 980.3,653.2 981.1,653.3 982.7,653.6 985.1,654 987,654.3 987.5,654.5 990,655.2 992.4,656.2 992.8,656.3 994.8,656.6 997.2,656.7 998.6,656.8 999.6,657.1 1002.1,657.8 1004.5,658.1 1004.5,658.1 1006.9,658.1 1009.3,658.6 1010.3,659 1011.8,659.6 1014.2,660.3 1016.1,660.6 1016.6,660.6 1019,661.1 1021.5,661.5 1022,661.5 1023.9,661.6 1026.3,662 1027.8,662.5 1028.7,662.9 1031.1,663.7 1033.6,664 1033.7,664 1036,664.6 1038.4,665.7 1039.5,666.1 1040.8,666.4 1043.3,666.4 1045.3,666.5 1045.7,666.6 1048.1,667.3 1049.1,667.6 1050.5,667.9 1051.2,668.1 1052.9,668.3 1055.4,668.9 1057,669.3 1057.8,669.5 1060.2,669.9 1062.6,670.2 1062.8,670.2 1065.1,671 1067.5,671.8 1068.7,672.1 1069.9,672.2 1072.3,672.6 1074.5,673.6 1074.8,673.7 1077.2,674.8 1079.6,675.1 1080.4,675.2 1082,675.3 1084.4,675.9 1085.4,676.3 1086.2,676.5 1086.9,676.7 1089.3,677.3 1091.7,678 1092,678.2 1094.1,679 1096.6,679.7 1097.9,679.9 1099,680.1 1101.4,680.8 1103.7,681.7 1103.8,681.8 1106.2,682.3 1108.7,682.6 1109.5,682.9 1111.1,683.8 1113.5,685.5 1115.4,686.5 1115.9,686.8 1118.4,687.9 1120.8,689.2 1121.2,689.4 1121.6,689.6 1123.2,691.5 1125.6,693.9 1127.1,695.3 1128.1,696.9 1130.5,701.1 1132.9,705.2" stroke="#809980"/>
<polyline points="163.8,255.1 166.2,257.3 168.6,259.8 169.6,260.8 171.1,262.1 173.5,263.9 175.5,265.6 175.9,266.1 178.3,268.2 180.8,269.9 181.3,270.3 183.2,271.6 185.6,274.2 187.2,276.1 188,277.1 190.5,279 192.9,279.9 193,280 195.3,281.7 197.7,284.5 198.8,285.9 200.1,287.3 202.6,289 204.7,290.2 205,290.4 207.3,292 207.4,292.1 209.8,293.7 210.5,294.2 212.3,295.6 214.7,298 216.3,299.9 217.1,300.7 219.5,302.7 221.9,304.4 222.2,304.6 224.4,306.7 226.8,309.5 228,310.6 229.2,311.5 231.6,312.9 233.9,314.8 234.1,315 236.5,317.8 238.9,319.9 239.7,320.3 241.3,320.9 243.8,322.1 245.5,323.7 246.2,324.3 248.6,327 251,329.3 251.4,329.6 253.4,331.4 255.9,333.2 257.2,334.1 258.3,334.7 260.7,336.2 263,338.4 263.1,338.5 265.6,341.2 268,343 268.9,343.5 270.4,344.1 272.8,345.8 274.7,347.8 275.2,348.4 277.7,350.6 280.1,352.2 280.6,352.5 282.5,354 284.9,356.7 286.4,358.2 287.4,359.1 289.8,360.5 292.2,361.6 292.2,361.7 294.6,363.3 297.1,365.3 298.1,366.2 299.5,367.4 301.9,369.7 303.9,371.6 304.3,372 306.7,373.5 309.2,374.7 309.7,375.1 311.6,377 314,380.1 315.6,381.9 316.4,382.5 318.9,383.7 321.3,384.8 321.4,384.9 323.7,386.8 326.1,388.8 327.3,389.5 328.5,390.1 331,391.6 333.1,393.4 333.4,393.7 335.8,395.7 338.2,397.3 338.9,397.7 340.7,398.8 343.1,400.5 344.8,401.7 345.5,402.1 347.9,403.6 350.4,405.6 350.6,405.9 352.8,407.9 355.2,409.3 356.5,409.6 357.6,409.8 360,411.1 362.3,413.6 362.5,413.8 364.9,416.5 367.3,418.1 368.1,418.4 369.7,419.2 372.2,420.8 374,422.2 374.6,422.7 377,424.1 379.4,425.5 379.8,425.8 381.8,427.2 384.3,428.7 385.6,429.3 386.7,429.8 389.1,431.2 391.5,432.9 391.5,433 394,434.5 396.4,435.6 397.3,436.2 398.8,437.4 401.2,440 403.2,441.6 403.7,441.8 406.1,442.2 408.5,442.7 409,442.9 410.9,444.3 413.3,446.5 414.8,447.5 415.8,447.9 418.2,448.9 420.6,450 420.7,450 423,451.2 425.5,452.4 426.5,453 427.9,454 430.3,456 432.3,457.3 432.7,457.4 435.1,458.2 437.6,459.2 438.2,459.6 440,460.9 442.4,462.4 444,462.9 444.8,463.2 445.6,463.4 447.3,464.4 449.7,466.7 449.9,466.9 452.1,469 454.5,470.1 455.7,470.3 457,470.7 459.4,472 461.5,473.7 461.8,473.9 464.2,475.5 466.6,476.7 467.4,477 467.4,477 469.1,477.7 471.5,478.3 473.2,478.5 473.9,478.7 476.3,479.8 478.8,481.8 479,482.1 481.2,483.5 483.6,484.2 484.9,484.4 486,484.9 488.4,486.4 490.7,487.9 490.9,488 493.3,488.7 495.7,489.2 496.6,489.6 498.1,490.6 500.6,492.3 502.4,493 503,493.2 505.4,493.6 507.8,494.5 508.2,494.7 510.3,495.8 512.7,497.2 514.1,498 515.1,498.7 517.5,500.3 519.9,501.2 519.9,501.2 522.4,501.3 524.8,501.9 525.8,502.5 527.2,503.7 527.4,503.9 529.6,505.7 531.6,506.5 532.1,506.5 534.5,507 536.9,508.3 537.4,508.7 539.3,510.2 541.7,511.5 543.3,512.1 544.2,512.5 546.6,514 549,515.6 549.1,515.7 551.4,516.7 553.9,517.4 554.9,517.7 556.3,518.2 558.7,519.1 560.8,519.7 561.1,519.8 563.6,521 566,523 566.6,523.4 568.4,524.4 570.8,524.8 572.5,525 573.2,525.2 575.7,526.8 578.1,529 578.3,529.2 580.5,530.3 582.9,530.9 584.1,531.2 585.4,531.6 587.8,532.9 590,533.9 590.2,534 592.6,535.1 595,536.5 595.8,537 597.5,538 599.9,539 601.6,539.7 602.3,540 604.7,541.3 607.2,542.4 607.5,542.5 609.6,542.9 612,543.5 613.3,544.3 614.4,545 616.9,546.5 619.2,547 619.3,547 621.7,547 624.1,547.9 625,548.5 626.5,549.6 629,551.1 630.8,551.8 631.4,552 633.8,552.6 636.2,553.3 636.7,553.5 638.7,553.9 641.1,554.5 642.5,555.1 643.5,555.5 645.9,556.5 648.4,556.9 650.8,557.2 653.2,558.2 654.2,558.7 655.6,559.3 658,559.9 660,560.2 660.5,560.3 662.9,561.5 665.3,562.9 665.9,563.2 667.7,563.7 670.2,563.8 671.7,563.9 672.6,564.1 675,565.1 677.4,566.3 677.5,566.3 679.8,567.2 682.3,568.1 683.4,568.5 684.7,568.9 687.1,569.3 689.2,569.7 689.5,569.8 692,571 694.4,572.1 695.1,572.4 696.8,572.6 699.2,572.6 700.9,572.9 701.7,573.2 704.1,574.1 706.5,574.6 706.7,574.7 708.9,574.9 711.3,575.6 712.6,576.2 713.8,576.9 716.2,577.8 718.4,578.2 718.6,578.3 721,578.7 723.5,579.4 724.2,579.6 725.9,580 728.3,580.8 730.1,581.4 730.7,581.6 733.1,582.3 735.6,582.5 735.9,582.5 738,582.6 740.4,583.5 741.8,584.2 742.8,584.8 745.3,585.7 747.6,586 747.7,586 750.1,586.5 752.5,587.4 753.4,587.7 755,588.1 757.4,588.6 759.3,589 759.8,589.1 762.2,590 764.6,590.8 765.1,591 767.1,591.4 769.5,592.1 770.9,592.5 771.9,592.8 774.3,593.4 776.8,594.1 776.8,594.1 779.2,595.1 781.6,596.1 782.6,596.4 784,596.4 786.4,596.3 787.4,596.4 788.5,596.6 788.9,596.7 791.3,597.8 793.7,598.8 794.3,598.9 796.1,599.2 798.6,599.7 800.1,600.2 801,600.5 803.4,601.3 805.8,602 806,602.1 808.3,602.9 810.7,603.8 811.8,604.2 813.1,604.5 815.5,605 817.7,605.6 817.9,605.7 820.4,606.5 822.8,607 823.5,607.1 825.2,607.4 827.6,608.4 829.3,609.3 830.1,609.7 832.5,610.5 834.9,610.6 835.2,610.6 837.3,610.9 839.7,611.8 841,612.4 842.2,612.9 844.6,613.5 846.8,613.9 847,613.9 849.4,614.4 851.9,614.8 852.7,615 854.3,615.3 856.7,616.1 858.5,616.9 859.1,617.1 861.6,617.7 864,617.9 864.4,618 866.4,618.4 867.9,618.9 868.8,619.1 870.2,619.4 871.2,619.5 873.7,619.4 876,619.7 876.1,619.7 878.5,620.5 880.9,621.2 881.9,621.2 883.4,621.2 885.8,621.2 887.7,621.6 888.2,621.7 890.6,622.5 893,623.2 893.5,623.3 895.5,623.8 897.9,624.3 899.4,624.4 900.3,624.4 902.7,624.4 905.2,624.9 905.2,624.9 907.6,625.7 910,626.2 911.1,626.3 912.4,626.3 914.9,626.5 916.9,627 917.3,627.2 919.7,627.7 922.1,627.8 922.7,627.8 924.5,628 927,628.6 928.6,629 929.4,629.1 931.8,629.3 934.2,629.2 934.4,629.2 936.7,629.4 939.1,629.7 940.2,629.9 941.5,630.2 943.9,630.8 946.1,631.5 946.3,631.6 948.8,631.8 951.2,631.7 951.9,631.7 953.6,632 956,632.8 957.8,633.4 958.5,633.5 960.9,633.6 963.3,633.5 963.6,633.5 965.7,633.9 968.2,634.4 969.4,634.5 970.6,634.6 973,634.9 975.3,635.5 975.4,635.5 977.8,636.2 980.3,636.6 981.1,636.7 982.7,636.9 985.1,637.3 987,637.5 987.5,637.6 990,637.8 992.4,638.3 992.8,638.4 994.8,639.1 997.2,639.5 998.6,639.5 999.6,639.3 1002.1,639.3 1004.5,640 1004.5,640.1 1006.9,641 1009.3,641.4 1010.3,641.4 1011.8,641.4 1014.2,641.6 1016.1,641.8 1016.6,641.9 1019,642.1 1021.5,642.3 1022,642.4 1023.9,642.8 1026.3,643.3 1027.8,643.4 1028.7,643.5 1031.1,644 1033.6,644.7 1033.7,644.7 1036,645.2 1038.4,645.4 1039.5,645.5 1040.8,645.8 1043.3,646.8 1045.3,647.5 1045.7,647.6 1048.1,647.6 1049.1,647.5 1050.5,647.4 1051.2,647.4 1052.9,647.8 1055.4,648.7 1057,649.2 1057.8,649.3 1060.2,649.7 1062.6,650.2 1062.8,650.2 1065.1,650.6 1067.5,650.9 1068.7,651.1 1069.9,651.4 1072.3,652.2 1074.5,652.7 1074.8,652.8 1077.2,653 1079.6,653.3 1080.4,653.4 1082,654 1084.4,654.7 1086.2,654.9 1086.9,655 1089.3,655.4 1091.7,656.5 1092,656.6 1094.1,657.7 1096.6,658.4 1097.9,658.5 1099,658.7 1101.4,659.2 1103.3,660 1103.7,660.1 1103.8,660.2 1106.2,661.5 1108.7,662.8 1109.5,663.2 1111.1,664.3 1113.5,665.9 1115.4,666.9 1115.9,667.3 1118.4,669.4 1120.8,672 1121.2,672.5 1121.6,672.9 1123.2,674.7 1125.6,676.8 1127.1,677.9 1128.1,679.6 1130.5,684 1132.9,702.2" stroke="#8000ff"/>
<polyline points="163.8,266.1 166.2,269.1 168.6,272.4 169.6,273.7 171.1,275.5 173.5,277.5 175.5,279.4 175.9,279.9 178.3,283.1 180.8,286.3 181.3,287 183.2,288.6 185.6,290.5 187.2,292.1 188,293.2 190.5,296.3 192.9,298.8 193,298.9 195.3,300.9 197.7,303.9 198.8,305.6 200.1,307.8 202.6,311.1 204.7,313.1 205,313.3 207.3,315.3 207.4,315.4 209.8,318 210.5,318.8 212.3,320.7 214.7,322.5 216.3,323.7 217.1,324.3 219.5,326.8 221.9,329.5 222.2,329.8 224.4,331.7 226.8,333.4 228,334.4 229.2,335.5 231.6,338 233.9,340.3 234.1,340.6 236.5,343.1 238.9,345.7 239.7,346.5 241.3,348.1 243.8,350.2 245.5,351.5 246.2,352 248.6,353.8 251,355.6 251.4,355.8 253.4,357.2 255.9,359.2 257.2,360.6 258.3,361.9 260.7,364.4 263,366.2 263.1,366.3 265.6,368.1 268,370.7 268.9,371.8 270.4,373.6 272.8,375.8 274.7,377.2 275.2,377.6 277.7,380.1 280.1,383 280.6,383.5 282.5,384.9 284.9,385.8 286.4,386.5 287.4,387.1 289.8,389.5 292.2,392 292.2,392 294.6,393.7 297.1,395.6 298.1,396.6 299.5,398.3 301.9,401.2 303.9,402.9 304.3,403.1 306.7,404.7 309.2,406.9 309.7,407.6 311.6,409.8 314,412.4 315.6,413.7 316.4,414.4 316.9,414.8 318.9,416.5 321.3,418.9 321.4,419 323.7,421.1 326.1,423.1 327.3,424.2 328.5,425.5 331,428.2 333.1,430.8 333.4,431.1 335.8,434 338.2,436.9 338.9,437.7 340.7,439.5 343.1,441.7 344.8,443.1 345.5,443.8 347.9,446.4 350.4,449.1 350.6,449.4 352.8,451.2 355.2,453.1 356.5,454.3 357.6,455.5 360,457.9 362.3,459.5 362.5,459.6 364.9,460.6 367.3,462.4 368.1,463.3 369.7,465 372.2,467.3 374,468.3 374.6,468.5 377,469.8 379.4,471.8 379.8,472.1 381.8,473.7 384.3,474.6 385.6,475 386.7,475.4 389.1,477.4 391.5,479.8 391.5,479.8 394,481.5 396.4,482.3 397.3,482.7 398.8,483.5 401.2,485.1 403.2,486.3 403.7,486.5 406.1,487.3 408.5,488.4 409,488.7 410.9,490 413.3,491.6 414.8,492.3 415.8,492.6 418.2,493.5 420.6,494.6 420.7,494.6 423,495.8 425.5,497.2 426.5,497.9 427.9,498.9 430.3,500.7 432.3,502 432.7,502.2 435.1,503.4 437.6,504.8 438.2,505.2 440,506.2 442.4,507.3 444,507.9 444.8,508.3 445.6,508.7 447.3,510.1 449.7,512.5 449.9,512.7 452.1,514.5 454.5,515.8 455.7,516.5 457,517.4 459.4,519.9 461.5,522 461.8,522.2 464.2,523.5 466.6,524.9 467.4,525.5 467.4,525.5 469.1,527.1 471.5,529.1 473.2,529.8 473.9,529.9 476.3,529.9 478.8,530.7 479,530.9 481.2,532.2 483.6,533.3 484.9,533.6 486,533.9 488.4,535 490.7,536.8 490.9,536.9 493.3,538.5 495.7,539.3 496.6,539.5 498.1,540 500.6,541.4 502.4,542.6 503,543 505.4,544.2 507.8,545.1 508.2,545.2 510.3,546 512.7,546.8 514.1,547.2 515.1,547.4 517.5,548 519.9,548.9 519.9,548.9 522.4,550 524.8,551.3 525.8,551.9 527.2,552.9 527.4,553 529.6,554.5 531.6,555.5 532.1,555.6 534.5,556.2 536.9,557.1 537.4,557.3 539.3,558.4 541.7,559.5 543.3,559.8 544.2,559.9 546.6,560.5 549,561.7 549.1,561.7 551.4,562.7 553.9,562.8 554.9,562.7 556.3,562.9 558.7,564.2 560.8,565.9 561.1,566.2 563.6,567.5 566,568.2 566.6,568.5 568.4,569.4 570.8,571.1 572.5,571.9 573.2,572.1 575.7,572.3 578.1,572.7 578.3,572.8 580.5,574.1 582.9,575.5 584.1,575.9 585.4,576.1 587.8,576.5 590,577.3 590.2,577.4 592.6,578.5 595,579.3 595.8,579.5 597.5,580 599.9,581.1 601.6,582.1 602.3,582.5 604.7,583.6 607.2,584.4 607.5,584.5 609.6,585 612,585.5 613.3,585.7 614.4,586 616.9,586.7 619.2,587.7 619.3,587.7 621.7,588.7 624.1,589.4 625,589.7 626.5,590.2 629,591.3 630.8,592 631.4,592.2 633.8,592.7 636.2,593.3 636.7,593.5 638.7,594.7 641.1,596.2 642.5,596.7 643.5,596.9 645.9,597.1 648.4,597.9 650.8,599 653.2,599.7 654.2,599.8 655.6,600 658,600.7 660,601.9 660.5,602.2 662.9,603.3 665.3,603.6 665.9,603.6 667.7,603.8 670.2,604.6 671.7,605.2 672.6,605.6 675,606.1 677.4,606.6 677.5,606.6 679.8,607.5 682.3,608.7 683.4,609.1 684.7,609.5 687.1,609.9 689.2,610.4 689.5,610.5 692,611.4 694.4,612.3 695.1,612.6 696.8,613.2 699.2,614.1 700.9,614.6 701.7,614.9 704.1,615.5 706.5,616 706.7,616 708.9,616.6 711.3,617.2 712.6,617.6 713.8,617.9 716.2,618.7 718.4,619.7 718.6,619.8 721,620.8 723.5,621.4 724.2,621.5 725.9,621.8 728.3,622.6 730.1,623.3 730.7,623.5 733.1,624.2 735.6,624.5 735.9,624.6 738,625.2 740.4,626.1 741.8,626.6 742.8,626.8 745.3,626.9 747.6,627.2 747.7,627.2 750.1,628.3 752.5,629.5 753.4,629.8 755,630.2 757.4,630.9 759.3,631.7 759.8,631.9 762.2,633.1 764.6,633.7 765.1,633.7 767.1,634 769.5,634.5 770.9,635.1 771.9,635.5 774.3,636.3 776.8,636.8 776.8,636.8 779.2,637.3 781.6,637.9 782.6,638.3 784,638.6 786.4,639.2 787.4,639.5 788.5,639.8 788.9,640 791.3,640.9 793.7,641.9 794.3,642.2 796.1,642.8 798.6,643.6 800.1,644 801,644.2 803.4,644.6 805.8,645 806,645 808.3,645.6 810.7,646.4 811.8,646.7 813.1,647 815.5,647.5 817.7,648.2 817.9,648.3 820.4,649.3 822.8,650 823.5,650.2 825.2,650.5 827.6,651.3 829.3,652.2 830.1,652.6 832.5,653.7 834.9,654.2 835.2,654.3 837.3,654.6 839.7,655.3 841,655.8 842.2,656.1 844.6,656.4 846.8,656.5 847,656.5 849.4,657.3 851.9,658.5 852.7,658.8 854.3,659.3 856.7,659.6 858.5,660 859.1,660.2 861.6,661.1 864,662 864.4,662.1 866.4,662.6 867.9,662.9 868.8,663.2 870.2,663.7 871.2,664.2 873.7,665.1 876,665.6 876.1,665.6 878.5,666 880.9,666.6 881.9,666.9 883.4,667.4 885.8,668.2 887.7,668.9 888.2,669.1 890.6,670.2 893,671.1 893.5,671.2 895.5,671.8 897.9,672.6 899.4,673.1 900.3,673.5 902.7,674.1 905.2,674.7 905.2,674.7 907.6,675.5 910,676.6 911.1,677 912.4,677.4 914.9,677.6 916.9,677.9 917.3,678 919.7,678.8 922.1,679.6 922.7,679.8 924.5,680.1 927,680.5 928.6,681 929.4,681.4 931.8,682.4 934.2,682.8 934.4,682.8 936.7,682.7 939.1,683 940.2,683.4 940.5,683.5 941.5,683.9 943.9,684.5 946.1,684.7 946.3,684.8 948.8,685.1 951.2,685.8 951.9,686 953.6,686.3 956,686.4 957.8,686.4 958.5,686.4 960.9,686.7 963.3,687.3 963.6,687.3 965.7,687.6 968.2,687.7 969.4,687.8 970.6,687.9 973,688.1 975.3,688.1 975.4,688.1 977.8,688.2 980.3,688.5 981.1,688.6 982.7,688.8 985.1,689.1 987,689.4 987.5,689.5 990,689.9 992.4,690 992.8,690 994.8,689.8 997.2,689.8 998.6,690 999.6,690.1 1002.1,690.4 1004.5,690.4 1004.5,690.4 1006.9,690.5 1009.3,690.9 1010.3,691.1 1011.8,691.4 1014.2,691.4 1016.1,691.2 1016.6,691.3 1019,691.7 1021.5,692.6 1022,692.7 1023.9,693 1026.3,692.9 1027.8,692.9 1028.7,693 1031.1,693.3 1033.6,693.5 1033.7,693.5 1036,693.1 1038.4,692.9 1039.5,693.1 1040.8,693.4 1043.3,694 1045.3,694.1 1045.7,694.1 1048.1,694.1 1049.1,694.2 1050.5,694.4 1051.2,694.6 1052.9,695 1055.4,695.3 1057,695.5 1057.8,695.5 1060.2,695.9 1062.6,696.5 1062.8,696.5 1065.1,696.8 1067.5,696.9 1068.7,696.9 1069.9,696.9 1072.3,696.9 1074.5,697 1074.8,697 1077.2,697.4 1079.6,697.9 1080.4,698.1 1082,698.5 1084.4,698.9 1086.2,699.2 1086.9,699.3 1089.3,699.9 1091.7,700.4 1092,700.5 1094.1,700.6 1096.6,700.8 1097.9,701.1 1099,701.4 1101.4,702.2 1103.3,702.4 1103.7,702.4 1103.8,702.4 1106.2,702.3 1108.7,702.6 1109.5,702.8 1111.1,703.4 1113.5,704.1 1115.4,704.3 1115.9,704.5 1118.4,705.3 1120.8,706.6 1121.2,706.9 1123.2,707.9 1125.6,708.6 1127.1,708.8 1128.1,709.1 1130.5,710 1132.9,711.2" stroke="#ffff00"/>
<polyline points="163.8,257.4 166.2,259.8 168.6,262.1 169.8,263.2 171.1,264.4 173.5,267.4 175.9,270.7 175.9,270.8 178.3,273.7 180.8,275.9 181.9,277 183.2,278.3 185.6,281.1 188,283.6 188,283.7 190.5,286.4 192.9,289.6 194,291.3 195.3,292.9 197.7,295.4 200.1,297.3 200.1,297.3 202.6,300.3 205,304.2 206.1,306.1 207.3,307.8 207.4,307.9 209.8,310.8 212.2,313.2 212.3,313.3 214.7,316.5 217.1,320 218.2,321.5 219.5,323.2 221.9,326.7 224.3,330.7 224.4,330.9 226.8,334.6 229.2,337.6 230.3,338.9 230.8,339.3 231.6,340.1 234.1,342.7 236.4,345.3 236.5,345.4 238.9,347.1 241.3,348.4 242.4,349.2 243.8,350.6 246.2,353.6 248.5,356.2 248.6,356.3 251,358.8 253.4,361.3 254.3,362.3 254.5,362.6 255.9,365.5 258.3,370.7 260.6,375.4 260.7,375.4 263.1,375.7 265.6,376.1 266.6,376.2 268,376.3 270.4,375.9 272.7,375.8 272.8,375.9 273.9,376.3 275.2,377.7 277.7,380.3 278.8,381.2 280.1,382.2 282.5,383.5 284.8,384.8 284.9,384.9 285.6,385.2 287.4,386.2 289.8,387.3 290.9,387.7 292.2,388.1 294.6,389.1 297,390.7 297.1,390.7 299.5,391.9 301.9,392.6 303,392.9 304.3,393.4 306.7,394.6 309.1,395.5 309.2,395.5 311.6,397.1 314,398.8 314.9,399.6 316.4,401.5 316.9,402.1 318.9,404.8 320.8,406.9 321.3,407.4 323.7,409.7 326.1,412.6 326.6,413.2 327.1,414 328.5,416 331,419.4 332.4,421.1 333.4,422.3 335.8,425.1 338.2,427.8 338.2,427.8 340.7,429.8 343.1,431.5 344,432.4 345.5,434.1 347.9,437.7 349.9,440.5 350.4,441.1 352.8,443.4 355.2,445.5 355.7,445.9 357.6,448.1 360,451.1 361.5,452.6 362.5,453.4 364.9,455.3 367.3,457.6 369.7,458.8 372.2,459.5 373.2,459.7 374.6,459.9 377,460.9 379.1,462.2 379.4,462.3 381.8,463.2 384.3,463.7 385.1,463.9 386.7,464.7 389.1,466.3 391,467.1 391.5,467.2 394,467.1 396.4,467.1 396.9,467.2 398.8,468.2 401.2,470 402.8,471.1 403.7,471.5 406.1,472.6 408.5,473.8 408.7,473.9 410.9,474.7 413.3,475.1 414.7,475.2 415.8,475.6 418.2,476.9 420.6,478.5 420.6,478.6 423,479.3 425.5,479.2 426.5,479.3 427.9,479.7 430.3,481 432.4,482.1 432.7,482.2 435.1,482.8 437.6,483.4 438.3,483.7 440,484.4 442.4,485.2 444.3,485.4 444.8,485.5 445.6,485.5 447.3,485.7 449.7,486.6 450.2,486.9 452.1,487.7 454.5,488.4 456.1,488.8 457,489.2 459.4,490.7 461.8,492.2 462,492.2 464.2,492.5 466.6,492 467.9,492.1 469.1,492.4 471.5,493.8 473.8,495.1 473.9,495.1 476.3,495.8 478.8,496.4 479.8,496.8 481.2,497.4 483.6,498.2 484.8,498.6 485.7,498.9 486,499.1 488.4,501 490.9,503.5 491.6,504.2 493.3,505.6 495.7,506.6 497.5,507.3 498.1,507.5 500.4,508.8 500.6,508.9 503,510.7 503.4,511 505.4,511.8 507.8,512.6 509.4,513.3 510.3,513.8 512.7,515.2 515.1,516 515.3,516 517.5,516.1 519.9,516.4 521.2,516.8 522.4,517.1 524.8,517.7 527.1,518.1 527.2,518.1 529.6,519 532.1,520.4 533,520.8 534.5,521.2 536.9,521.1 538.9,521 539.3,521 541.7,522.2 544.2,523.8 544.9,524.2 545.6,524.5 546.6,524.7 549,524.9 550.8,525.2 551.4,525.4 553.9,526.4 556.3,527.4 556.7,527.5 558.7,528.5 561.1,530.2 562.6,531.4 563.6,532.1 566,533 568.4,533.1 568.5,533.2 570.8,533.8 573.2,535.3 574.5,536.1 575.7,536.8 578.1,537.6 580.4,538.5 580.5,538.6 582.9,540.4 585.4,542.2 586.3,542.7 587.8,543.4 590.2,544.3 592.2,545.2 592.6,545.5 595,547 597.5,548.3 598.1,548.6 599.9,549.4 602.3,551.1 604,552.3 604.7,552.7 607.2,553.8 609.6,554.6 610,554.8 612,556.2 614.4,558.6 615.9,560 616.9,560.8 619.3,562.2 621.7,563.3 621.8,563.3 624.1,564.8 626.5,566.7 627.6,567.5 629,568.6 631.4,570.7 633.5,572.8 633.8,573.2 636.2,575.5 638.7,577.1 639.4,577.5 641.1,578.6 643.5,580.8 645.3,582.5 645.7,583 645.9,583.2 648.4,585.1 650.8,586.5 651.1,586.8 653.2,588.4 655.6,590.8 657,592.2 658,593 660.5,594.7 662.9,596.4 665.3,598.6 667.7,600.9 668.8,601.7 670.2,602.8 672.6,604.6 674.6,606.3 675,606.6 677,608.2 677.4,608.4 679.8,610 680.5,610.4 682.3,611.9 684.7,614.8 686.4,616.9 687.1,617.7 689.5,620 692,622 692.3,622.3 694.4,624.2 696.8,626.4 698.1,627.6 699.2,628.5 701.7,630.5 704,632.5 704.1,632.5 706.5,634.4 706.8,634.6 708.9,636.1 709.9,636.8 711.3,637.8 713.8,639.5 715.8,641 716.2,641.2 718.6,642.9 721,644.5 721.6,644.9 723.5,646.1 725.9,647.7 727.5,648.8 728.3,649.3 730.7,650.8 733.1,652.3 733.4,652.5 735.6,653.8 738,655.3 739.3,656.1 740.4,656.7 742.8,658.2 745.1,659.5 745.3,659.6 747.7,661 750.1,662.4 751,662.9 752.5,663.8 755,665.1 756.9,666.2 757.4,666.5 759.8,667.8 762.2,669.1 762.8,669.4 764.6,670.4 767.1,671.7 768.6,672.5 769.5,673 771.9,674.2 774.3,675.5 774.5,675.6 776.8,676.7 779.2,677.9 780.4,678.6 781.6,679.2 784,680.4 786.3,681.5 786.4,681.6 787.4,682.1 788.9,682.8 791.3,684 792.1,684.4 793.7,685.2 796.1,686.3 798,687.3 798.6,687.5 801,688.7 803.4,689.9 803.9,690.1 805.8,691 808.3,692.2 809.8,692.9 810.7,693.3 813.1,694.4 815.5,695.5 815.6,695.6 817.9,696.6 820.4,697.7 821.5,698.3 822.8,698.8 825.2,699.9 827.4,700.9 827.6,701 830.1,702 832.5,703.1 833.3,703.4 834.9,704.1 837.3,705.1 839.1,705.8 839.7,706.1 842.2,707.1 844.6,708 845,708.2 847,709 849.4,709.9 850.9,710.5 851.9,710.8 854.3,711.7 856.7,712.6 856.8,712.6 859.1,713.5 861.6,714.3 862.6,714.7 864,715.1 866.4,715.9 867.9,716.4 868.5,716.6 868.8,716.7 871.2,717.5 873.7,718.3 874.4,718.5 876.1,719.1 878.5,719.8 880.3,720.4 880.9,720.6 883.4,721.3 885.8,722 886.1,722.1 888.2,722.8 890.6,723.5 892,723.9 893,724.2 895.5,724.9 897.9,725.6 900.3,726.3 902.7,727 903.8,727.2 905.2,727.6 907.6,728.3 909.6,728.8 910,728.9 912.4,729.6 914.9,730.2 915.5,730.4 917.3,730.8 919.7,731.4 921.4,731.9 922.1,732 924.5,732.6 927,733.2 927.3,733.3 929.4,733.8 931.8,734.4 933.1,734.7 934.2,734.9 936.7,735.5 939,736 939.1,736 941.5,736.5 943.9,737 944.9,737.2 946.3,737.5 948.8,738 950.8,738.4 951.2,738.5 953.6,739 956,739.4 956.6,739.6 958.5,739.9 960.9,740.3 962.5,740.6 963.3,740.8 965.7,741.2 968.2,741.6 968.4,741.6 970.6,742 973,742.4 974.3,742.6 975.4,742.8 977.8,743.2 980.1,743.6 980.3,743.6 982.7,744 985.1,744.4 986,744.5 987.5,744.8 990,745.1 991.9,745.4 992.4,745.5 994.8,745.8 997.2,746.2 997.8,746.3 999.6,746.5 1002.1,746.9 1003.6,747.1 1004.5,747.2 1006.9,747.6 1009.3,747.9 1009.5,747.9 1011.8,748.2 1014.2,748.5 1015.4,748.7 1016.6,748.8 1019,749.1 1021.3,749.4 1021.5,749.5 1023.9,749.8 1026.3,750 1027.1,750.1 1028.7,750.3 1031.1,750.6 1033,750.8 1033.6,750.9 1036,751.2 1038.4,751.4 1038.9,751.5 1040.8,751.7 1043.3,752 1044.8,752.1 1045.7,752.2 1048.1,752.5 1049.1,752.6 1050.5,752.7 1050.6,752.7 1052.9,753 1055.4,753.2 1056.5,753.4 1057.8,753.5 1060.2,753.7 1062.4,754 1062.6,754 1065.1,754.2 1067.5,754.5 1068.3,754.5 1069.9,754.7 1072.3,754.9 1074.1,755.1 1074.8,755.2 1077.2,755.4 1079.6,755.6 1080,755.6 1082,755.8 1084.4,756 1085.9,756.1 1086.9,756.2 1089.3,756.3 1091.7,756.5 1091.8,756.5 1094.1,756.7 1096.6,756.8 1097.6,756.9 1099,756.9 1101.4,757 1103.3,757.1 1103.5,757.1 1103.8,757.2 1106.2,757.3 1108.7,757.3 1109.4,757.4 1111.1,757.4 1113.5,757.5 1115.3,757.6 1115.9,757.6 1118.4,757.7 1120.8,757.7 1121.1,757.8 1123.2,757.8 1125.6,757.9 1127,757.9 1128.1,757.9 1130.5,757.9 1132.9,758" stroke="#ff00ff"/>
<polyline points="163.8,255.1 166.2,257.2 168.6,259.7 169.6,260.5 171.1,261.4 173.5,263.1 175.4,264.9 175.9,265.4 178.3,267.6 180.8,270 181.3,270.6 183.2,273.2 185.6,275.9 187.1,277 188,277.6 190.5,279.5 192.9,282 192.9,282.1 195.3,284.2 197.7,286.3 198.7,287.4 200.1,289 202.6,291.1 204.6,292.4 205,292.7 207.3,294.9 207.4,295.1 209.8,297.6 210.4,298.1 212.3,299.3 214.7,301.1 216.2,302.6 217.1,303.5 219.5,305.5 221.9,307.3 222,307.3 224.4,309.5 226.8,311.4 227.9,311.9 229.2,312.4 231.6,314.2 233.7,316.6 234.1,317 236.5,319.4 238.9,321.7 239.5,322.3 241.3,324.2 243.8,326.2 245.3,327.1 246.2,327.7 248.6,330.3 251,333.1 251.2,333.3 253.4,335 255.9,336.7 257,337.6 258.3,338.7 260.7,340.2 262.8,341.4 263.1,341.6 265.6,343.9 268,346.1 268.6,346.6 270.4,347.6 272.8,349.8 274.4,351.6 275.2,352.5 277.7,354.6 280.1,356.4 280.3,356.5 282.5,358.6 284.9,360.5 286.1,361.1 287.4,362 289.8,364.3 291.9,366.5 292.2,366.7 294.6,368 297.1,369.2 297.7,369.7 299.5,371.1 301.9,372.9 303.6,374.2 304.3,374.9 306.7,377.8 309.2,380.3 309.4,380.5 311.6,381.8 314,383.7 315.2,385 316.4,386.2 318.9,388.3 321,390 321.3,390.2 323.7,392.6 326.1,394.4 326.9,394.8 328.5,395.7 331,397.7 332.7,399.3 333.4,399.9 335.8,401.3 338.2,402.8 338.5,403.1 340.7,405.1 343.1,407.2 344.3,408.1 345.5,409 347.9,411.3 350.1,413.1 350.4,413.2 352.2,414 352.8,414.3 355.2,416 356,416.8 357.6,418.6 360,420.8 361.8,422.2 362.5,422.7 364.9,424.9 367.3,426.5 367.6,426.6 369.7,427.7 372.2,430 373.4,431.5 374.6,432.7 377,434.4 379.3,435.8 379.4,435.9 381.8,437.7 384.3,438.9 385.1,439.2 386.7,439.9 389.1,441.6 390.9,442.8 391.5,443.1 394,443.9 396.4,445.2 396.7,445.5 398.8,447.2 401.2,448.6 402.6,449.3 403.7,449.9 406.1,451.7 408.4,453.2 408.5,453.3 410.9,454.6 413.3,456.8 414.2,457.6 415.8,458.9 418.2,459.9 420,460.4 420.6,460.6 423,461.9 425.5,463 425.9,463.2 427.9,464.3 430.3,466.3 431.7,467.4 432.7,468 435.1,468.7 437.5,470 437.6,470 440,472 442.4,473.6 443.3,474.1 444.8,475.2 445.6,475.8 447.3,477.2 449.1,478.3 449.7,478.5 452.1,479.3 454.5,480.7 455,481 457,482.2 459.4,482.8 460.8,483.1 461.8,483.5 464.2,485 466.6,486.3 466.6,486.3 467.4,486.6 469.1,487.5 471.5,489.2 472.4,489.8 473.9,490.5 476.3,491.1 478.3,492.1 478.8,492.5 481.2,494.6 483.6,496.2 484.1,496.4 486,497.4 488.4,498.9 489.9,499.6 490.9,499.8 493.3,500.5 495.7,502.1 495.7,502.1 498.1,504.2 500.6,505.4 501.6,505.8 503,506.5 505.4,508 507.4,508.9 507.8,509.1 510.3,509.9 512.7,511.4 513.2,511.8 515.1,512.7 517.5,513.1 519,513.6 519.9,514.1 522.4,515.6 524.8,516.4 524.8,516.4 527.2,517.1 527.4,517.2 529.6,518.5 530.7,519 532.1,519.6 534.5,520.7 536.5,522.4 536.9,522.8 539.3,524.9 541.7,525.9 542.3,526.1 544.2,526.7 546.6,528.1 548.1,528.8 549,529.1 551.4,530.2 553.9,531.8 554,531.9 556.3,533 558.7,533.2 559.8,533.4 561.1,534 563.6,535.4 565.6,536.4 566,536.6 568.4,537.8 570.8,539.6 571.4,540 573.2,540.8 575.7,541.6 577.3,542.5 578.1,543.1 580.5,544.5 582.9,545.1 583.1,545.1 585.4,545.7 587.8,547 588.9,547.5 590.2,547.9 592.6,548.7 594.7,549.8 595,550 597.5,550.9 599.9,551.2 600.6,551.4 602.3,552.3 604.7,554.1 606.4,555.1 607.2,555.5 609.6,556.6 612,557.9 612.2,558 614.4,558.5 616.9,558.9 618,559.4 619.3,560.1 621.7,561.5 623.8,562 624.1,562.1 626.5,562.6 629,563.5 629.7,563.8 631.4,564.1 633.8,564.6 635.5,565.3 636.2,565.7 638.7,566.6 641.1,566.9 641.3,567 643.5,567.7 645.9,568.9 647.1,569.2 648.4,569.4 650.8,569.7 653,570.4 653.2,570.5 655.6,571.1 658,571.6 658.8,571.9 660.5,572.9 662.9,574.2 664.6,574.7 665.3,574.7 667.7,575.2 670.2,576.2 670.4,576.3 672.6,577 675,577.7 676.3,578.3 677.4,578.9 679.8,579.6 682.1,579.5 682.3,579.5 684.7,579.8 687.1,580.5 687.9,580.6 689.5,580.9 692,581.3 693.7,582 694.4,582.2 696.8,582.9 699.2,583.3 699.5,583.4 701.7,584.2 704.1,585.2 705.4,585.5 706.5,585.6 708.9,586.2 711.2,587 711.3,587.1 713.8,587.7 716.2,588.2 717,588.4 718.6,588.9 721,589.3 722.8,589.3 723.5,589.3 725.9,589.9 728.3,590.9 728.7,591.1 730.7,591.7 733.1,592.4 734.5,592.8 735.6,593.2 738,593.7 740.3,594 740.4,594 742.8,594.9 745.3,595.9 746.1,596.2 747.7,596.4 750.1,596.8 752,597.3 752.5,597.4 755,597.7 757.4,598 757.8,598.1 759.8,598.8 762.2,599.4 763.6,599.6 764.6,599.8 767.1,600.5 769.4,601.4 769.5,601.4 771.9,602 774.3,602.5 775.3,602.7 776.8,603.2 779.2,603.8 781.1,604.1 781.6,604.3 784,605.3 786.4,606.3 786.9,606.4 787.4,606.5 788.9,606.7 791.3,607.1 792.7,607.6 793.7,607.9 796.1,608.6 798.5,609.4 798.6,609.4 801,610.5 803.4,611.3 804.4,611.4 805.8,611.6 808.3,612 810.2,612.7 810.7,612.8 813.1,613.3 815.5,613.7 816,613.9 817.9,614.5 820.4,615 821.8,615.2 822.8,615.4 825.2,616.3 827.6,617.2 827.7,617.2 830.1,617.7 832.5,618.4 833.5,618.8 834.9,619.5 837.3,620.4 839.3,620.9 839.7,621.1 842.2,622 844.6,622.5 845.1,622.5 847,622.6 849.4,623.1 851,623.7 851.9,624 854.3,624.6 856.7,625 856.8,625.1 859.1,625.7 861.6,626.1 862.6,626.2 864,626.4 866.4,627.3 867.9,627.9 868.4,628.2 868.8,628.3 871.2,628.8 873.7,629.2 874.2,629.4 876.1,629.8 878.5,630.1 880.1,630.2 880.9,630.4 883.4,630.9 885.8,631.4 885.9,631.4 888.2,631.5 890.6,632 891.7,632.3 893,632.8 895.5,633.1 897.5,633.4 897.9,633.5 900.3,634.1 902.7,634.6 903.4,634.7 905.2,635 907.6,635.9 909.2,636.5 910,636.7 912.4,636.8 914.9,637 915,637 917.3,637.4 919.7,637.8 920.8,638 922.1,638.2 924.5,639 926.7,639.5 927,639.5 929.4,639.5 931.8,639.8 932.5,640 934.2,640.5 936.7,640.8 938.3,641 939.1,641.1 941.5,641.7 943.9,642 944.1,642 946.3,642.1 948.8,642.6 950,643 951.2,643.2 953.6,643.4 955.8,643.7 956,643.8 958.5,644.6 960.9,645.3 961.6,645.5 963.3,645.9 965.7,646.8 967.4,647.2 968.2,647.2 970.6,647.3 973,647.7 973.2,647.8 975.4,648.5 977.8,648.9 979.1,649 980.3,649.1 982.7,649.5 984.9,649.5 985.1,649.5 987.5,649.6 990,650.2 990.7,650.5 992.4,651.1 994.8,651.4 996.5,651.7 997.2,651.9 999.6,652.6 1002.1,653 1002.4,653.1 1004.5,653.4 1006.9,654.1 1008.2,654.4 1009.3,654.5 1011.8,654.6 1014,655 1014.2,655.1 1016.6,655.8 1019,656 1019.8,656.1 1021.5,656.3 1023.9,656.8 1025.7,657.2 1026.3,657.2 1028.7,657.7 1031.1,658.7 1031.5,658.8 1033.6,659.6 1036,659.8 1037.3,659.9 1038.4,660.1 1040.8,660.6 1043.1,661 1043.3,661 1045.7,661.5 1048.1,662.3 1049,662.5 1049.1,662.5 1050.5,662.7 1052.9,662.7 1054.8,662.9 1055.4,663 1057.8,663.7 1060.2,664.1 1060.6,664.2 1062.6,664.6 1065.1,665.4 1066.4,665.7 1067.5,665.8 1069.9,666.1 1072.2,666.8 1072.3,666.8 1074.8,667.5 1077.2,667.7 1078.1,667.8 1079.6,668.1 1082,668.9 1083.9,669.4 1084.4,669.6 1086.9,670.2 1089.3,671 1089.7,671.1 1091.7,671.5 1094.1,671.7 1095.5,672 1096.6,672.4 1099,673.4 1101.4,674 1101.4,674 1103.3,674.3 1103.8,674.4 1106.2,674.8 1107.2,674.9 1108.7,675 1111.1,675 1113,675.5 1113.5,675.7 1115.9,676.5 1118.4,676.8 1118.8,676.9 1120.8,677.3 1123.2,678.1 1124.7,678.5 1125.6,678.7 1128.1,679.3 1130.5,680.2" stroke="#00ffff"/>
<polyline points="163.8,287.9 166.2,290.2 168.6,292.6 169.6,293.5 171.1,294.9 173.5,297 175.5,298.9 175.9,299.3 178.3,301.4 180.8,303 181.3,303.3 183.2,304.5 185.6,306.5 187.2,307.9 188,308.7 190.5,310.6 192.9,312.6 193,312.7 195.3,315.2 197.7,318 198.8,318.9 200.1,319.8 202.6,321.2 204.7,323 205,323.3 207.3,326.1 207.4,326.2 209.8,328.5 210.5,328.9 212.3,329.8 214.7,331.3 216.3,333 217.1,333.9 219.5,336.3 221.9,337.9 222.2,338 224.4,339.5 226.8,342.4 228,344.1 229.2,345.7 231.6,347.7 233.9,348.9 234.1,349 236.5,350.9 238.9,353.8 239.7,354.7 241.3,356.3 243.8,357.8 245.5,358.9 246.2,359.4 248.6,361.8 251,364.2 251.4,364.5 253.4,365.8 255.9,367.3 257.2,368.5 258.3,369.6 260.7,372.4 263,374.5 263.1,374.5 265.6,376.1 268,377.9 268.9,378.6 270.4,380 272.8,382.1 274.7,383.7 275.2,384.1 277.7,386.4 280.1,388.8 280.6,389.2 282.5,390.9 284.9,393 286.4,394.4 287.4,395.4 289.8,398 292.2,400.3 292.2,400.3 294.6,402.4 297.1,404.9 298.1,405.9 299.5,407.2 301.9,408.7 303.9,409.7 304.3,410 306.7,412 309.1,414.7 309.2,414.7 309.7,415.4 311.6,417 314,418.5 315.6,419.7 316.4,420.5 318.9,423.4 321.3,426.2 321.4,426.3 323.7,428.1 326.1,430 327.3,431.3 328.5,432.9 331,436.1 333.1,437.8 333.4,437.9 335.8,438.9 338.2,440.9 338.9,441.7 340.7,443.9 343.1,446.6 344.8,447.8 345.5,448.3 347.9,450.2 350.4,453.1 350.6,453.4 352.8,455.9 355.2,457.9 356.5,458.7 357.6,459.6 360,462.1 362.3,464.8 362.5,464.9 364.9,466.7 367.3,467.8 368.1,468.1 369.7,469 372.2,470.8 374,472.2 374.6,472.6 377,473.9 379.4,475.5 379.8,475.8 381.8,477.2 384.3,478.8 385.6,479.6 386.7,480.1 389.1,481.6 391.5,483.4 391.5,483.4 394,485 396.4,486.5 397.3,487.1 398.8,488.1 401.2,489.7 403.2,490.6 403.7,490.8 406.1,491.8 408.5,493.5 409,493.9 410.9,495.7 413.3,497.5 414.8,498.1 415.8,498.4 418.2,499.6 420.6,501.5 420.7,501.6 423,503.3 425.5,504.1 426.5,504.4 427.9,505 430.3,506.8 432.3,508.6 432.7,508.9 435.1,509.9 437.6,510.4 438.2,510.6 440,511.9 442.4,514.6 444,516.2 444.8,516.8 445.6,517.2 447.3,517.9 449.7,519.3 449.9,519.4 452.1,521.6 454.5,523.9 455.7,524.6 457,525.1 459.4,526.2 461.5,528 461.8,528.2 464.2,530.6 466.6,532.2 467.4,532.5 467.4,532.5 469.1,533.1 471.5,534.5 473.2,536.1 473.9,536.8 476.3,538.9 478.8,540.6 479,540.7 481.2,542.1 483.6,544 484.9,544.9 486,545.5 488.4,546.5 490.7,547.4 490.9,547.5 493.3,548.7 495.7,550 496.6,550.4 498.1,551 500.6,552 502.4,553 503,553.2 504.3,553.8 505.4,554.3 507.8,555.3 508.2,555.6 510.3,556.9 512.7,559 514.1,560 515.1,560.5 517.5,561.3 519.9,562.2 519.9,562.2 522.4,563.7 524.8,565.1 525.8,565.5 527.2,565.8 527.4,565.8 529.6,566.4 531.6,567.5 532.1,567.9 534.5,569.5 536.9,570.2 537.4,570.2 539.3,570.3 541.7,571.4 543.3,572.7 544.2,573.5 546.6,574.9 549,575.1 549.1,575.1 551.4,575.4 553.9,576.7 554.9,577.4 556.3,578 558.7,578.2 560.8,578.3 561.1,578.4 563.6,579.7 566,581.3 566.6,581.7 568.4,582.1 570.8,582.1 572.5,582.5 573.2,582.8 575.7,584.3 578.1,585.6 578.3,585.7 580.5,586.1 582.9,586.7 584.1,587.1 585.4,587.6 587.8,588.6 590,589 590.2,589.1 592.6,589.7 595,590.9 595.8,591.3 597.5,592.2 599.9,593.2 601.6,593.8 602.3,594 604.7,594.9 607.2,595.8 607.5,595.9 609.6,596.4 612,597.3 613.3,597.8 614.4,598.2 616.9,598.9 619.2,598.9 619.3,598.9 621.7,599.2 624.1,600.1 625,600.5 626.5,601.1 629,601.7 630.8,602.1 631.4,602.3 633.8,603.7 636.2,605.1 636.7,605.3 638.7,605.7 641.1,606 642.5,606.5 643.5,607 645.9,608.6 648.4,609.5 650.8,609.6 653.2,609.8 654.2,610.2 655.6,610.9 658,612 660,612.3 660.5,612.4 662.9,612.8 665.3,614 665.9,614.4 667.7,615.5 670.2,616.2 671.7,616.3 672.6,616.3 675,616.9 677.4,618.2 677.5,618.3 679.8,619.2 682.3,619.4 683.4,619.5 684.7,619.8 687.1,620.5 689.2,621.3 689.5,621.4 692,621.8 694.4,622.3 695.1,622.5 696.8,623.3 699.2,624.4 700.9,625 701.7,625.2 704.1,625.8 706.5,626.5 706.7,626.5 708.9,627.3 711.3,628 712.6,628.4 713.8,628.8 716.2,629.7 718.4,630.5 718.6,630.5 721,631.1 723.5,631.7 724.2,631.9 725.9,632.6 728.3,633.6 730.1,634.1 730.7,634.2 733.1,634.8 735.6,635.6 735.9,635.8 738,636.4 740.4,636.8 741.8,636.8 742.8,636.9 745.3,637.6 747.6,638.7 747.7,638.8 750.1,639.6 752.5,639.8 753.4,640 755,640.4 757.4,641.5 759.3,642.4 759.8,642.6 762.2,643.2 764.6,643.8 765.1,643.9 767.1,644.8 769.5,646 770.9,646.4 771.9,646.5 774.3,646.6 776.8,647.2 776.8,647.2 779.2,648.3 781.6,649.2 782.6,649.4 784,649.6 786.4,650.1 787.4,650.5 788.5,651 788.9,651.2 791.3,652.2 793.7,652.9 794.3,653 796.1,653.5 798.6,654.5 800.1,655.2 801,655.5 803.4,656.1 805.8,656.5 806,656.5 808.3,657 810.7,657.7 811.8,658.1 813.1,658.4 815.5,659.1 817.7,659.8 817.9,659.9 820.4,660.8 822.8,661.5 823.5,661.7 825.2,662.3 827.6,663.2 829.3,664 830.1,664.3 832.5,665.1 834.9,665.8 835.2,665.9 837.3,666.6 839.7,667.5 841,667.8 842.2,668 844.6,668.3 846.8,669.1 847,669.2 849.4,670.3 851.9,671 852.7,671.2 854.3,671.3 856.7,671.7 858.5,672.4 859.1,672.6 861.6,673.5 864,673.8 864.4,673.8 866.4,674 867.9,674.4 868.8,674.8 870.2,675.4 871.2,675.7 873.7,676 876,676 876.1,676 878.5,676.6 880.9,677.8 881.9,678.2 883.4,678.6 885.8,678.9 887.7,679.1 888.2,679.2 890.6,680 893,680.8 893.5,680.9 895.5,681.1 897.9,681.3 899.4,681.6 900.3,681.9 902.7,682.7 905.2,683.1 905.2,683.1 907.6,683.2 910,683.6 911.1,683.9 912.4,684.4 914.9,685.1 916.9,685.5 917.3,685.6 919.7,686.1 922.1,686.6 922.7,686.7 924.5,686.9 927,687.2 928.6,687.4 929.4,687.5 931.8,688 934.2,688.3 934.4,688.3 936.7,688.5 939.1,688.9 940.2,689.1 941.5,689.4 943.9,689.7 946.1,690 946.3,690.1 948.8,690.8 951.2,691.9 951.9,692.1 953.6,692.5 956,692.6 957.8,692.8 958.5,692.9 960.9,693.6 963.3,694.3 963.6,694.3 965.7,694.4 968.2,694.5 969.4,694.7 970.6,695 973,695.7 975.3,695.9 975.4,695.9 977.8,695.8 980.3,696.3 981.1,696.6 982.7,697.3 985.1,698 987,698 987.5,698 990,698.1 992.4,698.7 992.8,698.8 994.8,699.3 997.2,699.5 998.6,699.5 999.6,699.6 1002.1,700.1 1004.5,700.9 1004.5,700.9 1006.9,701.2 1009.3,701.3 1010.3,701.3 1011.8,701.6 1014.2,702.4 1016.1,703 1016.6,703.1 1019,703.4 1021.5,703.6 1022,703.7 1023.9,704 1026.3,704.4 1027.8,704.5 1028.7,704.6 1031.1,704.9 1033.6,705.4 1033.7,705.4 1036,705.8 1038.4,706.1 1039.5,706.2 1040.8,706.4 1043.3,706.8 1045.3,707 1045.7,707 1048.1,707.2 1049.1,707.3 1050.5,707.5 1051.2,707.7 1052.9,708 1055.4,708.2 1057,708 1057.8,707.9 1060.2,707.9 1062.6,708.4 1062.8,708.5 1065.1,709 1067.5,709.1 1068.7,709.2 1069.9,709.3 1072.3,709.9 1074.5,710.6 1074.8,710.7 1077.2,710.9 1079.6,710.8 1080.4,710.8 1082,711.2 1084.4,712 1086.2,712.3 1086.9,712.3 1089.3,711.9 1091.7,711.6 1092,711.6 1094.1,712 1096.6,712.4 1097.9,712.4 1099,712.3 1101.4,712.2 1103.3,712.5 1103.7,712.6 1103.8,712.7 1106.2,713.3 1108.7,713.4 1109.5,713.3 1111.1,713.2 1113.5,713.3 1115.4,713.7 1115.9,713.9 1118.4,714.2 1120.8,714 1121.2,714 1123.2,713.9 1125.6,714 1127.1,714.1 1128.1,714.2 1130.5,714.2 1132.9,714.3" stroke="#ff9900"/>
<polyline points="163.8,255.1 166.2,257.6 168.6,260.8 169.6,262 171.1,263.4 173.5,265 175.5,266.5 175.9,266.9 178.3,268.5 180.8,270.5 181.3,271.1 183.2,273.4 185.6,276.1 187.2,277.3 188,277.8 190.5,279.7 192.9,282.5 193,282.6 195.3,285.1 197.7,287 198.8,288 200.1,289.1 202.6,291.4 204.7,293.1 205,293.4 207.3,295.6 207.4,295.8 209.8,298.9 210.5,299.7 212.3,301.4 214.7,302.8 216.3,303.9 217.1,304.6 219.5,307.3 221.9,309.8 222.2,310.1 224.4,312 226.8,314.3 228,315.3 229.2,316.1 231.6,317.4 233.9,319.1 234.1,319.3 236.5,322 238.9,324.3 239.7,324.8 241.3,325.9 243.8,328.1 245.5,330.1 246.2,330.9 248.6,333.2 251,335.2 251.4,335.5 253.4,337.3 255.9,338.7 257.2,339.2 258.3,339.8 260.7,342 263,345.1 263.1,345.2 265.6,347.7 268,349.6 268.9,350.3 270.4,351.7 272.8,353.8 274.7,355.1 275.2,355.5 277.7,357.4 280.1,359.7 280.6,360.1 282.5,361.4 284.9,363 286.4,364.5 287.4,365.8 289.8,369 292.2,371.2 292.2,371.2 294.6,372.8 297.1,374.6 298.1,375.4 299.5,376.3 301.9,378 303.9,380 304.3,380.5 306.7,383 309.2,384.5 309.7,384.7 311.6,385.8 314,388.1 315.6,389.8 316.4,390.6 318.9,392.5 321.3,394.4 321.4,394.5 323.7,396.5 326.1,398.4 327.3,399.2 328.5,400.4 331,403.2 333.1,405.4 333.4,405.7 335.8,407.1 338.2,408.6 338.9,409.3 340.7,411.3 343.1,414.1 344.3,415.4 344.8,415.8 345.5,416.6 347.9,419 350.4,421.1 350.6,421.3 352.8,422.4 355.2,424 356.5,425.2 357.6,426.4 360,428.6 362.3,429.9 362.5,430 364.9,431.7 367.3,434.3 368.1,435.1 369.7,436.6 372.2,438.5 374,439.9 374.6,440.4 377,441.7 379.4,442.4 379.8,442.6 381.8,444 384.3,446.8 385.6,448.3 386.7,449.2 389.1,450.8 391.5,452.6 391.5,452.6 394,454.6 396.4,456.2 397.3,456.7 398.8,457.7 401.2,459.5 403.2,460.6 403.7,460.8 406.1,461.5 408.5,463.3 409,463.8 410.9,465.9 413.3,467.7 414.8,468.4 415.8,468.8 418.2,470.2 420.6,471.7 420.7,471.7 423,473 425.5,474.9 426.5,475.9 427.9,477.1 430.3,478.3 432.3,478.8 432.7,479 435.1,480.6 437.6,482.6 438.2,483.1 440,484.2 442.4,485.5 444,486.6 444.8,487.2 445.6,487.7 447.3,488.7 449.7,490.1 449.9,490.2 452.1,492.1 454.5,494 455.7,494.5 457,494.7 459.4,495.2 461.5,496.7 461.8,496.9 464.2,499.1 466.6,500.9 467.4,501.5 467.4,501.5 469.1,502.8 471.5,504.4 473.2,505.1 473.9,505.2 476.3,505.9 478.8,507.4 479,507.6 481.2,508.8 483.6,509.3 484.9,509.6 486,510 488.4,511.7 490.7,513.3 490.9,513.4 493.3,514.7 495.7,515.9 496.6,516.3 498.1,516.8 500.6,516.9 502.4,517.2 503,517.4 505.4,519.2 507.8,521 508.2,521.2 510.3,521.9 512.7,523 514.1,523.9 515.1,524.6 517.5,525.9 519.9,527 519.9,527.1 522.4,528.6 524.8,529.6 525.8,529.7 527.2,529.9 527.4,529.9 529.6,530.8 531.6,532.3 532.1,532.7 534.5,534 536.9,534.5 537.4,534.6 539.3,535.1 541.7,536.1 543.3,536.6 544.2,536.9 546.6,538.2 549,540 549.1,540.1 551.4,540.9 553.9,541 554.9,541.2 556.3,541.7 558.7,543.3 560.8,544.3 561.1,544.4 563.6,545.2 566,546.6 566.6,546.9 568.4,547.9 570.8,548.9 572.5,549.9 573.2,550.4 575.7,552 578.1,552.4 578.3,552.4 580.5,552.3 582.9,553 584.1,553.7 585.4,554.5 587.8,555.8 590,556.9 590.2,557 592.6,558.4 595,559.2 595.8,559.3 597.5,559.6 599.9,560.7 601.6,561.6 602.3,561.9 604.7,562.3 607.2,562.6 607.5,562.7 609.6,563.7 612,565.2 613.3,565.8 614.4,566.3 616.9,567.4 619.2,568.2 619.3,568.3 621.7,568.5 624.1,568.7 625,569 626.5,569.9 629,571.2 630.8,571.7 631.4,571.8 633.8,572.2 636.2,573.2 636.7,573.4 638.7,574.2 641.1,575 642.5,575.7 643.5,576.2 645.9,577.2 648.4,577.6 650.8,578.2 653.2,579.5 654.2,580.1 655.6,580.6 658,580.9 660,581.2 660.5,581.3 662.9,581.9 665.3,582.5 665.9,582.7 667.7,583.4 670.2,584.7 671.7,585.3 672.6,585.5 675,585.6 677.4,585.8 677.5,585.8 679.8,586.7 682.3,587.3 683.4,587.5 684.7,587.7 687.1,588.5 689.2,589.3 689.5,589.4 692,590.3 694.4,591.4 695.1,591.8 696.8,592.7 699.2,593.3 700.9,593.3 701.7,593.3 704.1,593.6 706.5,594.6 706.7,594.7 708.9,595.4 711.3,596.2 712.6,596.7 713.8,597.1 716.2,597.8 718.4,598.1 718.6,598.1 721,598.8 723.5,599.7 724.2,599.9 725.9,600.1 728.3,600.2 730.1,600.6 730.7,600.8 733.1,601.8 735.6,602.6 735.9,602.7 738,603.4 740.4,604.2 741.8,604.5 742.8,604.7 745.3,605.1 747.6,606 747.7,606 750.1,607.2 752.5,607.8 753.4,607.9 755,608.2 757.4,608.8 759.3,609.4 759.8,609.6 762.2,610.2 764.6,611 765.1,611.2 767.1,612 769.5,612.5 770.9,612.8 771.9,613 774.3,614.1 776.8,615.2 776.8,615.2 779.2,615.7 781.6,616 782.6,616.2 784,616.6 786.4,617.3 787.4,617.6 788.5,617.9 788.9,618.1 791.3,619.4 793.7,620.5 794.3,620.7 796.1,621 798.6,621.4 800.1,622 801,622.3 803.4,623.2 805.8,623.6 806,623.7 808.3,624.3 810.7,625.2 811.8,625.6 813.1,626.1 815.5,627.1 817.7,628.4 817.9,628.5 820.4,629.6 822.8,629.9 823.5,630 825.2,630.4 827.6,631.5 829.3,632.2 830.1,632.5 832.5,633.4 834.9,634.4 835.2,634.5 837.3,635.2 839.7,635.8 841,636.2 842.2,636.6 844.6,637.8 846.8,638.5 847,638.5 849.4,638.7 851.9,639.2 852.7,639.5 854.3,640.1 856.7,640.8 858.5,641.3 859.1,641.5 861.6,642.2 864,642.6 864.4,642.7 866.4,642.9 867.9,643.3 868.8,643.8 870.2,644.5 871.2,645 873.7,645.7 876,646.1 876.1,646.1 878.5,646.6 880.9,647.2 881.9,647.4 883.4,647.6 885.8,648.2 887.7,648.9 888.2,649 890.6,649.5 893,649.8 893.5,649.9 895.5,650.6 897.9,651.6 899.4,651.9 900.3,651.9 902.7,651.9 905.2,652 905.2,652 907.6,652.3 910,652.7 911.1,653.1 912.4,653.6 914.9,654.5 916.9,654.9 917.3,654.9 919.7,655.1 922.1,655.7 922.7,655.9 924.5,656.4 927,656.6 928.6,656.7 929.4,656.7 931.8,657.2 934.2,657.6 934.4,657.6 936.7,658.1 939.1,659 940.2,659.5 941.5,659.7 943.9,659.8 946.1,659.7 946.3,659.8 948.8,660.3 951.2,660.9 951.9,661.1 953.6,661.3 956,661.7 957.8,662.1 958.5,662.2 960.9,662.4 963.3,662.7 963.6,662.8 965.7,663.5 968.2,664.1 969.4,664.2 970.6,664.1 973,664.3 975.3,664.9 975.4,664.9 977.8,665.4 980.3,665.6 981.1,665.7 982.7,665.9 985.1,666.1 987,666 987.5,666 990,666.4 992.4,667.4 992.8,667.5 994.8,668.1 997.2,668.2 998.6,668.3 999.6,668.5 1002.1,668.9 1004.5,669.1 1004.5,669.1 1006.9,669.4 1009.3,670 1010.3,670.1 1011.8,670.3 1014.2,670.5 1016.1,670.9 1016.6,671.1 1019,672 1021.5,672.4 1022,672.4 1023.9,672.3 1026.3,672.2 1027.8,672.3 1028.7,672.3 1031.1,672.3 1033.6,672.7 1033.7,672.7 1036,673.3 1038.4,673.6 1039.5,673.5 1040.8,673.5 1043.3,673.9 1045.3,674.4 1045.7,674.5 1048.1,674.7 1049.1,674.6 1050.5,674.6 1051.2,674.7 1052.9,674.8 1055.4,675.1 1057,675.2 1057.8,675.3 1060.2,675.9 1062.6,676.5 1062.8,676.6 1065.1,676.5 1067.5,676.3 1068.7,676.4 1069.9,676.6 1072.3,677.1 1074.5,677.3 1074.8,677.3 1077.2,677.4 1079.6,677.5 1080.4,677.5 1082,677.4 1084.4,677.3 1086.2,677.5 1086.9,677.7 1089.3,678.1 1091.7,678.1 1092,678.1 1094.1,678.1 1096.6,678.6 1097.9,678.9 1099,679.1 1101.4,679.2 1103.3,679.3 1103.7,679.3 1103.8,679.4 1106.2,679.4 1108.7,679.1 1109.5,679.1 1111.1,679.2 1113.5,679.9 1115.4,680.5 1115.9,680.6 1118.4,680.8 1120.8,680.9 1121.2,680.9 1123.2,681.2 1125.6,681.3 1127.1,681.3 1128.1,681.3 1130.5,681.6 1132.9,681.8" stroke="#8099ff"/>
<polyline points="163.8,255.1 166.2,257.4 168.6,259.7 169.6,260.6 171.1,262 173.5,264.5 175.5,266.6 175.9,267 178.3,269.1 180.8,271.4 181.3,272 183.2,274.3 185.6,277.1 187.2,278.4 188,278.9 190.5,280.3 192.9,282.2 193,282.4 195.3,284.7 197.7,287.3 198.9,288.5 200.1,289.9 202.6,292.5 204.7,294.6 205,294.8 207.3,296.7 207.4,296.8 209.8,299 210.5,299.8 212.3,301.8 214.7,304.2 216.4,305.5 217.1,306 219.5,307.8 221.9,310.5 222.2,310.8 224.4,313.4 226.8,315.7 228.1,316.8 229.2,317.8 231.6,319.8 233.9,321.7 234.1,321.8 236.5,323.9 238.9,326.5 239.8,327.5 241.3,329.3 243.8,331.5 245.6,332.6 246.2,332.9 248.6,334.6 251,336.8 251.4,337.2 253.4,338.9 255.9,340.5 257.3,341.5 258.3,342.3 260.7,344.5 263.1,347.1 265.6,349.7 268,352.5 269,353.7 270.4,355.2 272.8,357.1 274.8,358.4 275.2,358.7 277.7,361 280.1,363.9 280.7,364.6 282.5,366.4 284.9,368.2 286.5,369.4 287.4,370.1 289.8,372.4 292.2,374.6 292.3,374.7 294.6,376.7 297.1,378.9 298.2,379.9 299.5,381 301.9,382.9 304,384.8 304.3,385.1 306.7,387.9 309.2,390.7 309.9,391.3 311.6,392.6 314,393.8 315.7,395 316.4,395.6 318.9,398.1 321.3,400.5 321.6,400.8 323.7,402.9 326.1,405.4 327.4,406.7 328.5,407.9 331,410.1 333.3,412.3 333.4,412.4 335.7,415.1 335.8,415.2 338.2,417.6 339.1,418.2 340.7,419.3 343.1,421.1 344.9,423.1 345.5,423.8 347.9,427 350.4,429.6 350.8,430 352.8,431.7 355.2,434 356.6,435.4 357.6,436.3 360,438.6 362.5,441.4 364.9,444.2 367.3,446.6 368.3,447.4 369.7,448.3 372.2,450 374.2,451.9 374.6,452.3 377,454.2 379.4,455.3 380,455.5 381.8,456.2 384.3,457.7 385.8,458.9 386.7,459.6 389.1,461.5 391.5,463.5 391.7,463.6 394,465.4 396.4,466.7 397.5,467.2 398.8,467.7 401.2,469.3 403.4,471.3 403.7,471.5 406.1,473.4 408.5,474.6 409.2,475 410.9,476 413.3,478 415.1,479.4 415.8,479.9 418.2,481.5 420.6,483.1 420.9,483.2 423,484.6 425.5,486 426.7,486.8 427.9,487.6 430.3,489.8 432.6,491.9 432.7,492.1 435.1,493.5 437.6,494.1 438.4,494.4 440,495.2 442.4,496.9 444.3,498.2 444.8,498.6 445.6,499.1 447.3,500.1 449.7,501.8 450.1,502.1 452.1,503.8 454.5,505.9 456,507.1 457,508 459.4,510.3 461.8,512.4 464.2,513.4 466.6,514.4 467.4,514.8 467.6,515 469.1,516.1 471.5,518.2 473.5,519.6 473.9,519.8 476.3,520.8 478.8,521.8 479.3,522.1 481.2,523.1 483.6,524.3 485.2,525.2 486,525.7 488.4,527.4 490.9,528.9 491,529 493.3,530 495.7,531.3 496.9,532.1 498.1,533.2 500.6,534.8 502.7,535.5 503,535.5 505.4,535.8 507.8,536.7 508.5,537.1 510.3,538.1 512.7,539.4 514.4,540.4 515.1,540.8 517.5,542.1 519.9,543 520.2,543 522.4,543.5 524.8,544.4 526.1,545.1 527.2,545.7 527.4,545.8 529.6,546.7 531.9,547 532.1,547 534.5,547.5 536.9,548.8 537.8,549.3 539.3,550.2 541.7,551.2 543.6,551.8 544.2,552 546.6,552.8 549,553.7 549.4,553.9 551.4,554.8 553.9,556.4 555.3,557.6 556.3,558.3 558.7,559.4 561.1,559.7 563.6,560.3 566,561.4 567,561.8 568.4,562.2 570.8,562.5 572.8,562.8 573.2,562.9 575.7,563.7 578.1,564.6 578.7,564.9 580.5,565.6 582.9,566.8 584.5,567.5 585.4,567.8 587.8,568.1 590.2,568.3 590.3,568.3 592.6,569.2 595,570.7 596.2,571.2 597.5,571.7 599.9,572.1 602,572.6 602.3,572.7 604.7,573.6 607.2,574.5 607.9,574.7 609.6,575.2 612,576.1 613.7,576.8 614.4,577 616.9,577.7 619.3,578.5 619.6,578.7 621.7,580 624.1,581.3 625.4,581.6 626.5,581.7 629,581.8 631.2,582.2 631.4,582.3 633.8,583.3 636.2,584.3 637.1,584.6 638.7,585.2 641.1,586.2 642.9,587 643.5,587.2 645.9,587.9 648.4,588.8 648.8,589 650.8,590 653.2,590.8 654.6,591 655.6,591 658,591.4 660.5,592.3 662.9,593.4 665.3,594.1 666.3,594.3 667.7,594.5 670.2,594.9 672.2,595.4 672.6,595.5 675,596.2 677.4,597.3 678,597.6 679.8,598.6 682.3,599.6 683.8,600 684.7,600.2 687.1,601 689.5,602.2 689.7,602.3 692,603.2 694.4,603.6 695.5,603.8 696.8,604 699.2,604.8 701.4,605.7 701.7,605.8 704.1,606.8 706.5,607.8 707.2,608.1 708.9,608.7 711.3,609.1 713.1,609.3 713.8,609.4 716.2,610.1 718.6,611.2 718.9,611.3 721,612 723.5,612.3 724.7,612.6 725.9,612.9 728.3,613.7 730.6,614.5 730.7,614.6 733.1,615.2 735.6,615.9 736.4,616.2 738,616.7 740.4,617.4 742.3,618 742.8,618.2 745.3,619.4 747.7,620.6 748.1,620.7 750.1,621.2 752.5,621.5 754,621.8 755,622 757.4,622.9 759.8,623.6 762.2,624.2 764.6,624.9 765.6,625.2 767.1,625.7 769.5,626.5 771.5,627.2 771.9,627.4 774.3,628.4 776.8,629.2 777.3,629.4 779.2,629.7 781.6,630.1 783.2,630.7 784,631 786.4,632.1 787.4,632.5 788.9,632.9 789,632.9 791.3,633.3 793.7,633.8 794.9,634.1 796.1,634.4 798.6,634.9 800.7,635.5 801,635.6 803.4,636.5 805.8,637.2 806.5,637.4 808.3,637.7 810.7,638.4 812.4,639 813.1,639.4 815.5,640.2 817.9,640.6 818.2,640.6 820.4,640.8 822.8,641.4 824.1,641.9 825.2,642.3 827.6,643.2 829.9,644.1 830.1,644.2 832.5,645.1 834.9,645.8 835.8,646 837.3,646.3 839.7,647 841.6,647.8 842.2,648 844.6,648.8 847,649.1 847.4,649.1 849.4,649.5 851.9,650.3 853.3,650.8 854.3,651.1 856.7,651.6 859.1,652.1 861.6,652.6 864,653.1 865,653.4 866.4,653.8 867.9,654.4 868.8,654.9 870.8,655.9 871.2,656.1 873.7,657 876.1,657.4 876.7,657.6 878.5,658.1 880.9,659.1 882.5,659.7 883.4,660 885.8,660.6 888.2,661.3 888.3,661.3 890.6,662.2 893,663.2 894.2,663.7 895.5,664.2 897.9,665.3 900,666.2 900.3,666.2 902.7,666.8 905.2,667.3 905.9,667.5 907.6,668.3 910,669.5 911.7,670.2 912.4,670.4 914.9,671 917.3,671.7 917.6,671.7 919.7,672.5 922.1,673.2 923.4,673.6 924.5,673.9 927,674.7 929.2,675.4 929.4,675.5 931.8,676 934.2,676.7 935.1,677.1 936.7,677.7 939.1,678.6 940.5,678.7 940.9,678.8 941.5,678.8 943.9,678.9 946.3,679.3 946.8,679.4 948.8,679.9 951.2,680.5 952.6,680.8 953.6,681 956,681.5 958.5,681.9 960.9,681.9 963.3,681.9 965.7,681.9 968.2,681.9 970.6,681.9 973,681.9 975.4,681.9 977.8,681.9 980.3,681.9 982.7,681.9 985.1,681.9 987.5,681.9 990,681.9 992.4,681.9 994.8,681.9 997.2,681.9 999.6,681.9 1002.1,681.9 1004.5,681.9 1006.9,681.9 1009.3,681.9 1011.8,681.9 1014.2,681.9 1016.6,681.9 1019,681.9 1021.5,681.9 1023.9,681.9 1026.3,681.9 1028.7,681.9 1031.1,681.9 1033.6,681.9 1036,681.9 1038.4,681.9 1040.8,681.9 1043.3,681.9 1045.7,681.9 1048.1,681.9 1050.5,681.9 1052.9,681.9 1055.4,681.9 1057.8,681.9 1060.2,681.9 1062.6,681.9 1065.1,681.9 1067.5,681.9 1069.9,681.9 1072.3,681.9 1074.8,681.9 1077.2,681.9 1079.6,681.9 1082,681.9 1084.4,681.9 1086.9,681.9 1089.3,681.9 1091.7,681.9 1094.1,681.9 1096.6,681.9 1099,681.9 1101.4,681.9 1103.8,681.9 1106.2,681.9 1108.7,681.9 1111.1,681.9 1113.5,681.9 1115.9,681.9 1118.4,681.9 1120.8,681.9 1123.2,681.9 1125.6,681.9 1128.1,681.9 1130.5,681.9 1132.9,681.9" stroke="#999999"/>
<polyline points="163.8,255.1 166.2,256.9 168.6,258.8 169.6,259.7 171.1,261.1 173.5,263.1 175.5,264.8 175.9,265.3 178.3,268.2 180.8,271 181.3,271.5 183.2,273.2 185.6,275.5 187.1,277 188,277.8 190.5,279.3 192.9,280.6 193,280.7 195.3,282.8 197.7,285.6 198.8,286.6 200.1,287.6 202.6,289.1 204.6,290.8 205,291.1 207.3,293.3 207.4,293.3 209.8,295.2 210.5,295.7 212.3,297.1 214.7,299.6 216.3,301.2 217.1,301.9 219.5,303.7 221.9,305.9 222.2,306.2 224.4,308.5 226.8,310.3 228,310.8 229.2,311.2 231.6,312.8 233.8,314.9 234.1,315.2 236.5,317.5 238.9,319.7 239.7,320.4 241.3,322.1 243.8,324.5 245.5,325.8 246.2,326.2 248.6,328 251,330.4 251.3,330.7 253.4,332.5 255.9,334 257.2,334.9 258.3,335.9 260.7,338.6 263,341 263.1,341.2 265.6,342.9 268,344.7 268.8,345.4 270.4,346.8 272.8,348.6 274.7,350.1 275.2,350.6 277.7,353.1 280.1,355.7 280.5,356 282.5,357.3 284.9,358.5 286.3,359.5 287.4,360.4 289.8,362.3 292.2,363.5 292.2,363.5 294.6,364.8 297.1,366.9 298,367.9 299.5,369.3 301.9,371.5 303.8,373.4 304.3,373.9 306.7,376.3 309.2,378 309.7,378.3 311.6,379.3 314,381.3 315.5,383 316.4,383.9 318.9,386 321.3,387.4 321.3,387.5 323.7,389.3 326.1,391.5 327.2,392.2 328.5,393.1 331,394.6 333,396.2 333.4,396.5 335.8,398.4 338.2,399.9 338.9,400.4 340.7,402 343.1,404.6 344.7,406 345.5,406.5 347.9,407.4 350.4,408.4 350.5,408.5 352.8,410.2 355.2,411.9 356.4,412.6 357.6,413.4 358.4,414 360,415.3 362.2,417.2 362.5,417.4 364.9,418.9 367.3,420.4 368,420.9 369.7,422.3 372.2,424 373.9,424.6 374.6,424.8 377,425.8 379.4,427.8 379.7,428.1 381.8,429.9 384.3,431.3 385.5,431.9 386.7,432.6 389.1,434.1 391.4,435.4 391.5,435.4 394,436.8 396.4,438.9 397.2,439.7 398.8,441.3 401.2,443 403,444 403.7,444.4 406.1,446.4 408.5,448.4 408.9,448.6 410.9,449.4 413.3,450 414.7,450.6 415.8,451.2 418.2,452.7 420.5,454 420.6,454 423,455.7 425.5,457.7 426.4,458.3 427.9,459 430.3,459.6 432.2,460.5 432.7,460.9 435.1,462.8 437.6,464.2 438,464.4 440,465.2 442.4,466.6 443.9,467.7 444.8,468.4 445.6,468.9 447.3,469.8 449.7,470.9 449.7,470.9 452.1,472.2 454.5,473.4 455.6,473.8 457,474.3 459.4,475.8 461.4,477.7 461.8,478.1 464.2,480 466.6,480.8 467.2,480.9 467.4,481 469.1,481.6 471.5,482.9 473.1,483.6 473.9,483.9 476.3,484.6 478.8,485.7 478.9,485.8 481.2,487.2 483.6,488.4 484.7,488.9 486,489.7 488.4,491.6 490.6,493.1 490.9,493.3 493.3,494 495.7,494.7 496.4,495 498.1,496.3 500.6,498.1 502.2,499 503,499.3 505.4,500.4 507.8,501.7 508.1,501.8 510.3,502.5 512.7,503.1 513.9,503.6 515.1,504.3 517.5,505.9 519.7,506.9 519.9,507 522.4,508 524.8,509.8 525.6,510.5 527.2,511.9 527.4,512 529.6,513 531.4,513.4 532.1,513.6 534.5,514.5 536.9,515.6 537.2,515.7 539.3,516.5 541.7,517.9 543.1,518.9 544.2,519.7 546.6,521 548.9,521.6 549,521.6 551.4,522.6 553.9,524.2 554.7,524.7 556.3,525.2 558.7,525.7 560.6,526.3 561.1,526.6 563.6,528 566,529.1 566.4,529.2 568.4,529.8 570.8,530.8 572.3,531.3 573.2,531.5 575.7,531.8 578.1,532.5 578.1,532.5 580.5,534.4 582.9,536.1 583.9,536.6 585.4,537.2 587.8,538.2 589.8,539.4 590.2,539.7 592.6,540.9 595,541.5 595.6,541.6 597.5,542.2 599.9,543.2 601.4,543.7 602.3,544 604.7,544.8 607.2,546.2 607.3,546.3 609.6,547.6 612,548.1 613.1,548.2 614.4,548.4 616.9,549.4 618.9,550.5 619.3,550.7 621.7,551.6 624.1,552.4 624.8,552.7 626.5,553.5 629,554.3 630.6,554.6 631.4,554.7 633.8,555.4 636.2,556.3 636.4,556.4 638.7,556.8 641.1,557.1 642.3,557.6 643.5,558.2 645.9,559.8 648.1,560.7 648.4,560.8 650.8,561.3 653.2,561.9 653.9,562.2 655.6,562.6 658,563 659.8,563.4 660.5,563.6 662.9,564.7 665.3,565.5 665.6,565.6 667.7,566 670.2,566.8 671.4,567.5 672.6,568.1 675,569 677.3,569.4 677.4,569.4 679.8,570 682.3,571.2 683.1,571.5 684.7,572.1 687.1,572.9 689,573.6 689.5,573.8 692,574.4 694.4,574.4 694.8,574.4 696.8,574.5 699.2,575.3 700.6,575.8 701.7,576.1 704.1,576.6 706.5,577.2 706.5,577.2 708.9,578.2 711.3,579.1 712.3,579.4 713.8,579.7 716.2,580.2 718.1,580.7 718.6,580.9 721,581.3 723.5,581.8 724,582 725.9,582.8 728.3,584 729.8,584.4 730.7,584.5 733.1,584.8 735.6,585.6 735.6,585.6 738,586.5 740.4,587.1 741.5,587.3 742.8,587.7 745.3,588.6 747.3,589.3 747.7,589.4 750.1,589.9 752.5,590.6 753.1,590.8 755,591.3 757.4,591.7 759,591.7 759.8,591.8 762.2,592.4 764.6,593.5 764.8,593.6 767.1,594.4 769.5,595.1 770.6,595.4 771.9,595.9 774.3,596.6 776.5,597 776.8,597.1 779.2,597.6 781.6,598.4 782.3,598.6 784,599 786.4,599.4 787.4,599.6 788.1,599.7 788.9,600 791.3,601 793.7,601.8 794,601.8 796.1,602.1 798.6,602.6 799.8,603 801,603.4 803.4,604.3 805.7,605.1 805.8,605.2 808.3,606.3 810.7,607.3 811.5,607.6 813.1,607.9 815.5,608.3 817.3,608.9 817.9,609.1 820.4,610 822.8,610.4 823.2,610.5 825.2,610.9 827.6,611.9 829,612.5 830.1,612.9 832.5,613.6 834.8,614.2 834.9,614.2 837.3,614.9 839.7,615.2 840.7,615.3 842.2,615.5 844.6,616.2 846.5,617 847,617.2 849.4,617.7 851.9,618 852.3,618.1 854.3,618.6 856.7,619.3 858.2,619.7 859.1,619.9 861.6,620.3 864,621.1 864,621.1 866.4,621.8 867.9,622.2 868.8,622.5 869.8,622.7 871.2,623.2 873.7,624.1 875.7,624.4 876.1,624.4 878.5,624.3 880.9,624.5 881.5,624.6 883.4,625.1 885.8,625.7 887.3,625.9 888.2,626 890.6,626.6 893,627.2 893.2,627.3 895.5,627.6 897.9,627.9 899,628.2 900.3,628.5 902.7,629 904.8,629 905.2,629 907.6,629.3 910,630.1 910.7,630.3 912.4,630.7 914.9,630.8 916.5,630.8 917.3,630.8 919.7,631.1 922.1,631.4 922.4,631.5 924.5,631.7 927,632.4 928.2,632.7 929.4,633.1 931.8,633.4 934,633.5 934.2,633.6 936.7,634.1 939.1,634.6 939.9,634.6 941.5,634.6 943.9,634.6 945.7,635 946.3,635.2 948.8,635.9 951.2,636.5 951.5,636.6 953.6,637.1 956,637.7 957.4,638 958.5,638.1 960.9,638.2 963.2,638.7 963.3,638.7 965.7,639.4 968.2,639.8 969,639.8 970.6,639.8 973,640.2 974.9,640.6 975.4,640.7 977.8,640.8 980.3,640.8 980.7,640.9 982.7,641.1 985.1,641.5 986.5,641.6 987.5,641.8 990,642.4 992.4,643.3 992.4,643.3 994.8,643.9 997.2,643.9 998.2,643.9 999.6,644.1 1002.1,644.6 1004,645 1004.5,645 1006.9,645.2 1009.3,645.6 1009.9,645.8 1011.8,646.3 1014.2,646.7 1015.7,647 1016.6,647.1 1019,647.7 1021.5,648.2 1021.5,648.2 1023.9,648.3 1026.3,648.5 1027.4,648.8 1028.7,649.3 1031.1,650.1 1033.2,650.3 1033.6,650.4 1036,650.6 1038.4,651 1039.1,651.1 1040.8,651.3 1043.3,651.5 1044.9,651.8 1045.7,652.1 1048.1,652.8 1049.1,653.1 1050.5,653.3 1050.7,653.3 1052.9,653.7 1055.4,654.5 1056.6,655 1057.8,655.3 1060.2,655.5 1062.4,655.5 1062.6,655.5 1065.1,655.9 1067.5,656.4 1068.2,656.6 1069.9,656.9 1072.3,657.5 1074.1,658.1 1074.8,658.3 1077.2,658.9 1079.6,659.2 1079.9,659.3 1082,659.9 1084.4,660.9 1085.7,661.3 1086.9,661.6 1089.3,662 1091.6,662.8 1091.7,662.8 1094.1,663.8 1096.6,664.5 1097.4,664.7 1099,664.9 1101.4,665.4 1103.2,665.7 1103.3,665.8 1103.8,665.8 1106.2,666.1 1108.7,666.7 1109.1,666.9 1111.1,667.8 1113.5,668.7 1114.9,668.9 1115.9,669.1 1118.4,669.8 1120.7,670.8 1120.8,670.8 1121.6,671.1 1123.2,672.2 1125.6,673.5 1126.6,674 1128.1,675.4 1130.5,677.8 1132.4,679.8" stroke="#ff0000"/>
<polyline points="163.8,255.1 166.2,257.3 168.6,259.3 169.6,260 171.1,261.1 173.5,263 175.5,264.2 175.9,264.5 178.3,266.3 180.8,269.1 181.3,269.8 183.2,271.7 185.6,273.5 187.2,274.8 188,275.7 190.5,278.3 192.9,280.3 193,280.3 195.3,282.1 197.7,284.3 198.8,285.2 200.1,285.9 202.6,287 204.7,288.6 205,288.9 207.3,291.4 207.4,291.5 209.8,293.6 210.5,294.1 212.3,295.5 214.7,297.8 216.3,299.1 217.1,299.5 219.5,300.9 221.9,303.2 222.2,303.4 224.4,305.7 226.8,307.4 228,308.1 229.2,308.8 231.6,310.7 233.9,312.2 234.1,312.3 236.5,313.7 238.9,315.8 239.7,316.5 241.3,318 243.8,319.5 245.5,320.6 246.2,321.2 248.6,323.9 251,326.6 251.4,326.9 253.4,328.8 255.9,331.2 257.2,332.4 258.3,333.2 260.7,334.3 263,335.5 263.1,335.5 265.6,337.7 268,339.7 268.9,340.3 270.4,341.2 272.8,343.2 274.7,344.9 275.2,345.3 277.7,346.8 280.1,348.8 280.6,349.3 282.5,351.3 284.9,353 286.4,353.6 287.4,354 289.8,355.7 292.2,357.7 292.2,357.7 294.6,359.4 297.1,361.4 298.1,362.5 299.5,363.8 301.9,365.3 303.9,366.3 304.3,366.5 306.7,368.5 309.2,370.9 309.7,371.4 311.6,372.8 314,374.8 315.6,376.3 316.4,377 318.9,378.4 321.3,379.7 321.4,379.8 323.7,381.7 326.1,383.7 327.3,384.3 328.5,384.9 331,386.3 333.1,388 333.4,388.3 335.8,390.1 338.2,392.1 338.9,392.8 340.7,394.7 343.1,396.9 344.8,397.6 345.5,397.9 347.9,398.9 350.4,400.5 350.6,400.7 352.8,401.8 355.2,403 356.5,403.9 357.6,404.9 360,406.5 362.3,407.5 362.5,407.5 364.9,409.3 367.3,411.8 368.1,412.5 369.7,413.7 372.2,415.1 374,416.5 374.6,417 377,418.6 379.4,419.9 379.8,420.1 381.8,421.8 384.3,424.1 385.6,424.9 386.7,425.3 389.1,426.1 391.5,427.4 391.5,427.5 394,428.8 396.4,430 397.3,430.7 398.8,431.9 401.2,434 403.2,435.1 403.7,435.2 406.1,436.3 408.5,438.1 409,438.5 410.9,439.7 413.3,440.6 414.8,441.3 415.8,441.8 418.2,443.1 420.6,443.9 420.7,443.9 423,445.2 425.5,447.5 426.5,448.6 427.9,449.6 430.3,450.9 432.3,452.1 432.7,452.4 435.1,453.9 437.6,454.8 438.2,455 440,456 442.4,457.9 444,459 444.8,459.4 445.6,459.6 447.3,460.2 449.7,461.6 449.9,461.7 452.1,463.5 454.5,465 455.7,465.6 457,466.5 459.4,468.4 461.5,469.6 461.8,469.7 464.2,470.4 466.6,472 467.4,472.6 467.4,472.6 469.1,473.8 471.5,474.9 473.2,475.4 473.9,475.6 476.3,476.6 478.8,477 479,477 481.2,477.3 483.6,478.7 484.9,479.7 486,480.5 488.4,481.5 490.7,482.6 490.9,482.7 493.3,484.4 495.7,485.8 496.6,486.2 498.1,486.9 500.6,488.4 502.4,489.4 503,489.5 505.4,489.7 507.8,490.3 508.2,490.5 510.3,491.8 512.7,493.1 514.1,493.7 515.1,494.2 517.5,495.7 519.9,496.8 519.9,496.9 522.4,497.3 524.8,498.2 525.8,498.8 527.2,499.8 527.4,499.9 529.6,500.9 531.6,501.5 532.1,501.6 534.5,502.7 536.9,503.8 537.4,503.9 539.3,504.4 541.7,505.7 543.3,506.8 544.2,507.3 546.6,508.3 549,508.8 549.1,508.8 551.4,510.2 553.9,511.8 554.9,512.3 556.3,513 558.7,514.5 560.8,515.9 561.1,516.1 563.6,516.6 566,516.9 566.6,517.2 568.4,518.1 570.8,519.6 572.5,520.2 573.2,520.6 575.7,522 578.1,523.7 578.3,523.8 580.5,524.8 582.9,526 584.1,526.9 585.4,527.8 587.8,529.2 590,529.6 590.2,529.6 592.6,530.1 595,531 595.8,531.2 597.5,531.6 599.9,532.5 601.6,533.5 602.3,534 604.7,535 607.2,535.5 607.5,535.5 609.6,536.3 612,537.7 613.3,538.4 614.4,538.8 616.9,539.9 619.2,541.3 619.3,541.3 621.7,542.3 624.1,542.7 625,543 626.5,543.7 629,545 630.8,545.6 631.4,545.7 633.8,546.1 636.2,547 636.7,547.2 638.7,547.7 641.1,548.4 642.5,549.2 643.5,549.8 645.9,551.3 648.4,552 650.8,552.3 653.2,553 654.2,553.3 655.6,553.6 658,554 660,554.7 660.5,554.9 662.9,555.9 665.3,556.3 665.9,556.4 667.7,556.9 670.2,558.2 671.7,558.9 672.6,559.2 675,559.8 677.4,560.5 677.5,560.6 679.8,561.2 682.3,561.4 683.4,561.5 684.7,562 687.1,563.1 689.2,563.9 689.5,564 692,564.4 694.4,565.2 695.1,565.4 696.8,566 699.2,566.5 700.9,567.1 701.7,567.5 704.1,568.8 706.5,569.6 706.7,569.6 708.9,570 711.3,570.7 712.6,571.2 713.8,571.6 716.2,572 718.4,572.3 718.6,572.4 721,573 723.5,573.2 724.2,573.2 725.9,573.4 728.3,574.3 730.1,575.1 730.7,575.4 733.1,576.2 735.6,577 735.9,577.1 738,577.8 740.4,578.3 741.8,578.5 742.8,578.7 745.3,579.6 747.6,580.4 747.7,580.4 750.1,580.8 752.5,581.3 753.4,581.6 755,582.2 757.4,582.9 759.3,583.4 759.8,583.6 762.2,584.6 764.6,585.4 765.1,585.4 767.1,585.7 769.5,586.2 770.9,586.8 771.9,587.2 774.3,588 776.8,588.6 776.8,588.6 779.2,589.4 781.6,589.9 782.6,590 784,590.1 786.4,590.8 787.4,591.2 788.5,591.6 788.9,591.8 791.3,592.5 793.7,593.1 794.3,593.3 796.1,594 798.6,594.9 800.1,595.2 801,595.4 803.4,596.3 805.8,597.2 806,597.2 808.3,597.5 810.7,597.8 811.8,598.1 813.1,598.6 815.5,599.5 817.7,600.3 817.9,600.4 820.4,601.6 822.8,602.7 823.5,603 825.2,603.4 827.6,603.9 829.3,604.6 830.1,604.9 832.5,605.8 834.9,606.2 835.2,606.3 837.3,606.8 839.7,607.5 841,607.7 842.2,607.8 844.6,608.3 846.8,609.2 847,609.2 849.4,609.9 851.9,610.2 852.7,610.3 854.3,610.7 856.7,611.4 858.5,611.9 859.1,612 861.6,612.7 864,613.6 864.4,613.7 866.4,614.1 867.9,614.1 868.8,614.1 870.2,614.2 871.2,614.4 873.7,614.9 876,615.2 876.1,615.2 878.5,615.6 880.9,616.3 881.9,616.5 883.4,616.7 885.8,617 887.7,617.5 888.2,617.7 890.6,618.4 893,618.6 893.5,618.6 895.5,618.7 897.9,619 899.4,619 900.3,619 902.7,619.2 905.2,619.8 905.2,619.8 907.6,620.5 910,620.6 911.1,620.7 912.4,620.8 914.9,621.2 916.9,621.5 917.3,621.5 919.7,621.7 922.1,622.1 922.7,622.2 924.5,622.4 927,622.3 928.6,622.3 929.4,622.4 931.8,622.9 934.2,623.3 934.4,623.3 936.7,623.4 939.1,623.8 940.2,624 941.5,624.2 943.9,624.4 946.1,624.9 946.3,624.9 948.8,625.9 951.2,626.5 951.9,626.5 953.6,626.6 956,626.9 957.8,627.1 958.5,627.1 960.9,627.1 963.3,627.3 963.6,627.4 965.7,627.8 968.2,628 969.4,627.9 970.6,628 973,628.6 975.3,629.2 975.4,629.3 977.8,629.6 980.3,630.1 981.1,630.3 982.7,630.5 985.1,630.5 987,630.4 987.5,630.5 990,631 992.4,631.6 992.8,631.7 994.8,631.9 997.2,632.2 998.6,632.5 999.6,632.7 1002.1,632.8 1004.5,633.1 1004.5,633.1 1006.9,633.9 1009.3,634.4 1010.3,634.5 1011.8,634.6 1014.2,634.9 1016.1,635.4 1016.6,635.5 1019,635.8 1021.5,636.1 1022,636.2 1023.9,636.7 1026.3,636.9 1027.8,636.8 1028.7,636.8 1031.1,637.1 1033.6,637.9 1033.7,637.9 1036,638.4 1038.4,638.9 1039.5,639.2 1040.8,639.5 1043.3,639.7 1045.3,639.6 1045.7,639.6 1048.1,639.8 1049.1,640.1 1050.5,640.3 1051.2,640.4 1052.9,640.4 1055.4,640.5 1057,640.8 1057.8,641 1060.2,641.4 1062.6,641.8 1062.8,641.9 1065.1,642.6 1067.5,643.4 1068.7,643.6 1069.9,643.6 1072.3,643.7 1074.5,644.1 1074.8,644.2 1077.2,644.7 1079.6,644.9 1080.4,645.1 1082,645.5 1084.4,645.9 1086.2,645.9 1086.9,645.9 1089.3,646 1091.7,646.7 1092,646.8 1094.1,647.3 1096.6,647.6 1097.9,648 1099,648.3 1101.4,649 1103.3,649.4 1103.7,649.5 1103.8,649.5 1106.2,650.2 1108.7,651.3 1109.5,651.6 1111.1,652 1113.5,652.4 1115.4,652.9 1115.9,653.2 1118.4,654.4 1120.8,655.6 1121.2,655.8 1121.6,656 1123.2,657.4 1125.6,659.7 1127.1,660.9 1128.1,662.3 1130.5,665.6 1132.9,678.4" stroke="#00ff00"/>
<polyline points="163.8,255.1 166.2,256.9 168.6,258.5 169.6,259.2 171.1,260.2 173.5,261.8 175.4,263.3 175.9,263.8 178.3,266.3 180.8,268.6 181.2,268.9 183.2,269.8 185.6,270.9 187.1,272.1 188,273.1 190.5,275.8 192.9,277.8 195.3,279.1 197.7,280.6 198.7,281.3 200.1,282.3 202.6,283.9 204.5,285.3 205,285.7 207.3,287.9 207.4,287.9 209.8,289.9 210.3,290.2 212.3,291 214.7,292 216.1,292.9 217.1,293.8 219.5,296 221.9,297.6 224.4,299.1 226.8,301.3 227.8,302.4 229.2,303.9 231.6,305.9 233.6,307.1 234.1,307.5 236.5,309.3 238.9,311.3 239.4,311.7 241.3,312.8 243.8,314.2 245.2,315.3 246.2,316.1 248.6,317.8 251,318.8 253.4,319.8 255.9,322.1 256.8,323.2 258.3,324.9 260.7,327 262.6,328 263.1,328.2 265.6,329.5 268,331.2 268.5,331.6 270.4,332.9 272.8,334.8 274.3,336.1 275.2,337 277.7,339 280.1,340 282.5,341 284.9,343.1 285.9,344.2 287.4,345.8 289.8,347.8 291.7,348.8 292.2,349 294.6,350.4 297.1,352.2 297.5,352.5 299.5,353.9 301.9,355.8 303.4,357.2 304.3,358.2 306.7,360.6 309.2,362.2 311.6,363.5 314,365.5 315,366.4 316.4,367.7 318.9,369 320.8,369.8 321.3,370 323.7,371.5 326.1,373.5 326.6,373.9 328.5,375.1 331,376.4 332.4,377.4 333.4,378.3 335.8,380.6 338.2,382.7 340.7,384.6 343.1,386.9 344.1,387.8 345.5,388.9 347.9,390 349.9,390.7 350.4,391 352.8,393 355.2,395.6 355.7,396 357.6,397.4 360,398.4 361.5,399.1 362.5,399.6 364.9,401.3 367.3,403 369.7,404.8 372.2,406.8 373.1,407.6 374.6,408.5 377,409.4 378.9,409.9 379.4,410.2 381.8,412.2 384.3,414.9 384.8,415.4 386.7,417 389.1,418.2 390.6,419 391.5,419.6 394,421.2 396.4,422.6 398.8,423.9 401.2,425.6 402.2,426.4 403.7,427.4 406.1,428.6 408,429.5 408.5,429.8 410.9,431.7 413.3,434.1 413.8,434.5 415.8,435.8 418.2,437.1 419.6,438.1 420.6,438.9 423,440.9 425.5,442.2 427.9,442.8 430.3,443.8 431.3,444.3 432.7,445.2 435.1,446.5 437.1,447.5 437.6,447.8 440,449.4 442.4,450.9 442.9,451.1 444.8,451.7 445.6,451.8 447.3,452.3 448.7,453.1 449.7,453.9 452.1,456.1 454.5,457.6 457,458.2 459.4,459 460.3,459.5 461.8,460.4 464.2,461.9 466.2,463.1 466.6,463.4 469.1,465.1 471.5,466.3 472,466.5 473.9,466.6 476.3,466.6 477.8,467.1 478.8,467.6 481.2,469.3 483.6,470.5 486,471 488.4,471.8 489.4,472.3 490.9,473.1 493.3,474.5 495.2,475.3 495.7,475.6 498.1,477 500.6,478.3 501,478.5 503,479 505.4,479.3 506.9,479.7 507.8,480.2 510.3,481.5 512.7,482.4 515.1,482.9 517.5,484.2 518.5,485 519.9,486.1 522.4,487.5 524.3,488 524.8,488.1 527.2,489.1 527.4,489.2 529.6,490.5 530.1,490.8 532.1,491.9 534.5,493 535.9,493.8 536.9,494.3 539.3,495.7 541.7,496.3 544.2,496.8 546.6,498.3 547.6,499.1 549,500.4 551.4,501.7 553.4,501.9 553.9,501.9 556.3,502.3 558.7,503.4 559.2,503.7 561.1,504.8 563.6,506.3 565,507.3 566,508.1 568.4,509.8 570.8,510.8 573.2,511.6 575.7,513.2 576.6,514.1 578.1,515.3 580.5,516.8 582.5,517.2 582.9,517.2 585.4,517.8 587.8,518.9 588.3,519.2 590.2,520 592.6,520.9 594.1,521.7 595,522.3 597.5,523.8 599.9,525 602.3,525.7 604.7,526.9 605.7,527.5 607.2,528.4 609.6,529.3 611.5,529.7 612,529.8 614.4,530.8 616.9,532.3 617.3,532.6 619.3,533.3 621.7,533.8 623.2,534.1 624.1,534.5 626.5,535.7 629,536.8 631.4,537.7 633.8,538.6 634.8,539 636.2,539.5 638.7,540 640.6,540.2 641.1,540.3 643.5,541.6 645.9,543.4 646.4,543.8 648.4,544.7 650.8,545.1 652.2,545.3 653.2,545.5 655.6,546.4 658,547.3 660.5,548 662.9,548.7 663.9,549 665.3,549.4 667.7,549.6 669.7,549.7 670.2,549.8 672.6,550.7 675,552.3 675.5,552.6 677.4,553.5 679.8,554.1 681.3,554.4 682.3,554.7 684.7,555.7 687.1,556.6 689.5,557.2 692,557.9 692.9,558.3 694.4,558.8 696.8,559.5 698.7,559.9 699.2,560 701.7,560.7 704.1,561.7 704.6,561.9 706.5,562.3 708.9,562.7 710.4,563 711.3,563.3 713.8,564.4 716.2,565.1 718.6,565.3 721,565.8 722,566.1 723.5,566.7 725.9,567.8 727.8,568.4 728.3,568.6 730.7,569.4 733.1,570.1 733.6,570.2 735.6,570.4 738,570.6 739.4,570.9 740.4,571.3 742.8,572.4 745.3,573.2 747.7,573.4 750.1,573.8 751.1,574.1 752.5,574.6 755,575.7 756.9,576.4 757.4,576.6 759.8,577.5 762.2,578.3 762.7,578.4 764.6,578.7 767.1,578.8 768.5,579.1 769.5,579.4 771.9,580.3 774.3,581.1 776.8,581.3 779.2,581.7 780.1,581.9 781.6,582.4 784,583.2 786,583.6 786.4,583.7 787.4,583.9 788.9,584.3 791.3,585.1 791.8,585.3 793.7,585.8 796.1,586.3 797.6,586.6 798.6,586.9 801,587.8 803.4,588.6 805.8,589 808.3,589.8 809.2,590.2 810.7,590.8 813.1,591.5 815,591.6 815.5,591.6 817.9,591.8 820.4,592.4 820.8,592.6 822.8,593.1 825.2,593.7 826.7,594.1 827.6,594.4 830.1,595 832.5,595.5 834.9,595.9 837.3,596.7 838.3,597.1 839.7,597.8 842.2,598.5 844.1,598.6 844.6,598.6 847,598.6 849.4,599 849.9,599.2 851.9,599.7 854.3,600.3 855.7,600.7 856.7,600.9 859.1,601.6 861.6,602 864,602.2 866.4,602.8 867.4,603.2 867.9,603.4 868.8,603.7 871.2,604.4 873.2,604.6 873.7,604.6 876.1,604.8 878.5,605.4 879,605.5 880.9,606 883.4,606.3 884.8,606.5 885.8,606.6 888.2,607.2 890.6,607.6 893,607.7 895.5,607.9 896.4,608.1 897.9,608.3 900.3,608.6 902.3,608.7 902.7,608.7 905.2,609.2 907.6,610.1 908.1,610.3 910,610.8 912.4,611 913.9,611.1 914.9,611.2 917.3,611.9 919.7,612.6 922.1,612.9 924.5,613.2 925.5,613.3 927,613.4 929.4,613.4 931.3,613.3 931.8,613.4 934.2,613.8 936.7,614.8 937.1,615 939.1,615.4 941.5,615.4 943,615.4 943.9,615.4 946.3,615.8 948.8,616.4 951.2,616.8 953.6,617.2 954.6,617.3 956,617.5 958.5,617.7 960.4,617.7 960.9,617.7 963.3,618.1 965.7,618.9 966.2,619 968.2,619.4 970.6,619.4 972,619.4 973,619.5 975.4,619.9 977.8,620.3 980.3,620.5 982.7,620.8 983.7,621 985.1,621.4 987.5,622 989.5,622.2 990,622.3 992.4,622.6 994.8,623 995.3,623.1 997.2,623.3 999.6,623.2 1001.1,623.2 1002.1,623.3 1004.5,623.8 1006.9,624.1 1009.3,623.9 1011.8,623.8 1012.7,623.9 1014.2,624.3 1016.6,625.1 1018.5,625.5 1019,625.6 1021.5,626 1023.9,626.3 1024.4,626.4 1026.3,626.5 1028.7,626.5 1030.2,626.7 1031.1,626.9 1033.6,627.7 1036,628.3 1038.4,628.2 1040.8,628.1 1041.8,628.2 1043.3,628.5 1045.7,629.2 1047.6,629.5 1048.1,629.6 1049.1,629.7 1050.5,629.9 1052.9,630.2 1053.4,630.2 1055.4,630.3 1057.8,630.3 1059.2,630.5 1060.2,630.7 1062.6,631.4 1065.1,632.1 1067.5,632.3 1069.9,632.5 1070.9,632.7 1072.3,633.1 1074.8,633.6 1076.7,633.7 1077.2,633.7 1079.6,633.9 1082,634.3 1082.5,634.4 1084.4,634.8 1086.9,635.1 1088.3,635.4 1089.3,635.5 1091.7,636 1094.1,636.4 1096.6,636.4 1099,636.4 1101.4,636.4 1103.8,636.5 1106.2,636.5 1108.7,636.5 1111.1,636.5 1113.5,636.5 1115.9,636.5 1118.4,636.6 1120.8,636.6 1123.2,636.6 1125.6,636.6 1128.1,636.6 1130.5,636.6 1132.9,636.7" stroke="#000000"/>
</g>
<rect x="163.8" y="253.3" width="969.1" height="552" fill="none" stroke="#262626" stroke-width="1.5"/>
<text x="162.3" y="847.3" font-size="29.9" text-anchor="middle" fill="#262626">0</text>
<text x="405" y="847.3" font-size="29.9" text-anchor="middle" fill="#262626">500</text>
<text x="648.7" y="847.3" font-size="29.9" text-anchor="middle" fill="#262626">1000</text>
<text x="891.2" y="847.3" font-size="29.9" text-anchor="middle" fill="#262626">1500</text>
<text x="1133.2" y="847.3" font-size="29.9" text-anchor="middle" fill="#262626">2000</text>
<text x="151.3" y="816.9" font-size="29.9" text-anchor="end" fill="#262626">0.15</text>
<text x="151.3" y="747.9" font-size="29.9" text-anchor="end" fill="#262626">0.2</text>
<text x="151.3" y="678.9" font-size="29.9" text-anchor="end" fill="#262626">0.25</text>
<text x="151.3" y="609.9" font-size="29.9" text-anchor="end" fill="#262626">0.3</text>
<text x="151.3" y="540.9" font-size="29.9" text-anchor="end" fill="#262626">0.35</text>
<text x="151.3" y="471.9" font-size="29.9" text-anchor="end" fill="#262626">0.4</text>
<text x="151.3" y="402.9" font-size="29.9" text-anchor="end" fill="#262626">0.45</text>
<text x="151.3" y="333.9" font-size="29.9" text-anchor="end" fill="#262626">0.5</text>
<text x="151.3" y="264.9" font-size="29.9" text-anchor="end" fill="#262626">0.55</text>
<path d="M406.1,805.3v-9.8M406.1,253.3v9.8M648.4,805.3v-9.8M648.4,253.3v9.8M890.6,805.3v-9.8M890.6,253.3v9.8M163.8,736.3h9.8M1132.9,736.3h-9.8M163.8,667.3h9.8M1132.9,667.3h-9.8M163.8,598.3h9.8M1132.9,598.3h-9.8M163.8,529.3h9.8M1132.9,529.3h-9.8M163.8,460.3h9.8M1132.9,460.3h-9.8M163.8,391.3h9.8M1132.9,391.3h-9.8M163.8,322.3h9.8M1132.9,322.3h-9.8" stroke="#303030" stroke-width="1.25" fill="none"/>
 <text x="648" y="890.5" font-size="32.9" text-anchor="middle" fill="#262626">No of Rounds</text>
<text transform="translate(76.1,529.3) rotate(-90)" font-size="32.9" text-anchor="middle" fill="#262626">Residual Energy</text>
<text class="cap" transform="translate(574.54,999.6) scale(0.9145,1)" font-size="86" fill="#000">(</text>
<text class="cap" transform="translate(601.54,999.6) scale(1.0213,1)" font-size="86" font-weight="bold" fill="#000">d</text>
<text class="cap" transform="translate(651.78,999.6) scale(0.9100,1)" font-size="86" fill="#000">)</text>
</g>
</svg></body></html>
